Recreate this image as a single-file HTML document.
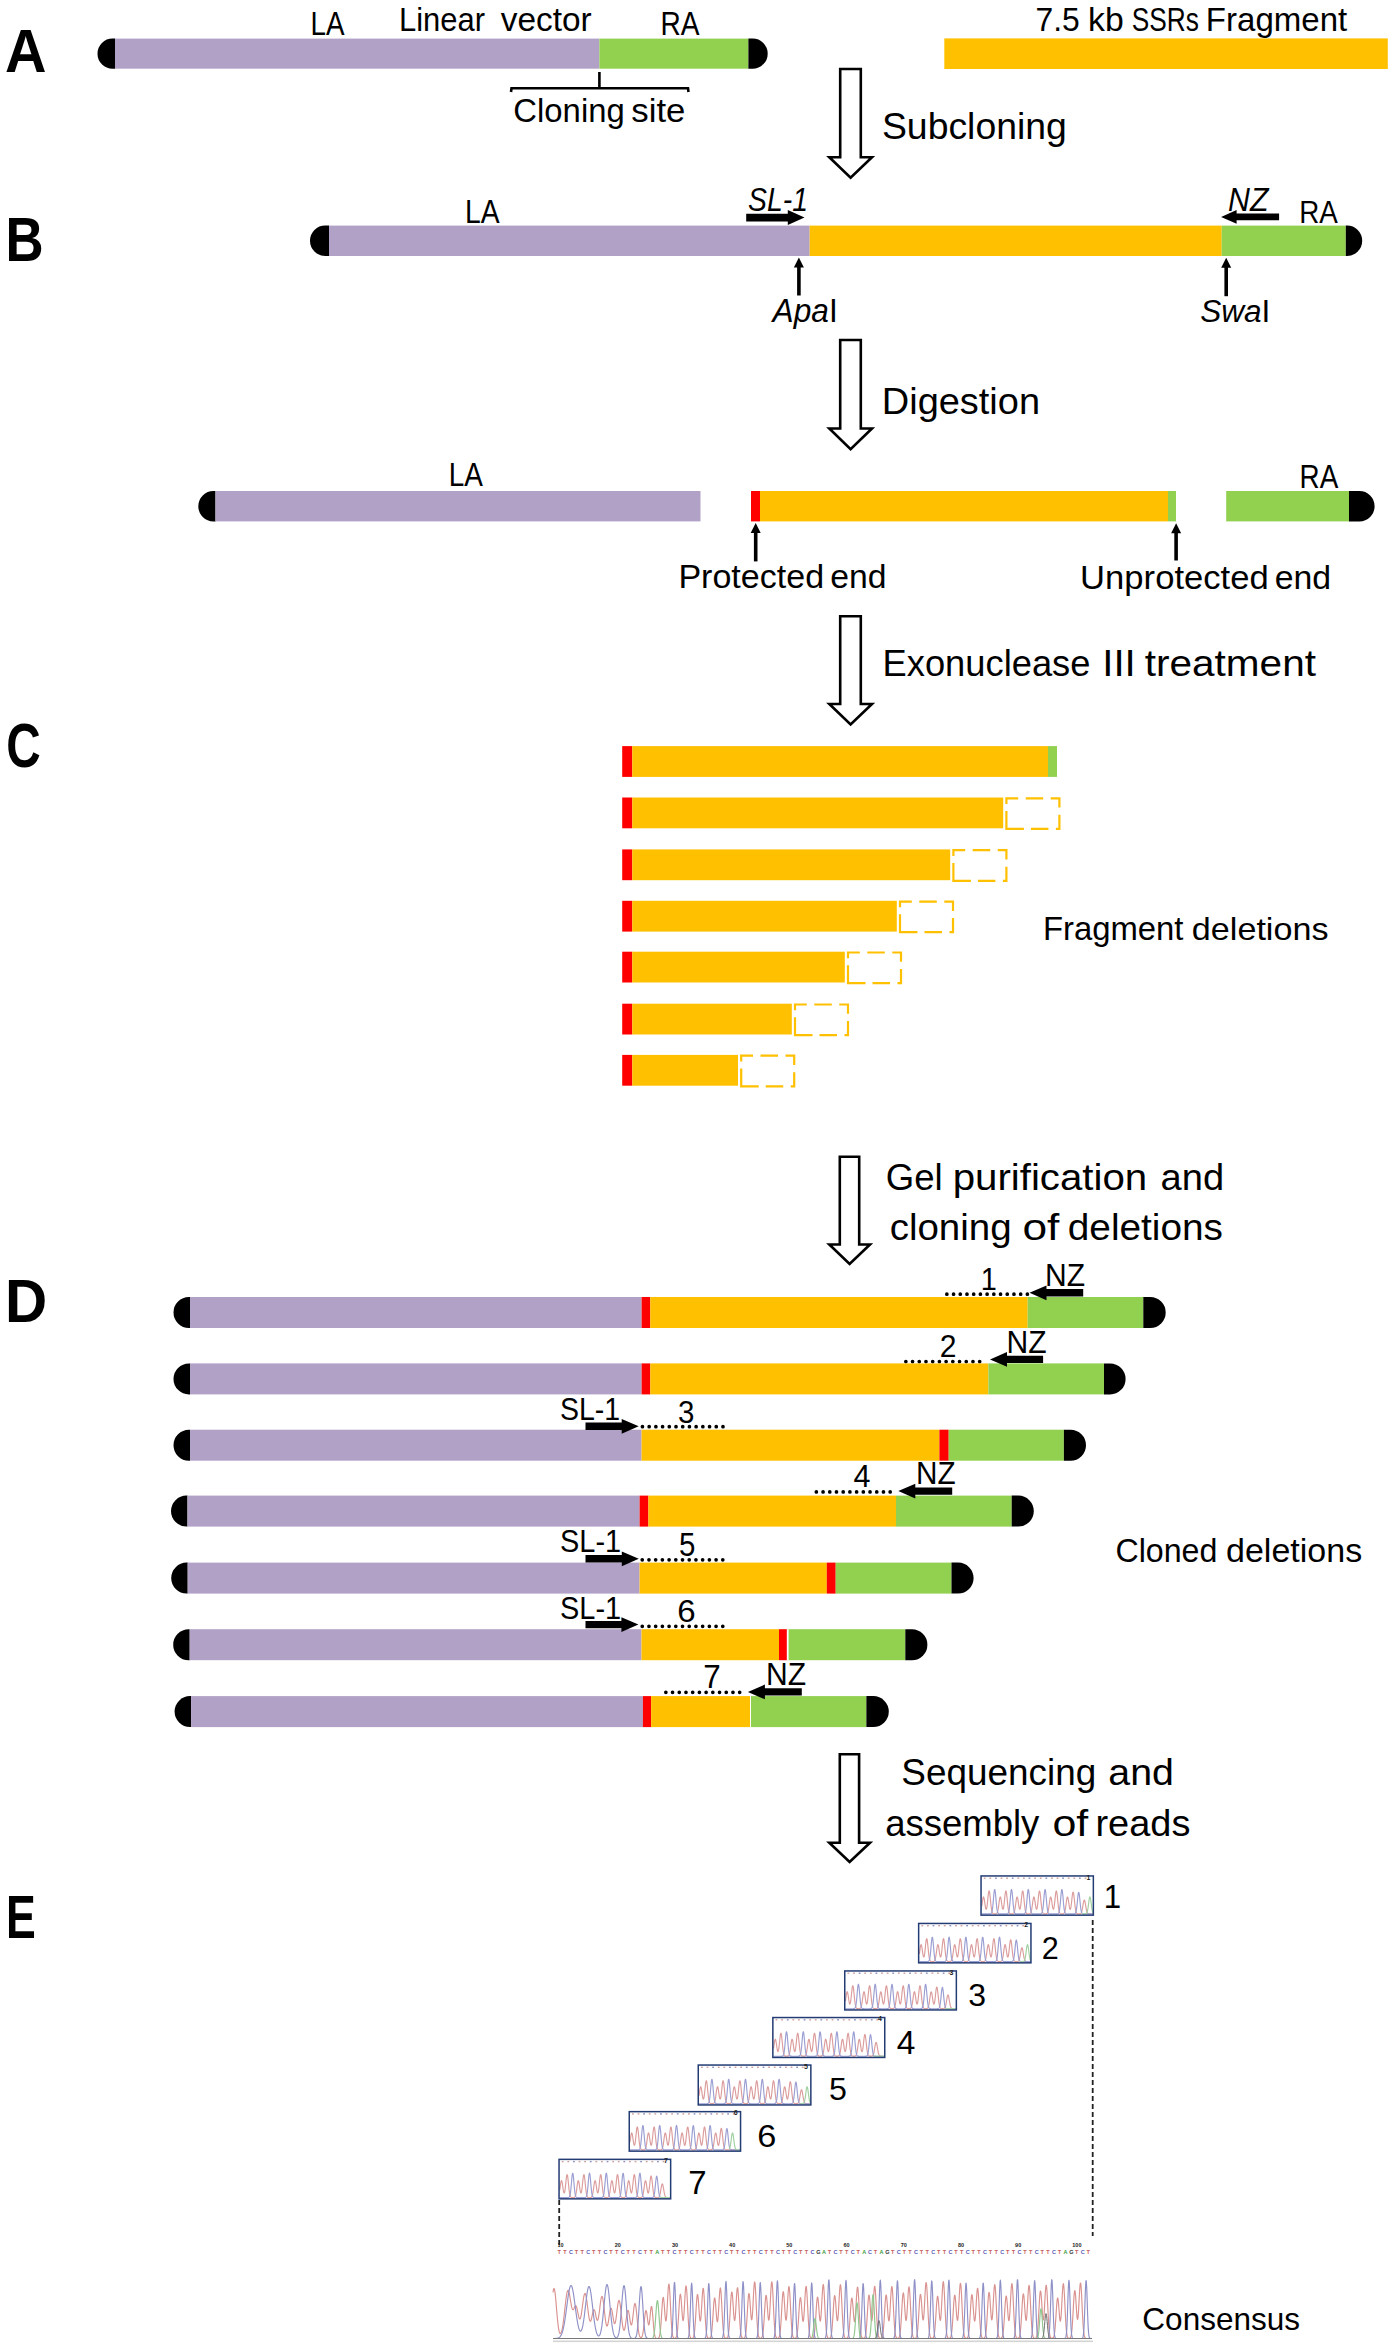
<!DOCTYPE html>
<html><head><meta charset="utf-8"><style>
html,body{margin:0;padding:0;background:#fff;}
body{width:1395px;height:2350px;overflow:hidden;}
svg{display:block;font-family:"Liberation Sans",sans-serif;}

</style></head><body>
<svg width="1395" height="2350" viewBox="0 0 1395 2350">
<rect width="1395" height="2350" fill="#fff"/>
<text transform="translate(5.06,72.30) scale(0.9339,1)" font-size="61.53" fill="#000"><tspan font-weight="bold">A</tspan></text>
<path d="M115.00,38.60 L112.55,38.60 A15.05,15.05 0 0 0 112.55,68.70 L115.00,68.70 Z" fill="#000"/>
<rect x="115.00" y="38.60" width="484.40" height="30.10" fill="#B2A1C7"/>
<rect x="599.40" y="38.60" width="149.00" height="30.10" fill="#92D050"/>
<path d="M748.40,38.60 L752.65,38.60 A15.05,15.05 0 0 1 752.65,68.70 L748.40,68.70 Z" fill="#000"/>
<rect x="944.30" y="38.40" width="443.50" height="30.60" fill="#FFC000"/>
<text transform="translate(310.61,34.70) scale(0.8451,1)" font-size="32.87" fill="#000"><tspan>LA</tspan></text>
<text transform="translate(399.05,30.60) scale(0.9454,1)" font-size="32.73" fill="#000"><tspan>Linear</tspan></text>
<text transform="translate(500.72,30.60) scale(1.0212,1)" font-size="32.73" fill="#000"><tspan>vector</tspan></text>
<text transform="translate(660.58,35.00) scale(0.8406,1)" font-size="33.45" fill="#000"><tspan>RA</tspan></text>
<text transform="translate(1035.51,30.80) scale(0.9561,1)" font-size="33.31" fill="#000"><tspan>7.5</tspan></text>
<text transform="translate(1088.02,30.80) scale(1.0139,1)" font-size="33.31" fill="#000"><tspan>kb</tspan></text>
<text transform="translate(1131.72,30.80) scale(0.7897,1)" font-size="33.31" fill="#000"><tspan>SSRs</tspan></text>
<text transform="translate(1205.87,30.80) scale(0.9917,1)" font-size="33.31" fill="#000"><tspan>Fragment</tspan></text>
<path d="M511,92 L511.5,88.2 L688,88.2 L688.5,92 M599.4,72 L599.4,88.2" fill="none" stroke="#000" stroke-width="2.6"/>
<text transform="translate(513.36,122.20) scale(1.0000,1)" font-size="32.83" fill="#000"><tspan>Cloning</tspan></text>
<text transform="translate(631.34,122.20) scale(1.0584,1)" font-size="32.83" fill="#000"><tspan>site</tspan></text>
<path d="M840.2,69.0 L860.8,69.0 L860.8,157.3 L872.0,157.3 L850.6,177.8 L829.3,157.3 L840.2,157.3 Z" fill="#fff" stroke="#000" stroke-width="2.6" stroke-linejoin="miter"/>
<text transform="translate(881.92,138.90) scale(0.9875,1)" font-size="37.85" fill="#000"><tspan>Subcloning</tspan></text>
<text transform="translate(5.44,260.60) scale(0.8440,1)" font-size="62.55" fill="#000"><tspan font-weight="bold">B</tspan></text>
<path d="M329.00,225.60 L325.20,225.60 A15.20,15.20 0 0 0 325.20,256.00 L329.00,256.00 Z" fill="#000"/>
<rect x="329.00" y="225.60" width="480.70" height="30.40" fill="#B2A1C7"/>
<rect x="809.70" y="225.60" width="412.00" height="30.40" fill="#FFC000"/>
<rect x="1221.70" y="225.60" width="124.10" height="30.40" fill="#92D050"/>
<path d="M1345.80,225.60 L1347.00,225.60 A15.20,15.20 0 0 1 1347.00,256.00 L1345.80,256.00 Z" fill="#000"/>
<text transform="translate(465.06,223.00) scale(0.8462,1)" font-size="33.45" fill="#000"><tspan>LA</tspan></text>
<text transform="translate(748.12,210.60) scale(0.8673,1)" font-size="32.69" fill="#000"><tspan font-style="italic">SL-1</tspan></text>
<path d="M746.20,213.70 L787.80,213.70 L787.80,210.10 L804.50,217.60 L787.80,225.10 L787.80,221.50 L746.20,221.50 Z" fill="#000"/>
<text transform="translate(1228.09,210.50) scale(0.9300,1)" font-size="32.58" fill="#000"><tspan font-style="italic">NZ</tspan></text>
<path d="M1279.10,213.50 L1236.60,213.50 L1236.60,210.00 L1221.10,216.90 L1236.60,223.80 L1236.60,220.30 L1279.10,220.30 Z" fill="#000"/>
<text transform="translate(1299.21,223.00) scale(0.8614,1)" font-size="32.29" fill="#000"><tspan>RA</tspan></text>
<path d="M798.90,295.50 L798.90,263.40" stroke="#000" stroke-width="3.6"/>
<path d="M793.90,267.40 L798.90,257.40 L803.90,267.40 Z" fill="#000"/>
<path d="M1226.20,296.20 L1226.20,263.80" stroke="#000" stroke-width="3.6"/>
<path d="M1221.20,267.80 L1226.20,257.80 L1231.20,267.80 Z" fill="#000"/>
<text transform="translate(772.58,322.00) scale(0.9464,1)" font-size="33.45" fill="#000"><tspan font-style="italic">Apa</tspan><tspan>I</tspan></text>
<text transform="translate(1200.13,321.70) scale(0.9790,1)" font-size="32.26" fill="#000"><tspan font-style="italic">Swa</tspan><tspan>I</tspan></text>
<path d="M840.2,340.0 L860.8,340.0 L860.8,428.5 L872.0,428.5 L850.6,449.3 L829.3,428.5 L840.2,428.5 Z" fill="#fff" stroke="#000" stroke-width="2.6" stroke-linejoin="miter"/>
<text transform="translate(881.87,413.50) scale(1.0109,1)" font-size="37.53" fill="#000"><tspan>Digestion</tspan></text>
<path d="M215.50,491.00 L213.50,491.00 A15.20,15.20 0 0 0 213.50,521.40 L215.50,521.40 Z" fill="#000"/>
<rect x="215.50" y="491.00" width="485.00" height="30.40" fill="#B2A1C7"/>
<rect x="751.00" y="491.00" width="9.00" height="30.40" fill="#FF0000"/>
<rect x="760.00" y="491.00" width="408.00" height="30.40" fill="#FFC000"/>
<rect x="1168.00" y="491.00" width="8.00" height="30.40" fill="#92D050"/>
<rect x="1226.20" y="491.00" width="122.80" height="30.40" fill="#92D050"/>
<path d="M1349.00,491.00 L1359.40,491.00 A15.20,15.20 0 0 1 1359.40,521.40 L1349.00,521.40 Z" fill="#000"/>
<text transform="translate(448.79,486.40) scale(0.8393,1)" font-size="33.31" fill="#000"><tspan>LA</tspan></text>
<text transform="translate(1299.50,487.70) scale(0.8337,1)" font-size="33.45" fill="#000"><tspan>RA</tspan></text>
<path d="M755.70,561.40 L755.70,529.00" stroke="#000" stroke-width="3.6"/>
<path d="M750.70,533.00 L755.70,523.00 L760.70,533.00 Z" fill="#000"/>
<path d="M1176.10,560.50 L1176.10,529.20" stroke="#000" stroke-width="3.6"/>
<path d="M1171.10,533.20 L1176.10,523.20 L1181.10,533.20 Z" fill="#000"/>
<text transform="translate(678.39,588.30) scale(1.0358,1)" font-size="32.87" fill="#000"><tspan>Protected</tspan></text>
<text transform="translate(830.27,588.30) scale(1.0260,1)" font-size="32.87" fill="#000"><tspan>end</tspan></text>
<text transform="translate(1080.12,588.50) scale(1.0529,1)" font-size="32.87" fill="#000"><tspan>Unprotected</tspan></text>
<text transform="translate(1274.66,588.50) scale(1.0299,1)" font-size="32.87" fill="#000"><tspan>end</tspan></text>
<path d="M840.2,616.3 L860.8,616.3 L860.8,704.0 L872.0,704.0 L850.6,724.5 L829.3,704.0 L840.2,704.0 Z" fill="#fff" stroke="#000" stroke-width="2.6" stroke-linejoin="miter"/>
<text transform="translate(882.50,675.70) scale(0.9683,1)" font-size="37.53" fill="#000"><tspan>Exonuclease</tspan></text>
<text transform="translate(1102.29,675.70) scale(1.0700,1)" font-size="37.53" fill="#000"><tspan>III</tspan></text>
<text transform="translate(1144.79,675.70) scale(1.0798,1)" font-size="37.53" fill="#000"><tspan>treatment</tspan></text>
<text transform="translate(6.29,767.00) scale(0.7673,1)" font-size="62.08" fill="#000"><tspan font-weight="bold">C</tspan></text>
<rect x="622.20" y="746.10" width="10.10" height="30.80" fill="#FF0000"/>
<rect x="632.30" y="746.10" width="415.70" height="30.80" fill="#FFC000"/>
<rect x="1048.00" y="746.10" width="9.00" height="30.80" fill="#92D050"/>
<rect x="622.20" y="797.50" width="10.10" height="30.80" fill="#FF0000"/>
<rect x="632.30" y="797.50" width="370.90" height="30.80" fill="#FFC000"/>
<path d="M1006.40,804.00 L1006.40,798.30 L1018.20,798.30 M1025.70,798.30 L1043.20,798.30 M1050.70,798.30 L1059.40,798.30 L1059.40,807.60 M1059.40,814.80 L1059.40,828.90 L1055.90,828.90 M1048.40,828.90 L1030.90,828.90 M1023.90,828.90 L1006.40,828.90 L1006.40,811.00" fill="none" stroke="#FFC000" stroke-width="2.2" stroke-linejoin="miter"/>
<rect x="622.20" y="849.40" width="10.10" height="30.80" fill="#FF0000"/>
<rect x="632.30" y="849.40" width="317.90" height="30.80" fill="#FFC000"/>
<path d="M953.40,855.90 L953.40,850.20 L965.20,850.20 M972.70,850.20 L990.20,850.20 M997.70,850.20 L1006.40,850.20 L1006.40,859.50 M1006.40,866.70 L1006.40,880.80 L1002.90,880.80 M995.40,880.80 L977.90,880.80 M970.90,880.80 L953.40,880.80 L953.40,862.90" fill="none" stroke="#FFC000" stroke-width="2.2" stroke-linejoin="miter"/>
<rect x="622.20" y="900.80" width="10.10" height="30.80" fill="#FF0000"/>
<rect x="632.30" y="900.80" width="264.50" height="30.80" fill="#FFC000"/>
<path d="M900.00,907.30 L900.00,901.60 L911.80,901.60 M919.30,901.60 L936.80,901.60 M944.30,901.60 L953.00,901.60 L953.00,910.90 M953.00,918.10 L953.00,932.20 L949.50,932.20 M942.00,932.20 L924.50,932.20 M917.50,932.20 L900.00,932.20 L900.00,914.30" fill="none" stroke="#FFC000" stroke-width="2.2" stroke-linejoin="miter"/>
<rect x="622.20" y="951.70" width="10.10" height="30.80" fill="#FF0000"/>
<rect x="632.30" y="951.70" width="212.50" height="30.80" fill="#FFC000"/>
<path d="M848.00,958.20 L848.00,952.50 L859.80,952.50 M867.30,952.50 L884.80,952.50 M892.30,952.50 L901.00,952.50 L901.00,961.80 M901.00,969.00 L901.00,983.10 L897.50,983.10 M890.00,983.10 L872.50,983.10 M865.50,983.10 L848.00,983.10 L848.00,965.20" fill="none" stroke="#FFC000" stroke-width="2.2" stroke-linejoin="miter"/>
<rect x="622.20" y="1003.70" width="10.10" height="30.80" fill="#FF0000"/>
<rect x="632.30" y="1003.70" width="159.50" height="30.80" fill="#FFC000"/>
<path d="M795.00,1010.20 L795.00,1004.50 L806.80,1004.50 M814.30,1004.50 L831.80,1004.50 M839.30,1004.50 L848.00,1004.50 L848.00,1013.80 M848.00,1021.00 L848.00,1035.10 L844.50,1035.10 M837.00,1035.10 L819.50,1035.10 M812.50,1035.10 L795.00,1035.10 L795.00,1017.20" fill="none" stroke="#FFC000" stroke-width="2.2" stroke-linejoin="miter"/>
<rect x="622.20" y="1054.90" width="10.10" height="30.80" fill="#FF0000"/>
<rect x="632.30" y="1054.90" width="105.70" height="30.80" fill="#FFC000"/>
<path d="M741.20,1061.40 L741.20,1055.70 L753.00,1055.70 M760.50,1055.70 L778.00,1055.70 M785.50,1055.70 L794.20,1055.70 L794.20,1065.00 M794.20,1072.20 L794.20,1086.30 L790.70,1086.30 M783.20,1086.30 L765.70,1086.30 M758.70,1086.30 L741.20,1086.30 L741.20,1068.40" fill="none" stroke="#FFC000" stroke-width="2.2" stroke-linejoin="miter"/>
<text transform="translate(1042.89,940.00) scale(1.0177,1)" font-size="32.29" fill="#000"><tspan>Fragment</tspan></text>
<text transform="translate(1191.85,940.00) scale(1.0573,1)" font-size="32.29" fill="#000"><tspan>deletions</tspan></text>
<path d="M839.8,1156.8 L859.2,1156.8 L859.2,1244.5 L870.0,1244.5 L849.6,1264.0 L829.3,1244.5 L839.8,1244.5 Z" fill="#fff" stroke="#000" stroke-width="2.6" stroke-linejoin="miter"/>
<text transform="translate(885.67,1189.60) scale(0.9669,1)" font-size="37.85" fill="#000"><tspan>Gel</tspan></text>
<text transform="translate(952.68,1189.60) scale(1.0630,1)" font-size="37.85" fill="#000"><tspan>purification</tspan></text>
<text transform="translate(1160.58,1189.60) scale(1.0061,1)" font-size="37.85" fill="#000"><tspan>and</tspan></text>
<text transform="translate(889.66,1240.30) scale(1.0171,1)" font-size="37.85" fill="#000"><tspan>cloning</tspan></text>
<text transform="translate(1022.42,1240.30) scale(1.1702,1)" font-size="37.85" fill="#000"><tspan>of</tspan></text>
<text transform="translate(1067.75,1240.30) scale(1.0252,1)" font-size="37.85" fill="#000"><tspan>deletions</tspan></text>
<text transform="translate(5.05,1322.30) scale(0.9683,1)" font-size="60.36" fill="#000"><tspan font-weight="bold">D</tspan></text>
<path d="M190.00,1297.00 L189.00,1297.00 A15.50,15.50 0 0 0 189.00,1328.00 L190.00,1328.00 Z" fill="#000"/>
<rect x="190.00" y="1297.00" width="451.60" height="31.00" fill="#B2A1C7"/>
<rect x="641.60" y="1297.00" width="8.70" height="31.00" fill="#FF0000"/>
<rect x="650.30" y="1297.00" width="377.40" height="31.00" fill="#FFC000"/>
<rect x="1027.70" y="1297.00" width="115.60" height="31.00" fill="#92D050"/>
<path d="M1143.30,1297.00 L1150.20,1297.00 A15.50,15.50 0 0 1 1150.20,1328.00 L1143.30,1328.00 Z" fill="#000"/>
<path d="M190.00,1363.40 L189.00,1363.40 A15.50,15.50 0 0 0 189.00,1394.40 L190.00,1394.40 Z" fill="#000"/>
<rect x="190.00" y="1363.40" width="451.60" height="31.00" fill="#B2A1C7"/>
<rect x="641.60" y="1363.40" width="8.70" height="31.00" fill="#FF0000"/>
<rect x="650.30" y="1363.40" width="338.10" height="31.00" fill="#FFC000"/>
<rect x="988.40" y="1363.40" width="115.60" height="31.00" fill="#92D050"/>
<path d="M1104.00,1363.40 L1110.10,1363.40 A15.50,15.50 0 0 1 1110.10,1394.40 L1104.00,1394.40 Z" fill="#000"/>
<path d="M190.00,1429.70 L189.00,1429.70 A15.50,15.50 0 0 0 189.00,1460.70 L190.00,1460.70 Z" fill="#000"/>
<rect x="190.00" y="1429.70" width="451.60" height="31.00" fill="#B2A1C7"/>
<rect x="641.60" y="1429.70" width="297.80" height="31.00" fill="#FFC000"/>
<rect x="939.40" y="1429.70" width="9.30" height="31.00" fill="#FF0000"/>
<rect x="948.70" y="1429.70" width="115.20" height="31.00" fill="#92D050"/>
<path d="M1063.90,1429.70 L1070.50,1429.70 A15.50,15.50 0 0 1 1070.50,1460.70 L1063.90,1460.70 Z" fill="#000"/>
<path d="M187.50,1495.60 L186.50,1495.60 A15.50,15.50 0 0 0 186.50,1526.60 L187.50,1526.60 Z" fill="#000"/>
<rect x="187.50" y="1495.60" width="452.10" height="31.00" fill="#B2A1C7"/>
<rect x="639.60" y="1495.60" width="8.80" height="31.00" fill="#FF0000"/>
<rect x="648.40" y="1495.60" width="247.60" height="31.00" fill="#FFC000"/>
<rect x="896.00" y="1495.60" width="115.70" height="31.00" fill="#92D050"/>
<path d="M1011.70,1495.60 L1018.30,1495.60 A15.50,15.50 0 0 1 1018.30,1526.60 L1011.70,1526.60 Z" fill="#000"/>
<path d="M187.70,1562.60 L186.70,1562.60 A15.50,15.50 0 0 0 186.70,1593.60 L187.70,1593.60 Z" fill="#000"/>
<rect x="187.70" y="1562.60" width="451.90" height="31.00" fill="#B2A1C7"/>
<rect x="639.60" y="1562.60" width="187.20" height="31.00" fill="#FFC000"/>
<rect x="826.80" y="1562.60" width="8.90" height="31.00" fill="#FF0000"/>
<rect x="835.70" y="1562.60" width="115.80" height="31.00" fill="#92D050"/>
<path d="M951.50,1562.60 L958.10,1562.60 A15.50,15.50 0 0 1 958.10,1593.60 L951.50,1593.60 Z" fill="#000"/>
<path d="M189.70,1629.20 L188.70,1629.20 A15.50,15.50 0 0 0 188.70,1660.20 L189.70,1660.20 Z" fill="#000"/>
<rect x="189.70" y="1629.20" width="451.80" height="31.00" fill="#B2A1C7"/>
<rect x="641.50" y="1629.20" width="137.50" height="31.00" fill="#FFC000"/>
<rect x="779.00" y="1629.20" width="8.30" height="31.00" fill="#FF0000"/>
<rect x="787.30" y="1629.20" width="118.00" height="31.00" fill="#92D050"/>
<path d="M905.30,1629.20 L911.90,1629.20 A15.50,15.50 0 0 1 911.90,1660.20 L905.30,1660.20 Z" fill="#000"/>
<rect x="786.80" y="1629.20" width="1.80" height="31.00" fill="#fff"/>
<path d="M191.10,1696.10 L190.10,1696.10 A15.50,15.50 0 0 0 190.10,1727.10 L191.10,1727.10 Z" fill="#000"/>
<rect x="191.10" y="1696.10" width="451.80" height="31.00" fill="#B2A1C7"/>
<rect x="642.90" y="1696.10" width="8.20" height="31.00" fill="#FF0000"/>
<rect x="651.10" y="1696.10" width="98.90" height="31.00" fill="#FFC000"/>
<rect x="750.00" y="1696.10" width="116.40" height="31.00" fill="#92D050"/>
<path d="M866.40,1696.10 L873.30,1696.10 A15.50,15.50 0 0 1 873.30,1727.10 L866.40,1727.10 Z" fill="#000"/>
<rect x="750.00" y="1696.10" width="1.00" height="31.00" fill="#fff"/>
<path d="M946.85,1294.20 L1027.70,1294.20" stroke="#000" stroke-width="3.70" stroke-linecap="round" stroke-dasharray="0.01 6.70"/>
<path d="M1083.20,1289.10 L1046.50,1289.10 L1046.50,1285.40 L1029.50,1292.80 L1046.50,1300.20 L1046.50,1296.50 L1083.20,1296.50 Z" fill="#000"/>
<text transform="translate(980.73,1290.00) scale(0.9199,1)" font-size="31.42" fill="#000"><tspan>1</tspan></text>
<text transform="translate(1044.92,1285.50) scale(0.9619,1)" font-size="31.27" fill="#000"><tspan>NZ</tspan></text>
<path d="M905.85,1361.50 L986.00,1361.50" stroke="#000" stroke-width="3.70" stroke-linecap="round" stroke-dasharray="0.01 6.70"/>
<path d="M1043.10,1355.70 L1007.00,1355.70 L1007.00,1352.00 L990.00,1359.40 L1007.00,1366.80 L1007.00,1363.10 L1043.10,1363.10 Z" fill="#000"/>
<text transform="translate(939.79,1356.50) scale(0.9634,1)" font-size="31.25" fill="#000"><tspan>2</tspan></text>
<text transform="translate(1006.42,1352.50) scale(0.9487,1)" font-size="31.71" fill="#000"><tspan>NZ</tspan></text>
<path d="M642.45,1426.70 L724.50,1426.70" stroke="#000" stroke-width="3.70" stroke-linecap="round" stroke-dasharray="0.01 6.70"/>
<path d="M585.50,1422.60 L621.70,1422.60 L621.70,1418.90 L638.70,1426.30 L621.70,1433.70 L621.70,1430.00 L585.50,1430.00 Z" fill="#000"/>
<text transform="translate(560.02,1419.70) scale(0.9036,1)" font-size="31.54" fill="#000"><tspan>SL-1</tspan></text>
<text transform="translate(677.89,1423.20) scale(0.9219,1)" font-size="31.97" fill="#000"><tspan>3</tspan></text>
<path d="M816.35,1491.90 L895.50,1491.90" stroke="#000" stroke-width="3.70" stroke-linecap="round" stroke-dasharray="0.01 6.70"/>
<path d="M952.20,1487.40 L915.30,1487.40 L915.30,1483.70 L898.30,1491.10 L915.30,1498.50 L915.30,1494.80 L952.20,1494.80 Z" fill="#000"/>
<text transform="translate(853.51,1487.10) scale(0.9617,1)" font-size="31.71" fill="#000"><tspan>4</tspan></text>
<text transform="translate(915.95,1483.90) scale(0.9383,1)" font-size="31.71" fill="#000"><tspan>NZ</tspan></text>
<path d="M642.25,1559.80 L726.00,1559.80" stroke="#000" stroke-width="3.70" stroke-linecap="round" stroke-dasharray="0.01 6.70"/>
<path d="M585.50,1555.10 L621.80,1555.10 L621.80,1551.40 L638.80,1558.80 L621.80,1566.20 L621.80,1562.50 L585.50,1562.50 Z" fill="#000"/>
<text transform="translate(560.10,1552.10) scale(0.9204,1)" font-size="31.40" fill="#000"><tspan>SL-1</tspan></text>
<text transform="translate(679.12,1555.70) scale(0.9087,1)" font-size="32.44" fill="#000"><tspan>5</tspan></text>
<path d="M642.25,1626.30 L726.00,1626.30" stroke="#000" stroke-width="3.70" stroke-linecap="round" stroke-dasharray="0.01 6.70"/>
<path d="M585.50,1620.90 L621.40,1620.90 L621.40,1617.20 L638.40,1624.60 L621.40,1632.00 L621.40,1628.30 L585.50,1628.30 Z" fill="#000"/>
<text transform="translate(560.10,1618.50) scale(0.9204,1)" font-size="31.40" fill="#000"><tspan>SL-1</tspan></text>
<text transform="translate(677.35,1621.80) scale(1.0488,1)" font-size="31.54" fill="#000"><tspan>6</tspan></text>
<path d="M665.85,1692.30 L745.50,1692.30" stroke="#000" stroke-width="3.70" stroke-linecap="round" stroke-dasharray="0.01 6.70"/>
<path d="M801.80,1688.20 L764.90,1688.20 L764.90,1684.50 L747.90,1691.90 L764.90,1699.30 L764.90,1695.60 L801.80,1695.60 Z" fill="#000"/>
<text transform="translate(703.33,1688.30) scale(0.9646,1)" font-size="32.58" fill="#000"><tspan>7</tspan></text>
<text transform="translate(766.02,1685.40) scale(0.9487,1)" font-size="31.71" fill="#000"><tspan>NZ</tspan></text>
<text transform="translate(1115.39,1561.60) scale(0.9684,1)" font-size="33.26" fill="#000"><tspan>Cloned</tspan></text>
<text transform="translate(1226.05,1561.60) scale(1.0226,1)" font-size="33.26" fill="#000"><tspan>deletions</tspan></text>
<path d="M839.8,1754.2 L859.1,1754.2 L859.1,1842.7 L870.0,1842.7 L849.6,1862.0 L829.3,1842.7 L839.8,1842.7 Z" fill="#fff" stroke="#000" stroke-width="2.6" stroke-linejoin="miter"/>
<text transform="translate(901.34,1784.60) scale(0.9896,1)" font-size="37.28" fill="#000"><tspan>Sequencing</tspan></text>
<text transform="translate(1108.33,1784.60) scale(1.0542,1)" font-size="37.28" fill="#000"><tspan>and</tspan></text>
<text transform="translate(885.15,1835.80) scale(0.9800,1)" font-size="37.28" fill="#000"><tspan>assembly</tspan></text>
<text transform="translate(1052.48,1835.80) scale(1.1509,1)" font-size="37.28" fill="#000"><tspan>of</tspan></text>
<text transform="translate(1095.43,1835.80) scale(1.0184,1)" font-size="37.28" fill="#000"><tspan>reads</tspan></text>
<text transform="translate(5.99,1938.00) scale(0.7325,1)" font-size="60.95" fill="#000"><tspan font-weight="bold">E</tspan></text>
<polyline points="981.80,1906.21 982.13,1903.71 982.47,1901.20 982.80,1899.02 983.14,1897.50 983.47,1896.90 983.81,1897.32 984.14,1898.68 984.47,1900.73 984.81,1903.12 985.14,1905.48 985.48,1907.45 985.81,1908.79 986.15,1909.31 986.48,1908.92 986.81,1907.58 987.15,1905.37 987.48,1902.47 987.82,1899.16 988.15,1895.90 988.48,1893.15 988.82,1891.39 989.15,1890.92 989.49,1891.83 989.82,1893.96 990.16,1896.96 990.49,1900.36 990.82,1903.73 991.16,1906.71 991.49,1909.12 991.83,1910.91 992.16,1912.14 992.50,1912.93 992.83,1913.39 993.16,1913.65 993.50,1913.79 993.83,1913.85 994.17,1913.88 994.50,1913.89 994.84,1913.89 995.17,1913.89 995.50,1913.87 995.84,1913.83 996.17,1913.74 996.51,1913.57 996.84,1913.26 997.17,1912.73 997.51,1911.89 997.84,1910.65 998.18,1908.96 998.51,1906.83 998.85,1904.38 999.18,1901.85 999.51,1899.55 999.85,1897.82 1000.18,1896.96 1000.52,1897.11 1000.85,1898.24 1001.19,1900.14 1001.52,1902.48 1001.85,1904.88 1002.19,1906.98 1002.52,1908.51 1002.86,1909.26 1003.19,1909.11 1003.53,1908.02 1003.86,1906.04 1004.19,1903.29 1004.53,1900.05 1004.86,1896.73 1005.20,1893.80 1005.53,1891.74 1005.86,1890.90 1006.20,1891.46 1006.53,1893.30 1006.87,1896.11 1007.20,1899.45 1007.54,1902.86 1007.87,1905.97 1008.20,1908.54 1008.54,1910.50 1008.87,1911.86 1009.21,1912.76 1009.54,1913.29 1009.88,1913.60 1010.21,1913.76 1010.54,1913.84 1010.88,1913.87 1011.21,1913.89 1011.55,1913.89 1011.88,1913.89 1012.22,1913.88 1012.55,1913.84 1012.88,1913.77 1013.22,1913.63 1013.55,1913.36 1013.89,1912.90 1014.22,1912.15 1014.55,1911.02 1014.89,1909.45 1015.22,1907.43 1015.56,1905.05 1015.89,1902.51 1016.23,1900.11 1016.56,1898.20 1016.89,1897.09 1017.23,1896.97 1017.56,1897.85 1017.90,1899.58 1018.23,1901.84 1018.57,1904.26 1018.90,1906.47 1019.23,1908.18 1019.57,1909.14 1019.90,1909.24 1020.24,1908.40 1020.57,1906.64 1020.91,1904.07 1021.24,1900.93 1021.57,1897.59 1021.91,1894.51 1022.24,1892.17 1022.58,1890.99 1022.91,1891.18 1023.25,1892.70 1023.58,1895.30 1023.91,1898.54 1024.25,1901.98 1024.58,1905.20 1024.92,1907.92 1025.25,1910.04 1025.58,1911.55 1025.92,1912.56 1026.25,1913.18 1026.59,1913.54 1026.92,1913.73 1027.26,1913.82 1027.59,1913.87 1027.92,1913.89 1028.26,1913.89 1028.59,1913.89 1028.93,1913.88 1029.26,1913.85 1029.60,1913.79 1029.93,1913.67 1030.26,1913.45 1030.60,1913.05 1030.93,1912.38 1031.27,1911.36 1031.60,1909.91 1031.94,1908.01 1032.27,1905.70 1032.60,1903.18 1032.94,1900.71 1033.27,1898.64 1033.61,1897.30 1033.94,1896.90 1034.27,1897.53 1034.61,1899.06 1034.94,1901.21 1035.28,1903.63 1035.61,1905.93 1035.95,1907.79 1036.28,1908.97 1036.61,1909.31 1036.95,1908.72 1037.28,1907.19 1037.62,1904.82 1037.95,1901.80 1038.29,1898.47 1038.62,1895.27 1038.95,1892.69 1039.29,1891.18 1039.62,1890.99 1039.96,1892.18 1040.29,1894.53 1040.63,1897.65 1040.96,1901.08 1041.29,1904.39 1041.63,1907.26 1041.96,1909.54 1042.30,1911.21 1042.63,1912.34 1042.96,1913.05 1043.30,1913.46 1043.63,1913.69 1043.97,1913.80 1044.30,1913.86 1044.64,1913.88 1044.97,1913.89 1045.30,1913.89 1045.64,1913.88 1045.97,1913.86 1046.31,1913.81 1046.64,1913.71 1046.98,1913.52 1047.31,1913.17 1047.64,1912.59 1047.98,1911.67 1048.31,1910.34 1048.65,1908.55 1048.98,1906.34 1049.32,1903.85 1049.65,1901.34 1049.98,1899.13 1050.32,1897.57 1050.65,1896.91 1050.99,1897.27 1051.32,1898.58 1051.65,1900.60 1051.99,1902.98 1052.32,1905.35 1052.66,1907.36 1052.99,1908.73 1053.33,1909.30 1053.66,1908.96 1053.99,1907.68 1054.33,1905.52 1054.66,1902.64 1055.00,1899.35 1055.33,1896.07 1055.67,1893.28 1056.00,1891.45 1056.33,1890.90 1056.67,1891.74 1057.00,1893.81 1057.34,1896.78 1057.67,1900.17 1058.01,1903.54 1058.34,1906.55 1058.67,1909.00 1059.01,1910.82 1059.34,1912.08 1059.68,1912.89 1060.01,1913.37 1060.35,1913.64 1060.68,1913.78 1061.01,1913.85 1061.35,1913.88 1061.68,1913.89 1062.02,1913.89 1062.35,1913.89 1062.68,1913.87 1063.02,1913.83 1063.35,1913.75 1063.69,1913.58 1064.02,1913.29 1064.36,1912.77 1064.69,1911.95 1065.02,1910.74 1065.36,1909.07 1065.69,1906.96 1066.03,1904.53 1066.36,1901.99 1066.70,1899.67 1067.03,1897.90 1067.36,1896.98 1067.70,1897.07 1068.03,1898.15 1068.37,1900.02 1068.70,1902.35 1069.04,1904.76 1069.37,1906.90 1069.70,1908.49 1070.04,1909.32 1070.37,1909.29 1070.71,1908.34 1071.04,1906.52 1071.37,1903.95 1071.71,1900.89 1072.04,1897.72 1072.38,1894.90 1072.71,1892.88 1073.05,1892.02 1073.38,1892.47 1073.71,1894.16 1074.05,1896.79 1074.38,1899.96 1074.72,1903.21 1075.05,1906.20 1075.39,1908.68 1075.72,1910.57 1076.05,1911.90 1076.39,1912.77 1076.72,1913.30 1077.06,1913.60 1077.39,1913.76 1077.73,1913.84 1078.06,1913.87 1078.39,1913.89 1078.73,1913.89 1079.06,1913.89 1079.40,1913.88 1079.73,1913.85 1080.06,1913.80 1080.40,1913.69 1080.73,1913.48 1081.07,1913.11 1081.40,1912.51 1081.74,1911.61 1082.07,1910.35 1082.40,1908.71 1082.74,1906.78 1083.07,1904.70 1083.41,1902.73 1083.74,1901.14 1084.08,1900.19 1084.41,1900.05 1084.74,1900.73 1085.08,1902.13 1085.41,1904.00 1085.75,1906.07 1086.08,1908.08 1086.42,1909.83 1086.75,1911.22 1087.08,1912.24 1087.42,1912.93 1087.75,1913.37 1088.09,1913.63 1088.42,1913.77 1088.75,1913.84 1089.09,1913.87 1089.42,1913.89 1089.76,1913.90 1090.09,1913.90 1090.43,1913.90 1090.76,1913.90 1091.09,1913.90 1091.43,1913.90 1091.76,1913.90 1092.10,1913.90 1092.43,1913.90 1092.77,1913.90 1093.10,1913.90" fill="none" stroke="#DC9C9C" stroke-width="1.15" stroke-linejoin="round"/>
<polyline points="981.80,1913.90 982.13,1913.90 982.47,1913.90 982.80,1913.90 983.14,1913.90 983.47,1913.90 983.81,1913.90 984.14,1913.90 984.47,1913.90 984.81,1913.90 985.14,1913.90 985.48,1913.90 985.81,1913.90 986.15,1913.90 986.48,1913.90 986.81,1913.90 987.15,1913.90 987.48,1913.90 987.82,1913.90 988.15,1913.90 988.48,1913.90 988.82,1913.90 989.15,1913.90 989.49,1913.90 989.82,1913.89 990.16,1913.87 990.49,1913.82 990.82,1913.70 991.16,1913.46 991.49,1912.99 991.83,1912.15 992.16,1910.79 992.50,1908.73 992.83,1905.90 993.16,1902.38 993.50,1898.47 993.83,1894.64 994.17,1891.53 994.50,1889.71 994.84,1889.54 995.17,1891.07 995.50,1893.97 995.84,1897.71 996.17,1901.65 996.51,1905.28 996.84,1908.25 997.17,1910.45 997.51,1911.94 997.84,1912.86 998.18,1913.39 998.51,1913.67 998.85,1913.80 999.18,1913.86 999.51,1913.89 999.85,1913.89 1000.18,1913.90 1000.52,1913.90 1000.85,1913.90 1001.19,1913.90 1001.52,1913.90 1001.85,1913.90 1002.19,1913.90 1002.52,1913.90 1002.86,1913.90 1003.19,1913.90 1003.53,1913.90 1003.86,1913.90 1004.19,1913.90 1004.53,1913.90 1004.86,1913.90 1005.20,1913.90 1005.53,1913.90 1005.86,1913.90 1006.20,1913.90 1006.53,1913.89 1006.87,1913.87 1007.20,1913.83 1007.54,1913.74 1007.87,1913.54 1008.20,1913.14 1008.54,1912.42 1008.87,1911.21 1009.21,1909.34 1009.54,1906.72 1009.88,1903.37 1010.21,1899.52 1010.54,1895.61 1010.88,1892.25 1011.21,1890.04 1011.55,1889.42 1011.88,1890.51 1012.22,1893.10 1012.55,1896.68 1012.88,1900.62 1013.22,1904.37 1013.55,1907.53 1013.89,1909.94 1014.22,1911.61 1014.55,1912.66 1014.89,1913.28 1015.22,1913.61 1015.56,1913.77 1015.89,1913.85 1016.23,1913.88 1016.56,1913.89 1016.89,1913.90 1017.23,1913.90 1017.56,1913.90 1017.90,1913.90 1018.23,1913.90 1018.57,1913.90 1018.90,1913.90 1019.23,1913.90 1019.57,1913.90 1019.90,1913.90 1020.24,1913.90 1020.57,1913.90 1020.91,1913.90 1021.24,1913.90 1021.57,1913.90 1021.91,1913.90 1022.24,1913.90 1022.58,1913.90 1022.91,1913.90 1023.25,1913.89 1023.58,1913.88 1023.91,1913.85 1024.25,1913.77 1024.58,1913.61 1024.92,1913.27 1025.25,1912.65 1025.58,1911.59 1025.92,1909.91 1026.25,1907.49 1026.59,1904.32 1026.92,1900.56 1027.26,1896.62 1027.59,1893.05 1027.92,1890.48 1028.26,1889.41 1028.59,1890.06 1028.93,1892.30 1029.26,1895.67 1029.60,1899.58 1029.93,1903.43 1030.26,1906.77 1030.60,1909.38 1030.93,1911.23 1031.27,1912.43 1031.60,1913.15 1031.94,1913.54 1032.27,1913.74 1032.60,1913.83 1032.94,1913.87 1033.27,1913.89 1033.61,1913.90 1033.94,1913.90 1034.27,1913.90 1034.61,1913.90 1034.94,1913.90 1035.28,1913.90 1035.61,1913.90 1035.95,1913.90 1036.28,1913.90 1036.61,1913.90 1036.95,1913.90 1037.28,1913.90 1037.62,1913.90 1037.95,1913.90 1038.29,1913.90 1038.62,1913.90 1038.95,1913.90 1039.29,1913.90 1039.62,1913.90 1039.96,1913.89 1040.29,1913.89 1040.63,1913.86 1040.96,1913.80 1041.29,1913.66 1041.63,1913.38 1041.96,1912.85 1042.30,1911.92 1042.63,1910.42 1042.96,1908.20 1043.30,1905.22 1043.63,1901.59 1043.97,1897.65 1044.30,1893.92 1044.64,1891.03 1044.97,1889.53 1045.30,1889.73 1045.64,1891.57 1045.97,1894.70 1046.31,1898.53 1046.64,1902.45 1046.98,1905.95 1047.31,1908.77 1047.64,1910.81 1047.98,1912.17 1048.31,1913.00 1048.65,1913.46 1048.98,1913.70 1049.32,1913.82 1049.65,1913.87 1049.98,1913.89 1050.32,1913.90 1050.65,1913.90 1050.99,1913.90 1051.32,1913.90 1051.65,1913.90 1051.99,1913.90 1052.32,1913.90 1052.66,1913.90 1052.99,1913.90 1053.33,1913.90 1053.66,1913.90 1053.99,1913.90 1054.33,1913.90 1054.66,1913.90 1055.00,1913.90 1055.33,1913.90 1055.67,1913.90 1056.00,1913.90 1056.33,1913.90 1056.67,1913.90 1057.00,1913.89 1057.34,1913.87 1057.67,1913.82 1058.01,1913.71 1058.34,1913.48 1058.67,1913.02 1059.01,1912.21 1059.34,1910.88 1059.68,1908.86 1060.01,1906.08 1060.35,1902.60 1060.68,1898.69 1061.01,1894.85 1061.35,1891.68 1061.68,1889.77 1062.02,1889.51 1062.35,1890.94 1062.68,1893.78 1063.02,1897.49 1063.35,1901.43 1063.69,1905.09 1064.02,1908.10 1064.36,1910.34 1064.69,1911.87 1065.02,1912.82 1065.36,1913.37 1065.69,1913.65 1066.03,1913.79 1066.36,1913.86 1066.70,1913.88 1067.03,1913.89 1067.36,1913.90 1067.70,1913.90 1068.03,1913.90 1068.37,1913.90 1068.70,1913.90 1069.04,1913.90 1069.37,1913.90 1069.70,1913.90 1070.04,1913.90 1070.37,1913.90 1070.71,1913.90 1071.04,1913.90 1071.37,1913.90 1071.71,1913.90 1072.04,1913.90 1072.38,1913.90 1072.71,1913.90 1073.05,1913.90 1073.38,1913.90 1073.71,1913.89 1074.05,1913.88 1074.38,1913.84 1074.72,1913.76 1075.05,1913.59 1075.39,1913.26 1075.72,1912.64 1076.05,1911.59 1076.39,1909.98 1076.72,1907.70 1077.06,1904.76 1077.39,1901.37 1077.73,1897.91 1078.06,1894.89 1078.39,1892.86 1078.73,1892.23 1079.06,1893.11 1079.40,1895.34 1079.73,1898.47 1080.06,1901.96 1080.40,1905.29 1080.73,1908.13 1081.07,1910.29 1081.40,1911.80 1081.74,1912.76 1082.07,1913.33 1082.40,1913.63 1082.74,1913.78 1083.07,1913.85 1083.41,1913.88 1083.74,1913.89 1084.08,1913.90 1084.41,1913.90 1084.74,1913.90 1085.08,1913.90 1085.41,1913.90 1085.75,1913.90 1086.08,1913.90 1086.42,1913.90 1086.75,1913.90 1087.08,1913.90 1087.42,1913.90 1087.75,1913.90 1088.09,1913.90 1088.42,1913.90 1088.75,1913.90 1089.09,1913.90 1089.42,1913.90 1089.76,1913.90 1090.09,1913.90 1090.43,1913.90 1090.76,1913.90 1091.09,1913.90 1091.43,1913.90 1091.76,1913.90 1092.10,1913.90 1092.43,1913.90 1092.77,1913.90 1093.10,1913.90" fill="none" stroke="#9A9ED2" stroke-width="1.15" stroke-linejoin="round"/>
<polyline points="1082.10,1913.90 1082.43,1913.90 1082.77,1913.90 1083.10,1913.90 1083.43,1913.90 1083.77,1913.90 1084.10,1913.90 1084.43,1913.90 1084.77,1913.89 1085.10,1913.88 1085.43,1913.85 1085.77,1913.79 1086.10,1913.66 1086.43,1913.41 1086.77,1912.97 1087.10,1912.23 1087.43,1911.09 1087.77,1909.48 1088.10,1907.38 1088.43,1904.90 1088.77,1902.27 1089.10,1899.83 1089.43,1897.96 1089.77,1896.99 1090.10,1897.10 1090.43,1898.27 1090.77,1900.29 1091.10,1902.80 1091.43,1905.42 1091.77,1907.84 1092.10,1909.84 1092.43,1911.35 1092.77,1912.41 1093.10,1913.08" fill="none" stroke="#A0D0A0" stroke-width="1.15" stroke-linejoin="round"/>
<rect x="983.8" y="1877.5" width="1.8" height="1.4" fill="#D0A0A0"/>
<rect x="989.4" y="1877.5" width="1.8" height="1.4" fill="#D0A0A0"/>
<rect x="995.0" y="1877.5" width="1.8" height="1.4" fill="#9090C0"/>
<rect x="1000.6" y="1877.5" width="1.8" height="1.4" fill="#D0A0A0"/>
<rect x="1006.2" y="1877.5" width="1.8" height="1.4" fill="#D0A0A0"/>
<rect x="1011.8" y="1877.5" width="1.8" height="1.4" fill="#9090C0"/>
<rect x="1017.4" y="1877.5" width="1.8" height="1.4" fill="#D0A0A0"/>
<rect x="1023.0" y="1877.5" width="1.8" height="1.4" fill="#D0A0A0"/>
<rect x="1028.6" y="1877.5" width="1.8" height="1.4" fill="#9090C0"/>
<rect x="1034.2" y="1877.5" width="1.8" height="1.4" fill="#D0A0A0"/>
<rect x="1039.8" y="1877.5" width="1.8" height="1.4" fill="#D0A0A0"/>
<rect x="1045.4" y="1877.5" width="1.8" height="1.4" fill="#9090C0"/>
<rect x="1051.0" y="1877.5" width="1.8" height="1.4" fill="#D0A0A0"/>
<rect x="1056.6" y="1877.5" width="1.8" height="1.4" fill="#D0A0A0"/>
<rect x="1062.2" y="1877.5" width="1.8" height="1.4" fill="#9090C0"/>
<rect x="1067.8" y="1877.5" width="1.8" height="1.4" fill="#D0A0A0"/>
<rect x="1073.4" y="1877.5" width="1.8" height="1.4" fill="#D0A0A0"/>
<rect x="1079.0" y="1877.5" width="1.8" height="1.4" fill="#9090C0"/>
<rect x="1084.6" y="1877.5" width="1.8" height="1.4" fill="#D0A0A0"/>
<rect x="981.05" y="1875.95" width="112.30" height="39.20" fill="none" stroke="#243C74" stroke-width="1.5"/>
<text x="1086.6" y="1879.7" font-size="7" font-weight="bold" fill="#222" style="stroke:none">1</text>
<text transform="translate(1103.66,1907.50) scale(0.9538,1)" font-size="32.73" fill="#000"><tspan>1</tspan></text>
<polyline points="919.40,1953.91 919.73,1951.41 920.07,1948.90 920.40,1946.72 920.74,1945.20 921.07,1944.60 921.41,1945.02 921.74,1946.38 922.07,1948.43 922.41,1950.82 922.74,1953.18 923.08,1955.15 923.41,1956.49 923.75,1957.01 924.08,1956.62 924.41,1955.28 924.75,1953.07 925.08,1950.17 925.42,1946.86 925.75,1943.60 926.08,1940.85 926.42,1939.09 926.75,1938.62 927.09,1939.53 927.42,1941.66 927.76,1944.66 928.09,1948.06 928.42,1951.43 928.76,1954.41 929.09,1956.82 929.43,1958.61 929.76,1959.84 930.10,1960.63 930.43,1961.09 930.76,1961.35 931.10,1961.49 931.43,1961.55 931.77,1961.58 932.10,1961.59 932.44,1961.59 932.77,1961.59 933.10,1961.57 933.44,1961.53 933.77,1961.44 934.11,1961.27 934.44,1960.96 934.77,1960.43 935.11,1959.59 935.44,1958.35 935.78,1956.66 936.11,1954.53 936.45,1952.08 936.78,1949.55 937.11,1947.25 937.45,1945.52 937.78,1944.66 938.12,1944.81 938.45,1945.94 938.79,1947.84 939.12,1950.18 939.45,1952.58 939.79,1954.68 940.12,1956.21 940.46,1956.96 940.79,1956.81 941.13,1955.72 941.46,1953.74 941.79,1950.99 942.13,1947.75 942.46,1944.43 942.80,1941.50 943.13,1939.44 943.46,1938.60 943.80,1939.16 944.13,1941.00 944.47,1943.81 944.80,1947.15 945.14,1950.56 945.47,1953.67 945.80,1956.24 946.14,1958.20 946.47,1959.56 946.81,1960.46 947.14,1960.99 947.48,1961.30 947.81,1961.46 948.14,1961.54 948.48,1961.57 948.81,1961.59 949.15,1961.59 949.48,1961.59 949.82,1961.58 950.15,1961.54 950.48,1961.47 950.82,1961.33 951.15,1961.06 951.49,1960.60 951.82,1959.85 952.15,1958.72 952.49,1957.15 952.82,1955.13 953.16,1952.75 953.49,1950.21 953.83,1947.81 954.16,1945.90 954.49,1944.79 954.83,1944.67 955.16,1945.55 955.50,1947.28 955.83,1949.54 956.17,1951.96 956.50,1954.17 956.83,1955.88 957.17,1956.84 957.50,1956.94 957.84,1956.10 958.17,1954.34 958.51,1951.77 958.84,1948.63 959.17,1945.29 959.51,1942.21 959.84,1939.87 960.18,1938.69 960.51,1938.88 960.85,1940.40 961.18,1943.00 961.51,1946.24 961.85,1949.68 962.18,1952.90 962.52,1955.62 962.85,1957.74 963.18,1959.25 963.52,1960.26 963.85,1960.88 964.19,1961.24 964.52,1961.43 964.86,1961.52 965.19,1961.57 965.52,1961.59 965.86,1961.59 966.19,1961.59 966.53,1961.58 966.86,1961.55 967.20,1961.49 967.53,1961.37 967.86,1961.15 968.20,1960.75 968.53,1960.08 968.87,1959.06 969.20,1957.61 969.54,1955.71 969.87,1953.40 970.20,1950.88 970.54,1948.41 970.87,1946.34 971.21,1945.00 971.54,1944.60 971.87,1945.23 972.21,1946.76 972.54,1948.91 972.88,1951.33 973.21,1953.63 973.55,1955.49 973.88,1956.67 974.21,1957.01 974.55,1956.42 974.88,1954.89 975.22,1952.52 975.55,1949.50 975.89,1946.17 976.22,1942.97 976.55,1940.39 976.89,1938.88 977.22,1938.69 977.56,1939.88 977.89,1942.23 978.23,1945.35 978.56,1948.78 978.89,1952.09 979.23,1954.96 979.56,1957.24 979.90,1958.91 980.23,1960.04 980.56,1960.75 980.90,1961.16 981.23,1961.39 981.57,1961.50 981.90,1961.56 982.24,1961.58 982.57,1961.59 982.90,1961.59 983.24,1961.58 983.57,1961.56 983.91,1961.51 984.24,1961.41 984.58,1961.22 984.91,1960.87 985.24,1960.29 985.58,1959.37 985.91,1958.04 986.25,1956.25 986.58,1954.04 986.92,1951.55 987.25,1949.04 987.58,1946.83 987.92,1945.27 988.25,1944.61 988.59,1944.97 988.92,1946.28 989.25,1948.30 989.59,1950.68 989.92,1953.05 990.26,1955.06 990.59,1956.43 990.93,1957.00 991.26,1956.66 991.59,1955.38 991.93,1953.22 992.26,1950.34 992.60,1947.05 992.93,1943.77 993.27,1940.98 993.60,1939.15 993.93,1938.60 994.27,1939.44 994.60,1941.51 994.94,1944.48 995.27,1947.87 995.61,1951.24 995.94,1954.25 996.27,1956.70 996.61,1958.52 996.94,1959.78 997.28,1960.59 997.61,1961.07 997.95,1961.34 998.28,1961.48 998.61,1961.55 998.95,1961.58 999.28,1961.59 999.62,1961.59 999.95,1961.59 1000.28,1961.57 1000.62,1961.53 1000.95,1961.45 1001.29,1961.28 1001.62,1960.99 1001.96,1960.47 1002.29,1959.65 1002.62,1958.44 1002.96,1956.77 1003.29,1954.66 1003.63,1952.23 1003.96,1949.69 1004.30,1947.37 1004.63,1945.60 1004.96,1944.68 1005.30,1944.77 1005.63,1945.85 1005.97,1947.72 1006.30,1950.05 1006.64,1952.46 1006.97,1954.60 1007.30,1956.19 1007.64,1957.02 1007.97,1956.99 1008.31,1956.04 1008.64,1954.22 1008.97,1951.65 1009.31,1948.59 1009.64,1945.42 1009.98,1942.60 1010.31,1940.58 1010.65,1939.72 1010.98,1940.17 1011.31,1941.86 1011.65,1944.49 1011.98,1947.66 1012.32,1950.91 1012.65,1953.90 1012.99,1956.38 1013.32,1958.27 1013.65,1959.60 1013.99,1960.47 1014.32,1961.00 1014.66,1961.30 1014.99,1961.46 1015.33,1961.54 1015.66,1961.57 1015.99,1961.59 1016.33,1961.59 1016.66,1961.59 1017.00,1961.58 1017.33,1961.55 1017.66,1961.50 1018.00,1961.39 1018.33,1961.18 1018.67,1960.81 1019.00,1960.21 1019.34,1959.31 1019.67,1958.05 1020.00,1956.41 1020.34,1954.48 1020.67,1952.40 1021.01,1950.43 1021.34,1948.84 1021.68,1947.89 1022.01,1947.75 1022.34,1948.43 1022.68,1949.83 1023.01,1951.70 1023.35,1953.77 1023.68,1955.78 1024.02,1957.53 1024.35,1958.92 1024.68,1959.94 1025.02,1960.63 1025.35,1961.07 1025.69,1961.33 1026.02,1961.47 1026.35,1961.54 1026.69,1961.57 1027.02,1961.59 1027.36,1961.60 1027.69,1961.60 1028.03,1961.60 1028.36,1961.60 1028.69,1961.60 1029.03,1961.60 1029.36,1961.60 1029.70,1961.60 1030.03,1961.60 1030.37,1961.60 1030.70,1961.60" fill="none" stroke="#DC9C9C" stroke-width="1.15" stroke-linejoin="round"/>
<polyline points="919.40,1961.60 919.73,1961.60 920.07,1961.60 920.40,1961.60 920.74,1961.60 921.07,1961.60 921.41,1961.60 921.74,1961.60 922.07,1961.60 922.41,1961.60 922.74,1961.60 923.08,1961.60 923.41,1961.60 923.75,1961.60 924.08,1961.60 924.41,1961.60 924.75,1961.60 925.08,1961.60 925.42,1961.60 925.75,1961.60 926.08,1961.60 926.42,1961.60 926.75,1961.60 927.09,1961.60 927.42,1961.59 927.76,1961.57 928.09,1961.52 928.42,1961.40 928.76,1961.16 929.09,1960.69 929.43,1959.85 929.76,1958.49 930.10,1956.43 930.43,1953.60 930.76,1950.08 931.10,1946.17 931.43,1942.34 931.77,1939.23 932.10,1937.41 932.44,1937.24 932.77,1938.77 933.10,1941.67 933.44,1945.41 933.77,1949.35 934.11,1952.98 934.44,1955.95 934.77,1958.15 935.11,1959.64 935.44,1960.56 935.78,1961.09 936.11,1961.37 936.45,1961.50 936.78,1961.56 937.11,1961.59 937.45,1961.59 937.78,1961.60 938.12,1961.60 938.45,1961.60 938.79,1961.60 939.12,1961.60 939.45,1961.60 939.79,1961.60 940.12,1961.60 940.46,1961.60 940.79,1961.60 941.13,1961.60 941.46,1961.60 941.79,1961.60 942.13,1961.60 942.46,1961.60 942.80,1961.60 943.13,1961.60 943.46,1961.60 943.80,1961.60 944.13,1961.59 944.47,1961.57 944.80,1961.53 945.14,1961.44 945.47,1961.24 945.80,1960.84 946.14,1960.12 946.47,1958.91 946.81,1957.04 947.14,1954.42 947.48,1951.07 947.81,1947.22 948.14,1943.31 948.48,1939.95 948.81,1937.74 949.15,1937.12 949.48,1938.21 949.82,1940.80 950.15,1944.38 950.48,1948.32 950.82,1952.07 951.15,1955.23 951.49,1957.64 951.82,1959.31 952.15,1960.36 952.49,1960.98 952.82,1961.31 953.16,1961.47 953.49,1961.55 953.83,1961.58 954.16,1961.59 954.49,1961.60 954.83,1961.60 955.16,1961.60 955.50,1961.60 955.83,1961.60 956.17,1961.60 956.50,1961.60 956.83,1961.60 957.17,1961.60 957.50,1961.60 957.84,1961.60 958.17,1961.60 958.51,1961.60 958.84,1961.60 959.17,1961.60 959.51,1961.60 959.84,1961.60 960.18,1961.60 960.51,1961.60 960.85,1961.59 961.18,1961.58 961.51,1961.55 961.85,1961.47 962.18,1961.31 962.52,1960.97 962.85,1960.35 963.18,1959.29 963.52,1957.61 963.85,1955.19 964.19,1952.02 964.52,1948.26 964.86,1944.32 965.19,1940.75 965.52,1938.18 965.86,1937.11 966.19,1937.76 966.53,1940.00 966.86,1943.37 967.20,1947.28 967.53,1951.13 967.86,1954.47 968.20,1957.08 968.53,1958.93 968.87,1960.13 969.20,1960.85 969.54,1961.24 969.87,1961.44 970.20,1961.53 970.54,1961.57 970.87,1961.59 971.21,1961.60 971.54,1961.60 971.87,1961.60 972.21,1961.60 972.54,1961.60 972.88,1961.60 973.21,1961.60 973.55,1961.60 973.88,1961.60 974.21,1961.60 974.55,1961.60 974.88,1961.60 975.22,1961.60 975.55,1961.60 975.89,1961.60 976.22,1961.60 976.55,1961.60 976.89,1961.60 977.22,1961.60 977.56,1961.59 977.89,1961.59 978.23,1961.56 978.56,1961.50 978.89,1961.36 979.23,1961.08 979.56,1960.55 979.90,1959.62 980.23,1958.12 980.56,1955.90 980.90,1952.92 981.23,1949.29 981.57,1945.35 981.90,1941.62 982.24,1938.73 982.57,1937.23 982.90,1937.43 983.24,1939.27 983.57,1942.40 983.91,1946.23 984.24,1950.15 984.58,1953.65 984.91,1956.47 985.24,1958.51 985.58,1959.87 985.91,1960.70 986.25,1961.16 986.58,1961.40 986.92,1961.52 987.25,1961.57 987.58,1961.59 987.92,1961.60 988.25,1961.60 988.59,1961.60 988.92,1961.60 989.25,1961.60 989.59,1961.60 989.92,1961.60 990.26,1961.60 990.59,1961.60 990.93,1961.60 991.26,1961.60 991.59,1961.60 991.93,1961.60 992.26,1961.60 992.60,1961.60 992.93,1961.60 993.27,1961.60 993.60,1961.60 993.93,1961.60 994.27,1961.60 994.60,1961.59 994.94,1961.57 995.27,1961.52 995.61,1961.41 995.94,1961.18 996.27,1960.72 996.61,1959.91 996.94,1958.58 997.28,1956.56 997.61,1953.78 997.95,1950.30 998.28,1946.39 998.61,1942.55 998.95,1939.38 999.28,1937.47 999.62,1937.21 999.95,1938.64 1000.28,1941.48 1000.62,1945.19 1000.95,1949.13 1001.29,1952.79 1001.62,1955.80 1001.96,1958.04 1002.29,1959.57 1002.62,1960.52 1002.96,1961.07 1003.29,1961.35 1003.63,1961.49 1003.96,1961.56 1004.30,1961.58 1004.63,1961.59 1004.96,1961.60 1005.30,1961.60 1005.63,1961.60 1005.97,1961.60 1006.30,1961.60 1006.64,1961.60 1006.97,1961.60 1007.30,1961.60 1007.64,1961.60 1007.97,1961.60 1008.31,1961.60 1008.64,1961.60 1008.97,1961.60 1009.31,1961.60 1009.64,1961.60 1009.98,1961.60 1010.31,1961.60 1010.65,1961.60 1010.98,1961.60 1011.31,1961.59 1011.65,1961.58 1011.98,1961.54 1012.32,1961.46 1012.65,1961.29 1012.99,1960.96 1013.32,1960.34 1013.65,1959.29 1013.99,1957.68 1014.32,1955.40 1014.66,1952.46 1014.99,1949.07 1015.33,1945.61 1015.66,1942.59 1015.99,1940.56 1016.33,1939.93 1016.66,1940.81 1017.00,1943.04 1017.33,1946.17 1017.66,1949.66 1018.00,1952.99 1018.33,1955.83 1018.67,1957.99 1019.00,1959.50 1019.34,1960.46 1019.67,1961.03 1020.00,1961.33 1020.34,1961.48 1020.67,1961.55 1021.01,1961.58 1021.34,1961.59 1021.68,1961.60 1022.01,1961.60 1022.34,1961.60 1022.68,1961.60 1023.01,1961.60 1023.35,1961.60 1023.68,1961.60 1024.02,1961.60 1024.35,1961.60 1024.68,1961.60 1025.02,1961.60 1025.35,1961.60 1025.69,1961.60 1026.02,1961.60 1026.35,1961.60 1026.69,1961.60 1027.02,1961.60 1027.36,1961.60 1027.69,1961.60 1028.03,1961.60 1028.36,1961.60 1028.69,1961.60 1029.03,1961.60 1029.36,1961.60 1029.70,1961.60 1030.03,1961.60 1030.37,1961.60 1030.70,1961.60" fill="none" stroke="#9A9ED2" stroke-width="1.15" stroke-linejoin="round"/>
<polyline points="1019.70,1961.60 1020.03,1961.60 1020.37,1961.60 1020.70,1961.60 1021.03,1961.60 1021.37,1961.60 1021.70,1961.60 1022.03,1961.60 1022.37,1961.59 1022.70,1961.58 1023.03,1961.55 1023.37,1961.49 1023.70,1961.36 1024.03,1961.11 1024.37,1960.67 1024.70,1959.93 1025.03,1958.79 1025.37,1957.18 1025.70,1955.08 1026.03,1952.60 1026.37,1949.97 1026.70,1947.53 1027.03,1945.66 1027.37,1944.69 1027.70,1944.80 1028.03,1945.97 1028.37,1947.99 1028.70,1950.50 1029.03,1953.12 1029.37,1955.54 1029.70,1957.54 1030.03,1959.05 1030.37,1960.11 1030.70,1960.78" fill="none" stroke="#A0D0A0" stroke-width="1.15" stroke-linejoin="round"/>
<rect x="921.4" y="1925.0" width="1.8" height="1.4" fill="#D0A0A0"/>
<rect x="927.0" y="1925.0" width="1.8" height="1.4" fill="#D0A0A0"/>
<rect x="932.6" y="1925.0" width="1.8" height="1.4" fill="#9090C0"/>
<rect x="938.2" y="1925.0" width="1.8" height="1.4" fill="#D0A0A0"/>
<rect x="943.8" y="1925.0" width="1.8" height="1.4" fill="#D0A0A0"/>
<rect x="949.4" y="1925.0" width="1.8" height="1.4" fill="#9090C0"/>
<rect x="955.0" y="1925.0" width="1.8" height="1.4" fill="#D0A0A0"/>
<rect x="960.6" y="1925.0" width="1.8" height="1.4" fill="#D0A0A0"/>
<rect x="966.2" y="1925.0" width="1.8" height="1.4" fill="#9090C0"/>
<rect x="971.8" y="1925.0" width="1.8" height="1.4" fill="#D0A0A0"/>
<rect x="977.4" y="1925.0" width="1.8" height="1.4" fill="#D0A0A0"/>
<rect x="983.0" y="1925.0" width="1.8" height="1.4" fill="#9090C0"/>
<rect x="988.6" y="1925.0" width="1.8" height="1.4" fill="#D0A0A0"/>
<rect x="994.2" y="1925.0" width="1.8" height="1.4" fill="#D0A0A0"/>
<rect x="999.8" y="1925.0" width="1.8" height="1.4" fill="#9090C0"/>
<rect x="1005.4" y="1925.0" width="1.8" height="1.4" fill="#D0A0A0"/>
<rect x="1011.0" y="1925.0" width="1.8" height="1.4" fill="#D0A0A0"/>
<rect x="1016.6" y="1925.0" width="1.8" height="1.4" fill="#9090C0"/>
<rect x="1022.2" y="1925.0" width="1.8" height="1.4" fill="#D0A0A0"/>
<rect x="918.65" y="1923.45" width="112.30" height="39.40" fill="none" stroke="#243C74" stroke-width="1.5"/>
<text x="1024.2" y="1927.2" font-size="7" font-weight="bold" fill="#222" style="stroke:none">2</text>
<text transform="translate(1041.87,1958.90) scale(0.9730,1)" font-size="31.40" fill="#000"><tspan>2</tspan></text>
<polyline points="845.50,2001.01 845.83,1998.51 846.17,1996.01 846.50,1993.82 846.84,1992.30 847.17,1991.70 847.50,1992.12 847.84,1993.47 848.17,1995.52 848.51,1997.92 848.84,2000.27 849.18,2002.25 849.51,2003.59 849.84,2004.11 850.18,2003.72 850.51,2002.39 850.85,2000.19 851.18,1997.28 851.51,1993.98 851.85,1990.71 852.18,1987.96 852.52,1986.19 852.85,1985.71 853.19,1986.62 853.52,1988.74 853.85,1991.74 854.19,1995.14 854.52,1998.50 854.86,2001.49 855.19,2003.90 855.52,2005.70 855.86,2006.93 856.19,2007.72 856.53,2008.19 856.86,2008.45 857.19,2008.59 857.53,2008.65 857.86,2008.68 858.20,2008.69 858.53,2008.69 858.87,2008.69 859.20,2008.67 859.53,2008.63 859.87,2008.54 860.20,2008.38 860.54,2008.07 860.87,2007.54 861.20,2006.71 861.54,2005.47 861.87,2003.79 862.21,2001.66 862.54,1999.22 862.88,1996.69 863.21,1994.38 863.54,1992.64 863.88,1991.77 864.21,1991.90 864.55,1993.01 864.88,1994.90 865.21,1997.24 865.55,1999.64 865.88,2001.75 866.22,2003.29 866.55,2004.05 866.88,2003.92 867.22,2002.85 867.55,2000.88 867.89,1998.15 868.22,1994.92 868.56,1991.59 868.89,1988.65 869.22,1986.57 869.56,1985.71 869.89,1986.23 870.23,1988.05 870.56,1990.84 870.89,1994.18 871.23,1997.59 871.56,2000.71 871.90,2003.29 872.23,2005.26 872.57,2006.64 872.90,2007.54 873.23,2008.09 873.57,2008.39 873.90,2008.56 874.24,2008.64 874.57,2008.67 874.90,2008.69 875.24,2008.69 875.57,2008.69 875.91,2008.68 876.24,2008.64 876.57,2008.57 876.91,2008.43 877.24,2008.17 877.58,2007.72 877.91,2006.98 878.25,2005.86 878.58,2004.30 878.91,2002.29 879.25,1999.92 879.58,1997.38 879.92,1994.98 880.25,1993.05 880.58,1991.91 880.92,1991.76 881.25,1992.61 881.59,1994.32 881.92,1996.56 882.26,1998.99 882.59,2001.21 882.92,2002.93 883.26,2003.93 883.59,2004.05 883.93,2003.25 884.26,2001.51 884.59,1998.97 884.93,1995.84 885.26,1992.50 885.60,1989.40 885.93,1987.04 886.26,1985.81 886.60,1985.95 886.93,1987.43 887.27,1989.99 887.60,1993.22 887.94,1996.66 888.27,1999.89 888.60,2002.63 888.94,2004.77 889.27,2006.31 889.61,2007.33 889.94,2007.96 890.27,2008.33 890.61,2008.52 890.94,2008.62 891.28,2008.67 891.61,2008.69 891.95,2008.69 892.28,2008.69 892.61,2008.68 892.95,2008.65 893.28,2008.60 893.62,2008.48 893.95,2008.26 894.28,2007.87 894.62,2007.22 894.95,2006.21 895.29,2004.78 895.62,2002.90 895.95,2000.61 896.29,1998.09 896.62,1995.61 896.96,1993.52 897.29,1992.14 897.63,1991.70 897.96,1992.28 898.29,1993.77 898.63,1995.90 898.96,1998.32 899.30,2000.63 899.63,2002.52 899.96,2003.73 900.30,2004.11 900.63,2003.57 900.97,2002.09 901.30,1999.75 901.64,1996.75 901.97,1993.43 902.30,1990.21 902.64,1987.59 902.97,1986.02 903.31,1985.77 903.64,1986.89 903.97,1989.19 904.31,1992.28 904.64,1995.71 904.98,1999.03 905.31,2001.93 905.65,2004.24 905.98,2005.94 906.31,2007.09 906.65,2007.82 906.98,2008.25 907.32,2008.48 907.65,2008.60 907.98,2008.66 908.32,2008.68 908.65,2008.69 908.99,2008.69 909.32,2008.68 909.65,2008.66 909.99,2008.62 910.32,2008.52 910.66,2008.34 910.99,2008.00 911.33,2007.43 911.66,2006.53 911.99,2005.23 912.33,2003.47 912.66,2001.28 913.00,1998.80 913.33,1996.28 913.66,1994.05 914.00,1992.43 914.33,1991.72 914.67,1992.02 915.00,1993.28 915.34,1995.27 915.67,1997.64 916.00,2000.01 916.34,2002.05 916.67,2003.47 917.01,2004.10 917.34,2003.81 917.67,2002.59 918.01,2000.48 918.34,1997.64 918.68,1994.36 919.01,1991.07 919.34,1988.24 919.68,1986.33 920.01,1985.70 920.35,1986.45 920.68,1988.45 921.02,1991.37 921.35,1994.75 921.68,1998.13 922.02,2001.17 922.35,2003.66 922.69,2005.52 923.02,2006.82 923.35,2007.65 923.69,2008.15 924.02,2008.43 924.36,2008.57 924.69,2008.64 925.03,2008.68 925.36,2008.69 925.69,2008.69 926.03,2008.69 926.36,2008.67 926.70,2008.63 927.03,2008.56 927.36,2008.40 927.70,2008.11 928.03,2007.62 928.37,2006.82 928.70,2005.64 929.03,2004.00 929.37,2001.92 929.70,1999.51 930.04,1996.97 930.37,1994.62 930.71,1992.80 931.04,1991.82 931.37,1991.83 931.71,1992.84 932.04,1994.66 932.38,1996.97 932.71,1999.39 933.04,2001.56 933.38,2003.20 933.71,2004.10 934.05,2004.15 934.38,2003.28 934.72,2001.54 935.05,1999.05 935.38,1996.05 935.72,1992.90 936.05,1990.06 936.39,1987.98 936.72,1987.03 937.05,1987.38 937.39,1988.96 937.72,1991.51 938.06,1994.63 938.39,1997.86 938.72,2000.85 939.06,2003.35 939.39,2005.27 939.73,2006.63 940.06,2007.53 940.40,2008.07 940.73,2008.39 941.06,2008.55 941.40,2008.63 941.73,2008.67 942.07,2008.69 942.40,2008.69 942.73,2008.69 943.07,2008.68 943.40,2008.66 943.74,2008.61 944.07,2008.50 944.41,2008.30 944.74,2007.96 945.07,2007.39 945.41,2006.52 945.74,2005.30 946.08,2003.72 946.41,2001.82 946.74,1999.78 947.08,1997.80 947.41,1996.19 947.75,1995.18 948.08,1994.97 948.41,1995.58 948.75,1996.91 949.08,1998.73 949.42,2000.77 949.75,2002.77 950.09,2004.53 950.42,2005.94 950.75,2006.98 951.09,2007.69 951.42,2008.15 951.76,2008.41 952.09,2008.56 952.42,2008.64 952.76,2008.67 953.09,2008.69 953.43,2008.70 953.76,2008.70 954.10,2008.70 954.43,2008.70 954.76,2008.70 955.10,2008.70 955.43,2008.70 955.77,2008.70 956.10,2008.70" fill="none" stroke="#DC9C9C" stroke-width="1.15" stroke-linejoin="round"/>
<polyline points="845.50,2008.70 845.83,2008.70 846.17,2008.70 846.50,2008.70 846.84,2008.70 847.17,2008.70 847.50,2008.70 847.84,2008.70 848.17,2008.70 848.51,2008.70 848.84,2008.70 849.18,2008.70 849.51,2008.70 849.84,2008.70 850.18,2008.70 850.51,2008.70 850.85,2008.70 851.18,2008.70 851.51,2008.70 851.85,2008.70 852.18,2008.70 852.52,2008.70 852.85,2008.70 853.19,2008.70 853.52,2008.69 853.85,2008.67 854.19,2008.62 854.52,2008.50 854.86,2008.26 855.19,2007.79 855.52,2006.96 855.86,2005.60 856.19,2003.55 856.53,2000.73 856.86,1997.22 857.19,1993.31 857.53,1989.48 857.86,1986.36 858.20,1984.52 858.53,1984.34 858.87,1985.84 859.20,1988.73 859.53,1992.46 859.87,1996.41 860.20,2000.03 860.54,2003.01 860.87,2005.22 861.20,2006.72 861.54,2007.65 861.87,2008.18 862.21,2008.46 862.54,2008.60 862.88,2008.66 863.21,2008.69 863.54,2008.69 863.88,2008.70 864.21,2008.70 864.55,2008.70 864.88,2008.70 865.21,2008.70 865.55,2008.70 865.88,2008.70 866.22,2008.70 866.55,2008.70 866.88,2008.70 867.22,2008.70 867.55,2008.70 867.89,2008.70 868.22,2008.70 868.56,2008.70 868.89,2008.70 869.22,2008.70 869.56,2008.70 869.89,2008.70 870.23,2008.69 870.56,2008.68 870.89,2008.63 871.23,2008.54 871.56,2008.34 871.90,2007.95 872.23,2007.24 872.57,2006.04 872.90,2004.20 873.23,2001.59 873.57,1998.26 873.90,1994.41 874.24,1990.50 874.57,1987.12 874.90,1984.88 875.24,1984.21 875.57,1985.26 875.91,1987.82 876.24,1991.38 876.57,1995.32 876.91,1999.08 877.24,2002.26 877.58,2004.68 877.91,2006.37 878.25,2007.44 878.58,2008.07 878.91,2008.40 879.25,2008.57 879.58,2008.65 879.92,2008.68 880.25,2008.69 880.58,2008.70 880.92,2008.70 881.25,2008.70 881.59,2008.70 881.92,2008.70 882.26,2008.70 882.59,2008.70 882.92,2008.70 883.26,2008.70 883.59,2008.70 883.93,2008.70 884.26,2008.70 884.59,2008.70 884.93,2008.70 885.26,2008.70 885.60,2008.70 885.93,2008.70 886.26,2008.70 886.60,2008.70 886.93,2008.69 887.27,2008.68 887.60,2008.65 887.94,2008.58 888.27,2008.41 888.60,2008.09 888.94,2007.48 889.27,2006.43 889.61,2004.78 889.94,2002.39 890.27,1999.25 890.61,1995.51 890.94,1991.57 891.28,1987.97 891.61,1985.36 891.95,1984.22 892.28,1984.80 892.61,1986.98 892.95,1990.32 893.28,1994.22 893.62,1998.08 893.95,2001.45 894.28,2004.09 894.62,2005.97 894.95,2007.19 895.29,2007.93 895.62,2008.33 895.95,2008.54 896.29,2008.63 896.62,2008.67 896.96,2008.69 897.29,2008.70 897.63,2008.70 897.96,2008.70 898.29,2008.70 898.63,2008.70 898.96,2008.70 899.30,2008.70 899.63,2008.70 899.96,2008.70 900.30,2008.70 900.63,2008.70 900.97,2008.70 901.30,2008.70 901.64,2008.70 901.97,2008.70 902.30,2008.70 902.64,2008.70 902.97,2008.70 903.31,2008.70 903.64,2008.70 903.97,2008.69 904.31,2008.66 904.64,2008.60 904.98,2008.47 905.31,2008.20 905.65,2007.69 905.98,2006.78 906.31,2005.31 906.65,2003.14 906.98,2000.20 907.32,1996.59 907.65,1992.66 907.98,1988.90 908.32,1985.95 908.65,1984.37 908.99,1984.47 909.32,1986.23 909.65,1989.31 909.99,1993.11 910.32,1997.04 910.66,2000.57 910.99,2003.43 911.33,2005.52 911.66,2006.91 911.99,2007.76 912.33,2008.24 912.66,2008.49 913.00,2008.61 913.33,2008.67 913.66,2008.69 914.00,2008.70 914.33,2008.70 914.67,2008.70 915.00,2008.70 915.34,2008.70 915.67,2008.70 916.00,2008.70 916.34,2008.70 916.67,2008.70 917.01,2008.70 917.34,2008.70 917.67,2008.70 918.01,2008.70 918.34,2008.70 918.68,2008.70 919.01,2008.70 919.34,2008.70 919.68,2008.70 920.01,2008.70 920.35,2008.70 920.68,2008.69 921.02,2008.67 921.35,2008.62 921.68,2008.52 922.02,2008.30 922.35,2007.86 922.69,2007.08 923.02,2005.79 923.35,2003.82 923.69,2001.09 924.02,1997.65 924.36,1993.76 924.69,1989.89 925.03,1986.66 925.36,1984.65 925.69,1984.27 926.03,1985.59 926.36,1988.35 926.70,1992.02 927.03,1995.96 927.36,1999.65 927.70,2002.71 928.03,2005.01 928.37,2006.58 928.70,2007.57 929.03,2008.14 929.37,2008.44 929.70,2008.59 930.04,2008.66 930.37,2008.68 930.71,2008.69 931.04,2008.70 931.37,2008.70 931.71,2008.70 932.04,2008.70 932.38,2008.70 932.71,2008.70 933.04,2008.70 933.38,2008.70 933.71,2008.70 934.05,2008.70 934.38,2008.70 934.72,2008.70 935.05,2008.70 935.38,2008.70 935.72,2008.70 936.05,2008.70 936.39,2008.70 936.72,2008.70 937.05,2008.70 937.39,2008.69 937.72,2008.68 938.06,2008.65 938.39,2008.57 938.72,2008.42 939.06,2008.10 939.39,2007.51 939.73,2006.52 940.06,2004.97 940.40,2002.76 940.73,1999.91 941.06,1996.57 941.40,1993.13 941.73,1990.09 942.07,1987.98 942.40,1987.23 942.73,1987.98 943.07,1990.09 943.40,1993.14 943.74,1996.58 944.07,1999.91 944.41,2002.77 944.74,2004.97 945.07,2006.52 945.41,2007.51 945.74,2008.10 946.08,2008.42 946.41,2008.57 946.74,2008.65 947.08,2008.68 947.41,2008.69 947.75,2008.70 948.08,2008.70 948.41,2008.70 948.75,2008.70 949.08,2008.70 949.42,2008.70 949.75,2008.70 950.09,2008.70 950.42,2008.70 950.75,2008.70 951.09,2008.70 951.42,2008.70 951.76,2008.70 952.09,2008.70 952.42,2008.70 952.76,2008.70 953.09,2008.70 953.43,2008.70 953.76,2008.70 954.10,2008.70 954.43,2008.70 954.76,2008.70 955.10,2008.70 955.43,2008.70 955.77,2008.70 956.10,2008.70" fill="none" stroke="#9A9ED2" stroke-width="1.15" stroke-linejoin="round"/>
<polyline points="945.10,2008.70 945.43,2008.70 945.77,2008.70 946.10,2008.70 946.43,2008.70 946.77,2008.70 947.10,2008.70 947.43,2008.70 947.77,2008.70 948.10,2008.70 948.43,2008.70 948.77,2008.70 949.10,2008.70 949.43,2008.70 949.77,2008.70 950.10,2008.70 950.43,2008.70 950.77,2008.70 951.10,2008.70 951.43,2008.70 951.77,2008.70 952.10,2008.70 952.43,2008.70 952.77,2008.70 953.10,2008.70 953.43,2008.70 953.77,2008.70 954.10,2008.70 954.43,2008.70 954.77,2008.70 955.10,2008.70 955.43,2008.70 955.77,2008.70 956.10,2008.70" fill="none" stroke="#A0D0A0" stroke-width="1.15" stroke-linejoin="round"/>
<rect x="847.5" y="1972.5" width="1.8" height="1.4" fill="#D0A0A0"/>
<rect x="853.1" y="1972.5" width="1.8" height="1.4" fill="#D0A0A0"/>
<rect x="858.7" y="1972.5" width="1.8" height="1.4" fill="#9090C0"/>
<rect x="864.3" y="1972.5" width="1.8" height="1.4" fill="#D0A0A0"/>
<rect x="869.9" y="1972.5" width="1.8" height="1.4" fill="#D0A0A0"/>
<rect x="875.5" y="1972.5" width="1.8" height="1.4" fill="#9090C0"/>
<rect x="881.1" y="1972.5" width="1.8" height="1.4" fill="#D0A0A0"/>
<rect x="886.7" y="1972.5" width="1.8" height="1.4" fill="#D0A0A0"/>
<rect x="892.3" y="1972.5" width="1.8" height="1.4" fill="#9090C0"/>
<rect x="897.9" y="1972.5" width="1.8" height="1.4" fill="#D0A0A0"/>
<rect x="903.5" y="1972.5" width="1.8" height="1.4" fill="#D0A0A0"/>
<rect x="909.1" y="1972.5" width="1.8" height="1.4" fill="#9090C0"/>
<rect x="914.7" y="1972.5" width="1.8" height="1.4" fill="#D0A0A0"/>
<rect x="920.3" y="1972.5" width="1.8" height="1.4" fill="#D0A0A0"/>
<rect x="925.9" y="1972.5" width="1.8" height="1.4" fill="#9090C0"/>
<rect x="931.5" y="1972.5" width="1.8" height="1.4" fill="#D0A0A0"/>
<rect x="937.1" y="1972.5" width="1.8" height="1.4" fill="#D0A0A0"/>
<rect x="942.7" y="1972.5" width="1.8" height="1.4" fill="#9090C0"/>
<rect x="948.3" y="1972.5" width="1.8" height="1.4" fill="#D0A0A0"/>
<rect x="844.75" y="1970.95" width="111.60" height="39.00" fill="none" stroke="#243C74" stroke-width="1.5"/>
<text x="949.6" y="1974.7" font-size="7" font-weight="bold" fill="#222" style="stroke:none">3</text>
<text transform="translate(968.30,2005.80) scale(1.0054,1)" font-size="31.83" fill="#000"><tspan>3</tspan></text>
<polyline points="773.60,2048.51 773.93,2046.01 774.27,2043.51 774.60,2041.33 774.94,2039.81 775.27,2039.20 775.60,2039.62 775.94,2040.97 776.27,2043.02 776.61,2045.41 776.94,2047.76 777.27,2049.74 777.61,2051.08 777.94,2051.61 778.28,2051.22 778.61,2049.90 778.94,2047.70 779.28,2044.80 779.61,2041.50 779.95,2038.23 780.28,2035.48 780.61,2033.70 780.95,2033.21 781.28,2034.11 781.62,2036.22 781.95,2039.21 782.28,2042.61 782.62,2045.98 782.95,2048.96 783.29,2051.38 783.62,2053.18 783.96,2054.42 784.29,2055.22 784.62,2055.69 784.96,2055.95 785.29,2056.08 785.63,2056.15 785.96,2056.18 786.29,2056.19 786.63,2056.19 786.96,2056.19 787.30,2056.17 787.63,2056.13 787.96,2056.04 788.30,2055.88 788.63,2055.57 788.97,2055.05 789.30,2054.22 789.63,2053.00 789.97,2051.32 790.30,2049.20 790.64,2046.76 790.97,2044.22 791.30,2041.91 791.64,2040.17 791.97,2039.27 792.31,2039.39 792.64,2040.49 792.97,2042.36 793.31,2044.69 793.64,2047.10 793.98,2049.22 794.31,2050.77 794.64,2051.55 794.98,2051.43 795.31,2050.38 795.65,2048.43 795.98,2045.71 796.31,2042.49 796.65,2039.16 796.98,2036.20 797.32,2034.10 797.65,2033.21 797.98,2033.70 798.32,2035.49 798.65,2038.27 798.99,2041.60 799.32,2045.01 799.65,2048.14 799.99,2050.74 800.32,2052.72 800.66,2054.11 800.99,2055.02 801.33,2055.57 801.66,2055.89 801.99,2056.05 802.33,2056.14 802.66,2056.17 803.00,2056.19 803.33,2056.19 803.66,2056.19 804.00,2056.18 804.33,2056.14 804.67,2056.08 805.00,2055.94 805.33,2055.68 805.67,2055.23 806.00,2054.50 806.34,2053.40 806.67,2051.86 807.00,2049.86 807.34,2047.50 807.67,2044.96 808.01,2042.55 808.34,2040.60 808.67,2039.43 809.01,2039.25 809.34,2040.07 809.68,2041.75 810.01,2043.98 810.34,2046.40 810.68,2048.64 811.01,2050.38 811.35,2051.41 811.68,2051.56 812.01,2050.79 812.35,2049.09 812.68,2046.57 813.02,2043.46 813.35,2040.12 813.68,2037.01 814.02,2034.61 814.35,2033.33 814.69,2033.42 815.02,2034.85 815.35,2037.38 815.69,2040.59 816.02,2044.02 816.36,2047.27 816.69,2050.03 817.02,2052.20 817.36,2053.76 817.69,2054.80 818.03,2055.44 818.36,2055.81 818.69,2056.02 819.03,2056.12 819.36,2056.16 819.70,2056.19 820.03,2056.19 820.37,2056.19 820.70,2056.18 821.03,2056.16 821.37,2056.10 821.70,2055.99 822.04,2055.77 822.37,2055.39 822.70,2054.75 823.04,2053.77 823.37,2052.36 823.71,2050.49 824.04,2048.22 824.37,2045.71 824.71,2043.23 825.04,2041.11 825.38,2039.68 825.71,2039.20 826.04,2039.73 826.38,2041.18 826.71,2043.29 827.05,2045.70 827.38,2048.02 827.71,2049.94 828.05,2051.19 828.38,2051.61 828.72,2051.12 829.05,2049.68 829.38,2047.39 829.72,2044.42 830.05,2041.10 830.39,2037.87 830.72,2035.21 831.05,2033.57 831.39,2033.25 831.72,2034.30 832.06,2036.54 832.39,2039.60 832.72,2043.02 833.06,2046.35 833.39,2049.28 833.73,2051.63 834.06,2053.36 834.39,2054.54 834.73,2055.29 835.06,2055.73 835.40,2055.97 835.73,2056.09 836.06,2056.15 836.40,2056.18 836.73,2056.19 837.07,2056.19 837.40,2056.19 837.73,2056.17 838.07,2056.12 838.40,2056.03 838.74,2055.85 839.07,2055.52 839.41,2054.97 839.74,2054.10 840.07,2052.82 840.41,2051.09 840.74,2048.92 841.08,2046.46 841.41,2043.93 841.74,2041.67 842.08,2040.01 842.41,2039.23 842.75,2039.47 843.08,2040.67 843.41,2042.62 843.75,2044.98 844.08,2047.37 844.42,2049.43 844.75,2050.90 845.08,2051.58 845.42,2051.36 845.75,2050.20 846.09,2048.14 846.42,2045.35 846.75,2042.09 847.09,2038.78 847.42,2035.90 847.76,2033.93 848.09,2033.20 848.42,2033.85 848.76,2035.78 849.09,2038.64 849.43,2042.00 849.76,2045.40 850.09,2048.48 850.43,2051.00 850.76,2052.91 851.10,2054.24 851.43,2055.10 851.76,2055.62 852.10,2055.91 852.43,2056.07 852.77,2056.14 853.10,2056.18 853.43,2056.19 853.77,2056.19 854.10,2056.19 854.44,2056.17 854.77,2056.14 855.10,2056.06 855.44,2055.92 855.77,2055.64 856.11,2055.16 856.44,2054.39 856.77,2053.24 857.11,2051.64 857.44,2049.60 857.78,2047.20 858.11,2044.66 858.45,2042.29 858.78,2040.42 859.11,2039.36 859.45,2039.29 859.78,2040.23 860.12,2041.99 860.45,2044.27 860.78,2046.70 861.12,2048.90 861.45,2050.59 861.79,2051.56 862.12,2051.67 862.45,2050.87 862.79,2049.19 863.12,2046.74 863.46,2043.76 863.79,2040.60 864.12,2037.70 864.46,2035.54 864.79,2034.48 865.13,2034.72 865.46,2036.21 865.79,2038.70 866.13,2041.80 866.46,2045.05 866.80,2048.08 867.13,2050.63 867.46,2052.61 867.80,2054.03 868.13,2054.96 868.47,2055.54 868.80,2055.86 869.13,2056.04 869.47,2056.13 869.80,2056.17 870.14,2056.19 870.47,2056.19 870.80,2056.19 871.14,2056.18 871.47,2056.16 871.81,2056.11 872.14,2056.01 872.47,2055.82 872.81,2055.49 873.14,2054.95 873.48,2054.11 873.81,2052.92 874.14,2051.36 874.48,2049.48 874.81,2047.43 875.15,2045.43 875.48,2043.76 875.82,2042.69 876.15,2042.39 876.48,2042.93 876.82,2044.20 877.15,2046.00 877.49,2048.04 877.82,2050.06 878.15,2051.85 878.49,2053.31 878.82,2054.39 879.16,2055.13 879.49,2055.61 879.82,2055.89 880.16,2056.05 880.49,2056.13 880.83,2056.17 881.16,2056.19 881.49,2056.20 881.83,2056.20 882.16,2056.20 882.50,2056.20 882.83,2056.20 883.16,2056.20 883.50,2056.20 883.83,2056.20 884.17,2056.20 884.50,2056.20" fill="none" stroke="#DC9C9C" stroke-width="1.15" stroke-linejoin="round"/>
<polyline points="773.60,2056.20 773.93,2056.20 774.27,2056.20 774.60,2056.20 774.94,2056.20 775.27,2056.20 775.60,2056.20 775.94,2056.20 776.27,2056.20 776.61,2056.20 776.94,2056.20 777.27,2056.20 777.61,2056.20 777.94,2056.20 778.28,2056.20 778.61,2056.20 778.94,2056.20 779.28,2056.20 779.61,2056.20 779.95,2056.20 780.28,2056.20 780.61,2056.20 780.95,2056.20 781.28,2056.20 781.62,2056.19 781.95,2056.17 782.28,2056.12 782.62,2056.00 782.95,2055.76 783.29,2055.30 783.62,2054.47 783.96,2053.12 784.29,2051.07 784.62,2048.26 784.96,2044.76 785.29,2040.85 785.63,2037.02 785.96,2033.89 786.29,2032.03 786.63,2031.83 786.96,2033.31 787.30,2036.19 787.63,2039.91 787.96,2043.86 788.30,2047.49 788.63,2050.48 788.97,2052.70 789.30,2054.21 789.63,2055.14 789.97,2055.68 790.30,2055.96 790.64,2056.10 790.97,2056.16 791.30,2056.18 791.64,2056.19 791.97,2056.20 792.31,2056.20 792.64,2056.20 792.97,2056.20 793.31,2056.20 793.64,2056.20 793.98,2056.20 794.31,2056.20 794.64,2056.20 794.98,2056.20 795.31,2056.20 795.65,2056.20 795.98,2056.20 796.31,2056.20 796.65,2056.20 796.98,2056.20 797.32,2056.20 797.65,2056.20 797.98,2056.20 798.32,2056.19 798.65,2056.18 798.99,2056.14 799.32,2056.05 799.65,2055.85 799.99,2055.47 800.32,2054.76 800.66,2053.58 800.99,2051.75 801.33,2049.17 801.66,2045.85 801.99,2042.02 802.33,2038.10 802.66,2034.70 803.00,2032.42 803.33,2031.71 803.66,2032.71 804.00,2035.23 804.33,2038.77 804.67,2042.71 805.00,2046.48 805.33,2049.68 805.67,2052.12 806.00,2053.83 806.34,2054.92 806.67,2055.55 807.00,2055.90 807.34,2056.07 807.67,2056.15 808.01,2056.18 808.34,2056.19 808.67,2056.20 809.01,2056.20 809.34,2056.20 809.68,2056.20 810.01,2056.20 810.34,2056.20 810.68,2056.20 811.01,2056.20 811.35,2056.20 811.68,2056.20 812.01,2056.20 812.35,2056.20 812.68,2056.20 813.02,2056.20 813.35,2056.20 813.68,2056.20 814.02,2056.20 814.35,2056.20 814.69,2056.20 815.02,2056.19 815.35,2056.18 815.69,2056.15 816.02,2056.08 816.36,2055.92 816.69,2055.61 817.02,2055.01 817.36,2053.99 817.69,2052.36 818.03,2050.01 818.36,2046.89 818.69,2043.17 819.03,2039.23 819.36,2035.61 819.70,2032.94 820.03,2031.74 820.37,2032.24 820.70,2034.36 821.03,2037.66 821.37,2041.54 821.70,2045.41 822.04,2048.81 822.37,2051.48 822.70,2053.40 823.04,2054.65 823.37,2055.40 823.71,2055.82 824.04,2056.03 824.37,2056.13 824.71,2056.17 825.04,2056.19 825.38,2056.20 825.71,2056.20 826.04,2056.20 826.38,2056.20 826.71,2056.20 827.05,2056.20 827.38,2056.20 827.71,2056.20 828.05,2056.20 828.38,2056.20 828.72,2056.20 829.05,2056.20 829.38,2056.20 829.72,2056.20 830.05,2056.20 830.39,2056.20 830.72,2056.20 831.05,2056.20 831.39,2056.20 831.72,2056.20 832.06,2056.19 832.39,2056.16 832.72,2056.11 833.06,2055.98 833.39,2055.72 833.73,2055.22 834.06,2054.34 834.39,2052.91 834.73,2050.78 835.06,2047.88 835.40,2044.31 835.73,2040.38 836.06,2036.60 836.40,2033.59 836.73,2031.92 837.07,2031.92 837.40,2033.59 837.73,2036.60 838.07,2040.38 838.40,2044.31 838.74,2047.88 839.07,2050.78 839.41,2052.91 839.74,2054.34 840.07,2055.22 840.41,2055.72 840.74,2055.98 841.08,2056.11 841.41,2056.16 841.74,2056.19 842.08,2056.20 842.41,2056.20 842.75,2056.20 843.08,2056.20 843.41,2056.20 843.75,2056.20 844.08,2056.20 844.42,2056.20 844.75,2056.20 845.08,2056.20 845.42,2056.20 845.75,2056.20 846.09,2056.20 846.42,2056.20 846.75,2056.20 847.09,2056.20 847.42,2056.20 847.76,2056.20 848.09,2056.20 848.42,2056.20 848.76,2056.19 849.09,2056.17 849.43,2056.13 849.76,2056.03 850.09,2055.82 850.43,2055.40 850.76,2054.65 851.10,2053.40 851.43,2051.49 851.76,2048.81 852.10,2045.42 852.43,2041.55 852.77,2037.66 853.10,2034.36 853.43,2032.25 853.77,2031.74 854.10,2032.94 854.44,2035.61 854.77,2039.22 855.10,2043.17 855.44,2046.89 855.77,2050.01 856.11,2052.36 856.44,2053.99 856.77,2055.01 857.11,2055.61 857.44,2055.92 857.78,2056.08 858.11,2056.15 858.45,2056.18 858.78,2056.19 859.11,2056.20 859.45,2056.20 859.78,2056.20 860.12,2056.20 860.45,2056.20 860.78,2056.20 861.12,2056.20 861.45,2056.20 861.79,2056.20 862.12,2056.20 862.45,2056.20 862.79,2056.20 863.12,2056.20 863.46,2056.20 863.79,2056.20 864.12,2056.20 864.46,2056.20 864.79,2056.20 865.13,2056.20 865.46,2056.19 865.79,2056.18 866.13,2056.15 866.46,2056.08 866.80,2055.93 867.13,2055.63 867.46,2055.07 867.80,2054.11 868.13,2052.61 868.47,2050.46 868.80,2047.65 869.13,2044.33 869.47,2040.86 869.80,2037.75 870.14,2035.53 870.47,2034.65 870.80,2035.27 871.14,2037.28 871.47,2040.27 871.81,2043.72 872.14,2047.09 872.47,2050.01 872.81,2052.28 873.14,2053.89 873.48,2054.93 873.81,2055.55 874.14,2055.89 874.48,2056.06 874.81,2056.14 875.15,2056.18 875.48,2056.19 875.82,2056.20 876.15,2056.20 876.48,2056.20 876.82,2056.20 877.15,2056.20 877.49,2056.20 877.82,2056.20 878.15,2056.20 878.49,2056.20 878.82,2056.20 879.16,2056.20 879.49,2056.20 879.82,2056.20 880.16,2056.20 880.49,2056.20 880.83,2056.20 881.16,2056.20 881.49,2056.20 881.83,2056.20 882.16,2056.20 882.50,2056.20 882.83,2056.20 883.16,2056.20 883.50,2056.20 883.83,2056.20 884.17,2056.20 884.50,2056.20" fill="none" stroke="#9A9ED2" stroke-width="1.15" stroke-linejoin="round"/>
<polyline points="873.50,2056.20 873.83,2056.20 874.17,2056.20 874.50,2056.20 874.83,2056.20 875.17,2056.20 875.50,2056.20 875.83,2056.20 876.17,2056.20 876.50,2056.20 876.83,2056.20 877.17,2056.20 877.50,2056.20 877.83,2056.20 878.17,2056.20 878.50,2056.20 878.83,2056.20 879.17,2056.20 879.50,2056.20 879.83,2056.20 880.17,2056.20 880.50,2056.20 880.83,2056.20 881.17,2056.20 881.50,2056.20 881.83,2056.20 882.17,2056.20 882.50,2056.20 882.83,2056.20 883.17,2056.20 883.50,2056.20 883.83,2056.20 884.17,2056.20 884.50,2056.20" fill="none" stroke="#A0D0A0" stroke-width="1.15" stroke-linejoin="round"/>
<rect x="775.6" y="2019.1" width="1.8" height="1.4" fill="#D0A0A0"/>
<rect x="781.2" y="2019.1" width="1.8" height="1.4" fill="#D0A0A0"/>
<rect x="786.8" y="2019.1" width="1.8" height="1.4" fill="#9090C0"/>
<rect x="792.4" y="2019.1" width="1.8" height="1.4" fill="#D0A0A0"/>
<rect x="798.0" y="2019.1" width="1.8" height="1.4" fill="#D0A0A0"/>
<rect x="803.6" y="2019.1" width="1.8" height="1.4" fill="#9090C0"/>
<rect x="809.2" y="2019.1" width="1.8" height="1.4" fill="#D0A0A0"/>
<rect x="814.8" y="2019.1" width="1.8" height="1.4" fill="#D0A0A0"/>
<rect x="820.4" y="2019.1" width="1.8" height="1.4" fill="#9090C0"/>
<rect x="826.0" y="2019.1" width="1.8" height="1.4" fill="#D0A0A0"/>
<rect x="831.6" y="2019.1" width="1.8" height="1.4" fill="#D0A0A0"/>
<rect x="837.2" y="2019.1" width="1.8" height="1.4" fill="#9090C0"/>
<rect x="842.8" y="2019.1" width="1.8" height="1.4" fill="#D0A0A0"/>
<rect x="848.4" y="2019.1" width="1.8" height="1.4" fill="#D0A0A0"/>
<rect x="854.0" y="2019.1" width="1.8" height="1.4" fill="#9090C0"/>
<rect x="859.6" y="2019.1" width="1.8" height="1.4" fill="#D0A0A0"/>
<rect x="865.2" y="2019.1" width="1.8" height="1.4" fill="#D0A0A0"/>
<rect x="870.8" y="2019.1" width="1.8" height="1.4" fill="#9090C0"/>
<rect x="876.4" y="2019.1" width="1.8" height="1.4" fill="#D0A0A0"/>
<rect x="772.85" y="2017.55" width="111.90" height="39.90" fill="none" stroke="#243C74" stroke-width="1.5"/>
<text x="878.0" y="2021.3" font-size="7" font-weight="bold" fill="#222" style="stroke:none">4</text>
<text transform="translate(896.85,2053.80) scale(0.9960,1)" font-size="33.60" fill="#000"><tspan>4</tspan></text>
<polyline points="699.00,2096.01 699.33,2093.51 699.67,2091.01 700.00,2088.82 700.34,2087.30 700.67,2086.70 701.00,2087.12 701.34,2088.47 701.67,2090.52 702.01,2092.92 702.34,2095.27 702.68,2097.25 703.01,2098.59 703.34,2099.11 703.68,2098.72 704.01,2097.39 704.35,2095.19 704.68,2092.28 705.01,2088.98 705.35,2085.71 705.68,2082.96 706.02,2081.19 706.35,2080.71 706.69,2081.62 707.02,2083.74 707.35,2086.74 707.69,2090.14 708.02,2093.50 708.36,2096.49 708.69,2098.90 709.02,2100.70 709.36,2101.93 709.69,2102.72 710.03,2103.19 710.36,2103.45 710.69,2103.58 711.03,2103.65 711.36,2103.68 711.70,2103.69 712.03,2103.69 712.37,2103.69 712.70,2103.67 713.03,2103.63 713.37,2103.54 713.70,2103.38 714.04,2103.07 714.37,2102.54 714.70,2101.71 715.04,2100.48 715.37,2098.79 715.71,2096.67 716.04,2094.22 716.37,2091.69 716.71,2089.38 717.04,2087.65 717.38,2086.77 717.71,2086.90 718.05,2088.01 718.38,2089.90 718.71,2092.23 719.05,2094.64 719.38,2096.75 719.72,2098.29 720.05,2099.05 720.38,2098.92 720.72,2097.86 721.05,2095.88 721.39,2093.15 721.72,2089.92 722.06,2086.60 722.39,2083.65 722.72,2081.57 723.06,2080.71 723.39,2081.23 723.73,2083.04 724.06,2085.84 724.39,2089.17 724.73,2092.59 725.06,2095.70 725.40,2098.29 725.73,2100.25 726.06,2101.64 726.40,2102.54 726.73,2103.08 727.07,2103.39 727.40,2103.56 727.74,2103.64 728.07,2103.67 728.40,2103.69 728.74,2103.69 729.07,2103.69 729.41,2103.68 729.74,2103.64 730.07,2103.57 730.41,2103.43 730.74,2103.17 731.08,2102.72 731.41,2101.98 731.74,2100.86 732.08,2099.31 732.41,2097.30 732.75,2094.93 733.08,2092.39 733.42,2089.98 733.75,2088.05 734.08,2086.91 734.42,2086.76 734.75,2087.61 735.09,2089.31 735.42,2091.56 735.75,2093.98 736.09,2096.20 736.42,2097.93 736.76,2098.92 737.09,2099.05 737.43,2098.25 737.76,2096.52 738.09,2093.98 738.43,2090.85 738.76,2087.51 739.10,2084.41 739.43,2082.04 739.76,2080.81 740.10,2080.94 740.43,2082.42 740.77,2084.98 741.10,2088.21 741.43,2091.65 741.77,2094.88 742.10,2097.63 742.44,2099.77 742.77,2101.30 743.11,2102.33 743.44,2102.96 743.77,2103.33 744.11,2103.52 744.44,2103.62 744.78,2103.67 745.11,2103.69 745.44,2103.69 745.78,2103.69 746.11,2103.68 746.45,2103.66 746.78,2103.60 747.11,2103.48 747.45,2103.26 747.78,2102.87 748.12,2102.22 748.45,2101.22 748.79,2099.79 749.12,2097.90 749.45,2095.62 749.79,2093.10 750.12,2090.62 750.46,2088.53 750.79,2087.14 751.12,2086.70 751.46,2087.28 751.79,2088.77 752.13,2090.90 752.46,2093.31 752.80,2095.62 753.13,2097.51 753.46,2098.73 753.80,2099.11 754.13,2098.57 754.47,2097.09 754.80,2094.76 755.13,2091.77 755.47,2088.44 755.80,2085.22 756.14,2082.60 756.47,2081.02 756.80,2080.77 757.14,2081.88 757.47,2084.18 757.81,2087.27 758.14,2090.69 758.48,2094.01 758.81,2096.92 759.14,2099.23 759.48,2100.93 759.81,2102.09 760.15,2102.82 760.48,2103.24 760.81,2103.48 761.15,2103.60 761.48,2103.66 761.82,2103.68 762.15,2103.69 762.49,2103.69 762.82,2103.68 763.15,2103.66 763.49,2103.62 763.82,2103.52 764.16,2103.34 764.49,2103.00 764.82,2102.43 765.16,2101.54 765.49,2100.24 765.83,2098.47 766.16,2096.29 766.49,2093.81 766.83,2091.29 767.16,2089.05 767.50,2087.44 767.83,2086.72 768.17,2087.02 768.50,2088.27 768.83,2090.26 769.17,2092.63 769.50,2095.00 769.84,2097.04 770.17,2098.47 770.50,2099.09 770.84,2098.82 771.17,2097.60 771.51,2095.49 771.84,2092.65 772.17,2089.38 772.51,2086.08 772.84,2083.25 773.18,2081.34 773.51,2080.70 773.85,2081.44 774.18,2083.44 774.51,2086.35 774.85,2089.73 775.18,2093.12 775.52,2096.16 775.85,2098.65 776.18,2100.51 776.52,2101.81 776.85,2102.65 777.19,2103.15 777.52,2103.43 777.86,2103.57 778.19,2103.64 778.52,2103.68 778.86,2103.69 779.19,2103.69 779.53,2103.69 779.86,2103.67 780.19,2103.64 780.53,2103.56 780.86,2103.40 781.20,2103.11 781.53,2102.62 781.86,2101.83 782.20,2100.64 782.53,2099.01 782.87,2096.94 783.20,2094.52 783.54,2091.98 783.87,2089.63 784.20,2087.81 784.54,2086.82 784.87,2086.83 785.21,2087.84 785.54,2089.65 785.87,2091.95 786.21,2094.37 786.54,2096.54 786.88,2098.18 787.21,2099.08 787.54,2099.12 787.88,2098.24 788.21,2096.47 788.55,2093.94 788.88,2090.91 789.22,2087.72 789.55,2084.84 789.88,2082.73 790.22,2081.76 790.55,2082.10 790.89,2083.70 791.22,2086.28 791.55,2089.43 791.89,2092.70 792.22,2095.73 792.56,2098.27 792.89,2100.22 793.23,2101.60 793.56,2102.51 793.89,2103.06 794.23,2103.38 794.56,2103.55 794.90,2103.63 795.23,2103.67 795.56,2103.69 795.90,2103.69 796.23,2103.69 796.57,2103.68 796.90,2103.66 797.23,2103.61 797.57,2103.50 797.90,2103.30 798.24,2102.95 798.57,2102.37 798.91,2101.50 799.24,2100.26 799.57,2098.66 799.91,2096.74 800.24,2094.66 800.58,2092.65 800.91,2091.01 801.24,2089.99 801.58,2089.76 801.91,2090.38 802.25,2091.72 802.58,2093.57 802.91,2095.64 803.25,2097.67 803.58,2099.46 803.92,2100.89 804.25,2101.95 804.59,2102.68 804.92,2103.14 805.25,2103.41 805.59,2103.56 805.92,2103.63 806.26,2103.67 806.59,2103.69 806.92,2103.70 807.26,2103.70 807.59,2103.70 807.93,2103.70 808.26,2103.70 808.60,2103.70 808.93,2103.70 809.26,2103.70 809.60,2103.70 809.93,2103.70 810.27,2103.70 810.60,2103.70" fill="none" stroke="#DC9C9C" stroke-width="1.15" stroke-linejoin="round"/>
<polyline points="699.00,2103.70 699.33,2103.70 699.67,2103.70 700.00,2103.70 700.34,2103.70 700.67,2103.70 701.00,2103.70 701.34,2103.70 701.67,2103.70 702.01,2103.70 702.34,2103.70 702.68,2103.70 703.01,2103.70 703.34,2103.70 703.68,2103.70 704.01,2103.70 704.35,2103.70 704.68,2103.70 705.01,2103.70 705.35,2103.70 705.68,2103.70 706.02,2103.70 706.35,2103.70 706.69,2103.70 707.02,2103.69 707.35,2103.67 707.69,2103.62 708.02,2103.50 708.36,2103.26 708.69,2102.79 709.02,2101.96 709.36,2100.60 709.69,2098.55 710.03,2095.73 710.36,2092.22 710.69,2088.31 711.03,2084.48 711.36,2081.36 711.70,2079.52 712.03,2079.33 712.37,2080.84 712.70,2083.73 713.03,2087.46 713.37,2091.40 713.70,2095.03 714.04,2098.01 714.37,2100.22 714.70,2101.72 715.04,2102.65 715.37,2103.18 715.71,2103.46 716.04,2103.60 716.37,2103.66 716.71,2103.69 717.04,2103.69 717.38,2103.70 717.71,2103.70 718.05,2103.70 718.38,2103.70 718.71,2103.70 719.05,2103.70 719.38,2103.70 719.72,2103.70 720.05,2103.70 720.38,2103.70 720.72,2103.70 721.05,2103.70 721.39,2103.70 721.72,2103.70 722.06,2103.70 722.39,2103.70 722.72,2103.70 723.06,2103.70 723.39,2103.70 723.73,2103.69 724.06,2103.68 724.39,2103.64 724.73,2103.54 725.06,2103.35 725.40,2102.95 725.73,2102.24 726.06,2101.05 726.40,2099.20 726.73,2096.60 727.07,2093.26 727.40,2089.42 727.74,2085.51 728.07,2082.13 728.40,2079.88 728.74,2079.21 729.07,2080.26 729.41,2082.81 729.74,2086.37 730.07,2090.31 730.41,2094.07 730.74,2097.25 731.08,2099.68 731.41,2101.37 731.74,2102.44 732.08,2103.07 732.41,2103.40 732.75,2103.57 733.08,2103.65 733.42,2103.68 733.75,2103.69 734.08,2103.70 734.42,2103.70 734.75,2103.70 735.09,2103.70 735.42,2103.70 735.75,2103.70 736.09,2103.70 736.42,2103.70 736.76,2103.70 737.09,2103.70 737.43,2103.70 737.76,2103.70 738.09,2103.70 738.43,2103.70 738.76,2103.70 739.10,2103.70 739.43,2103.70 739.76,2103.70 740.10,2103.70 740.43,2103.69 740.77,2103.68 741.10,2103.65 741.43,2103.58 741.77,2103.42 742.10,2103.09 742.44,2102.48 742.77,2101.44 743.11,2099.79 743.44,2097.40 743.77,2094.26 744.11,2090.52 744.44,2086.58 744.78,2082.98 745.11,2080.36 745.44,2079.22 745.78,2079.80 746.11,2081.97 746.45,2085.31 746.78,2089.21 747.11,2093.07 747.45,2096.44 747.78,2099.08 748.12,2100.96 748.45,2102.19 748.79,2102.93 749.12,2103.33 749.45,2103.54 749.79,2103.63 750.12,2103.67 750.46,2103.69 750.79,2103.70 751.12,2103.70 751.46,2103.70 751.79,2103.70 752.13,2103.70 752.46,2103.70 752.80,2103.70 753.13,2103.70 753.46,2103.70 753.80,2103.70 754.13,2103.70 754.47,2103.70 754.80,2103.70 755.13,2103.70 755.47,2103.70 755.80,2103.70 756.14,2103.70 756.47,2103.70 756.80,2103.70 757.14,2103.70 757.47,2103.69 757.81,2103.66 758.14,2103.60 758.48,2103.47 758.81,2103.20 759.14,2102.69 759.48,2101.78 759.81,2100.32 760.15,2098.15 760.48,2095.21 760.81,2091.61 761.15,2087.67 761.48,2083.92 761.82,2080.96 762.15,2079.37 762.49,2079.47 762.82,2081.22 763.15,2084.29 763.49,2088.10 763.82,2092.02 764.16,2095.56 764.49,2098.42 764.82,2100.51 765.16,2101.91 765.49,2102.76 765.83,2103.24 766.16,2103.49 766.49,2103.61 766.83,2103.67 767.16,2103.69 767.50,2103.70 767.83,2103.70 768.17,2103.70 768.50,2103.70 768.83,2103.70 769.17,2103.70 769.50,2103.70 769.84,2103.70 770.17,2103.70 770.50,2103.70 770.84,2103.70 771.17,2103.70 771.51,2103.70 771.84,2103.70 772.17,2103.70 772.51,2103.70 772.84,2103.70 773.18,2103.70 773.51,2103.70 773.85,2103.70 774.18,2103.69 774.51,2103.67 774.85,2103.62 775.18,2103.52 775.52,2103.30 775.85,2102.87 776.18,2102.09 776.52,2100.80 776.85,2098.83 777.19,2096.11 777.52,2092.67 777.86,2088.78 778.19,2084.91 778.52,2081.67 778.86,2079.66 779.19,2079.27 779.53,2080.58 779.86,2083.33 780.19,2087.00 780.53,2090.94 780.86,2094.63 781.20,2097.70 781.53,2100.00 781.86,2101.58 782.20,2102.57 782.53,2103.14 782.87,2103.44 783.20,2103.59 783.54,2103.65 783.87,2103.68 784.20,2103.69 784.54,2103.70 784.87,2103.70 785.21,2103.70 785.54,2103.70 785.87,2103.70 786.21,2103.70 786.54,2103.70 786.88,2103.70 787.21,2103.70 787.54,2103.70 787.88,2103.70 788.21,2103.70 788.55,2103.70 788.88,2103.70 789.22,2103.70 789.55,2103.70 789.88,2103.70 790.22,2103.70 790.55,2103.70 790.89,2103.69 791.22,2103.68 791.55,2103.65 791.89,2103.57 792.22,2103.41 792.56,2103.09 792.89,2102.50 793.23,2101.49 793.56,2099.93 793.89,2097.70 794.23,2094.81 794.56,2091.43 794.90,2087.94 795.23,2084.85 795.56,2082.71 795.90,2081.93 796.23,2082.69 796.57,2084.82 796.90,2087.90 797.23,2091.39 797.57,2094.77 797.90,2097.67 798.24,2099.91 798.57,2101.48 798.91,2102.49 799.24,2103.09 799.57,2103.41 799.91,2103.57 800.24,2103.65 800.58,2103.68 800.91,2103.69 801.24,2103.70 801.58,2103.70 801.91,2103.70 802.25,2103.70 802.58,2103.70 802.91,2103.70 803.25,2103.70 803.58,2103.70 803.92,2103.70 804.25,2103.70 804.59,2103.70 804.92,2103.70 805.25,2103.70 805.59,2103.70 805.92,2103.70 806.26,2103.70 806.59,2103.70 806.92,2103.70 807.26,2103.70 807.59,2103.70 807.93,2103.70 808.26,2103.70 808.60,2103.70 808.93,2103.70 809.26,2103.70 809.60,2103.70 809.93,2103.70 810.27,2103.70 810.60,2103.70" fill="none" stroke="#9A9ED2" stroke-width="1.15" stroke-linejoin="round"/>
<polyline points="799.60,2103.70 799.93,2103.70 800.27,2103.70 800.60,2103.70 800.93,2103.70 801.27,2103.70 801.60,2103.70 801.93,2103.69 802.27,2103.68 802.60,2103.66 802.93,2103.60 803.27,2103.48 803.60,2103.25 803.93,2102.83 804.27,2102.12 804.60,2101.02 804.93,2099.46 805.27,2097.41 805.60,2094.96 805.93,2092.34 806.27,2089.86 806.60,2087.91 806.93,2086.84 807.27,2086.84 807.60,2087.91 807.93,2089.86 808.27,2092.34 808.60,2094.96 808.93,2097.41 809.27,2099.46 809.60,2101.02 809.93,2102.12 810.27,2102.83 810.60,2103.25" fill="none" stroke="#A0D0A0" stroke-width="1.15" stroke-linejoin="round"/>
<rect x="701.0" y="2066.6" width="1.8" height="1.4" fill="#D0A0A0"/>
<rect x="706.6" y="2066.6" width="1.8" height="1.4" fill="#D0A0A0"/>
<rect x="712.2" y="2066.6" width="1.8" height="1.4" fill="#9090C0"/>
<rect x="717.8" y="2066.6" width="1.8" height="1.4" fill="#D0A0A0"/>
<rect x="723.4" y="2066.6" width="1.8" height="1.4" fill="#D0A0A0"/>
<rect x="729.0" y="2066.6" width="1.8" height="1.4" fill="#9090C0"/>
<rect x="734.6" y="2066.6" width="1.8" height="1.4" fill="#D0A0A0"/>
<rect x="740.2" y="2066.6" width="1.8" height="1.4" fill="#D0A0A0"/>
<rect x="745.8" y="2066.6" width="1.8" height="1.4" fill="#9090C0"/>
<rect x="751.4" y="2066.6" width="1.8" height="1.4" fill="#D0A0A0"/>
<rect x="757.0" y="2066.6" width="1.8" height="1.4" fill="#D0A0A0"/>
<rect x="762.6" y="2066.6" width="1.8" height="1.4" fill="#9090C0"/>
<rect x="768.2" y="2066.6" width="1.8" height="1.4" fill="#D0A0A0"/>
<rect x="773.8" y="2066.6" width="1.8" height="1.4" fill="#D0A0A0"/>
<rect x="779.4" y="2066.6" width="1.8" height="1.4" fill="#9090C0"/>
<rect x="785.0" y="2066.6" width="1.8" height="1.4" fill="#D0A0A0"/>
<rect x="790.6" y="2066.6" width="1.8" height="1.4" fill="#D0A0A0"/>
<rect x="796.2" y="2066.6" width="1.8" height="1.4" fill="#9090C0"/>
<rect x="801.8" y="2066.6" width="1.8" height="1.4" fill="#D0A0A0"/>
<rect x="698.25" y="2065.05" width="112.60" height="39.90" fill="none" stroke="#243C74" stroke-width="1.5"/>
<text x="804.1" y="2068.8" font-size="7" font-weight="bold" fill="#222" style="stroke:none">5</text>
<text transform="translate(829.11,2100.10) scale(1.0112,1)" font-size="31.85" fill="#000"><tspan>5</tspan></text>
<polyline points="630.00,2142.21 630.33,2139.71 630.67,2137.20 631.00,2135.02 631.34,2133.50 631.67,2132.90 632.01,2133.32 632.34,2134.68 632.67,2136.73 633.01,2139.12 633.34,2141.48 633.68,2143.45 634.01,2144.79 634.35,2145.31 634.68,2144.92 635.01,2143.58 635.35,2141.37 635.68,2138.46 636.02,2135.16 636.35,2131.89 636.68,2129.15 637.02,2127.39 637.35,2126.92 637.69,2127.83 638.02,2129.96 638.36,2132.96 638.69,2136.37 639.02,2139.73 639.36,2142.71 639.69,2145.12 640.03,2146.91 640.36,2148.14 640.70,2148.93 641.03,2149.39 641.36,2149.65 641.70,2149.79 642.03,2149.85 642.37,2149.88 642.70,2149.89 643.04,2149.89 643.37,2149.89 643.70,2149.87 644.04,2149.83 644.37,2149.74 644.71,2149.57 645.04,2149.26 645.38,2148.73 645.71,2147.89 646.04,2146.65 646.38,2144.96 646.71,2142.83 647.05,2140.38 647.38,2137.85 647.71,2135.54 648.05,2133.82 648.38,2132.96 648.72,2133.11 649.05,2134.24 649.39,2136.14 649.72,2138.48 650.05,2140.88 650.39,2142.99 650.72,2144.51 651.06,2145.26 651.39,2145.11 651.73,2144.02 652.06,2142.03 652.39,2139.28 652.73,2136.05 653.06,2132.72 653.40,2129.79 653.73,2127.73 654.07,2126.90 654.40,2127.46 654.73,2129.30 655.07,2132.12 655.40,2135.46 655.74,2138.87 656.07,2141.98 656.41,2144.55 656.74,2146.50 657.07,2147.87 657.41,2148.76 657.74,2149.30 658.08,2149.60 658.41,2149.76 658.74,2149.84 659.08,2149.87 659.41,2149.89 659.75,2149.89 660.08,2149.89 660.42,2149.88 660.75,2149.84 661.08,2149.77 661.42,2149.63 661.75,2149.36 662.09,2148.90 662.42,2148.15 662.76,2147.02 663.09,2145.45 663.42,2143.43 663.76,2141.04 664.09,2138.50 664.43,2136.11 664.76,2134.20 665.10,2133.09 665.43,2132.97 665.76,2133.86 666.10,2135.59 666.43,2137.85 666.77,2140.27 667.10,2142.48 667.44,2144.18 667.77,2145.15 668.10,2145.24 668.44,2144.40 668.77,2142.64 669.11,2140.07 669.44,2136.92 669.77,2133.58 670.11,2130.50 670.44,2128.17 670.78,2126.99 671.11,2127.18 671.45,2128.71 671.78,2131.30 672.11,2134.55 672.45,2137.99 672.78,2141.21 673.12,2143.93 673.45,2146.04 673.79,2147.56 674.12,2148.56 674.45,2149.18 674.79,2149.54 675.12,2149.73 675.46,2149.82 675.79,2149.87 676.13,2149.89 676.46,2149.89 676.79,2149.89 677.13,2149.88 677.46,2149.85 677.80,2149.79 678.13,2149.67 678.47,2149.45 678.80,2149.04 679.13,2148.38 679.47,2147.36 679.80,2145.91 680.14,2144.00 680.47,2141.69 680.80,2139.17 681.14,2136.70 681.47,2134.64 681.81,2133.29 682.14,2132.90 682.48,2133.53 682.81,2135.06 683.14,2137.22 683.48,2139.64 683.81,2141.94 684.15,2143.80 684.48,2144.97 684.82,2145.31 685.15,2144.71 685.48,2143.18 685.82,2140.81 686.15,2137.79 686.49,2134.45 686.82,2131.25 687.16,2128.68 687.49,2127.17 687.82,2126.99 688.16,2128.19 688.49,2130.54 688.83,2133.66 689.16,2137.09 689.50,2140.40 689.83,2143.27 690.16,2145.55 690.50,2147.21 690.83,2148.34 691.17,2149.05 691.50,2149.46 691.83,2149.69 692.17,2149.80 692.50,2149.86 692.84,2149.88 693.17,2149.89 693.51,2149.89 693.84,2149.88 694.17,2149.86 694.51,2149.81 694.84,2149.71 695.18,2149.52 695.51,2149.17 695.85,2148.58 696.18,2147.67 696.51,2146.33 696.85,2144.54 697.18,2142.33 697.52,2139.84 697.85,2137.33 698.19,2135.12 698.52,2133.56 698.85,2132.91 699.19,2133.27 699.52,2134.59 699.86,2136.61 700.19,2139.00 700.53,2141.36 700.86,2143.36 701.19,2144.74 701.53,2145.31 701.86,2144.96 702.20,2143.67 702.53,2141.51 702.86,2138.63 703.20,2135.34 703.53,2132.05 703.87,2129.27 704.20,2127.45 704.54,2126.91 704.87,2127.75 705.20,2129.83 705.54,2132.79 705.87,2136.19 706.21,2139.56 706.54,2142.57 706.88,2145.01 707.21,2146.83 707.54,2148.09 707.88,2148.90 708.21,2149.38 708.55,2149.64 708.88,2149.78 709.22,2149.85 709.55,2149.88 709.88,2149.89 710.22,2149.89 710.55,2149.89 710.89,2149.87 711.22,2149.83 711.56,2149.75 711.89,2149.58 712.22,2149.28 712.56,2148.77 712.89,2147.95 713.23,2146.73 713.56,2145.06 713.89,2142.95 714.23,2140.51 714.56,2137.97 714.90,2135.65 715.23,2133.89 715.57,2132.98 715.90,2133.08 716.23,2134.16 716.57,2136.03 716.90,2138.36 717.24,2140.78 717.57,2142.92 717.91,2144.51 718.24,2145.35 718.57,2145.32 718.91,2144.39 719.24,2142.59 719.58,2140.05 719.91,2137.03 720.25,2133.91 720.58,2131.12 720.91,2129.14 721.25,2128.29 721.58,2128.75 721.92,2130.42 722.25,2133.03 722.59,2136.16 722.92,2139.37 723.25,2142.31 723.59,2144.76 723.92,2146.62 724.26,2147.93 724.59,2148.79 724.92,2149.31 725.26,2149.61 725.59,2149.76 725.93,2149.84 726.26,2149.87 726.60,2149.89 726.93,2149.90 727.26,2149.90 727.60,2149.90 727.93,2149.90 728.27,2149.90 728.60,2149.90 728.94,2149.90 729.27,2149.90 729.60,2149.90 729.94,2149.90 730.27,2149.90 730.61,2149.90 730.94,2149.90 731.28,2149.90 731.61,2149.90 731.94,2149.90 732.28,2149.90 732.61,2149.90 732.95,2149.90 733.28,2149.90 733.62,2149.90 733.95,2149.90 734.28,2149.90 734.62,2149.90 734.95,2149.90 735.29,2149.90 735.62,2149.90 735.95,2149.90 736.29,2149.90 736.62,2149.90 736.96,2149.90 737.29,2149.90 737.63,2149.90 737.96,2149.90 738.29,2149.90 738.63,2149.90 738.96,2149.90 739.30,2149.90 739.63,2149.90 739.97,2149.90 740.30,2149.90" fill="none" stroke="#DC9C9C" stroke-width="1.15" stroke-linejoin="round"/>
<polyline points="630.00,2149.90 630.33,2149.90 630.67,2149.90 631.00,2149.90 631.34,2149.90 631.67,2149.90 632.01,2149.90 632.34,2149.90 632.67,2149.90 633.01,2149.90 633.34,2149.90 633.68,2149.90 634.01,2149.90 634.35,2149.90 634.68,2149.90 635.01,2149.90 635.35,2149.90 635.68,2149.90 636.02,2149.90 636.35,2149.90 636.68,2149.90 637.02,2149.90 637.35,2149.90 637.69,2149.90 638.02,2149.89 638.36,2149.87 638.69,2149.82 639.02,2149.70 639.36,2149.46 639.69,2148.99 640.03,2148.15 640.36,2146.78 640.70,2144.72 641.03,2141.90 641.36,2138.38 641.70,2134.46 642.03,2130.64 642.37,2127.53 642.70,2125.71 643.04,2125.54 643.37,2127.07 643.70,2129.98 644.04,2133.71 644.37,2137.66 644.71,2141.28 645.04,2144.25 645.38,2146.45 645.71,2147.94 646.04,2148.86 646.38,2149.39 646.71,2149.67 647.05,2149.80 647.38,2149.86 647.71,2149.89 648.05,2149.89 648.38,2149.90 648.72,2149.90 649.05,2149.90 649.39,2149.90 649.72,2149.90 650.05,2149.90 650.39,2149.90 650.72,2149.90 651.06,2149.90 651.39,2149.90 651.73,2149.90 652.06,2149.90 652.39,2149.90 652.73,2149.90 653.06,2149.90 653.40,2149.90 653.73,2149.90 654.07,2149.90 654.40,2149.90 654.73,2149.89 655.07,2149.87 655.40,2149.83 655.74,2149.74 656.07,2149.54 656.41,2149.14 656.74,2148.42 657.07,2147.21 657.41,2145.34 657.74,2142.71 658.08,2139.36 658.41,2135.51 658.74,2131.60 659.08,2128.24 659.41,2126.04 659.75,2125.42 660.08,2126.52 660.42,2129.11 660.75,2132.69 661.08,2136.63 661.42,2140.38 661.75,2143.54 662.09,2145.95 662.42,2147.61 662.76,2148.67 663.09,2149.28 663.42,2149.61 663.76,2149.77 664.09,2149.85 664.43,2149.88 664.76,2149.89 665.10,2149.90 665.43,2149.90 665.76,2149.90 666.10,2149.90 666.43,2149.90 666.77,2149.90 667.10,2149.90 667.44,2149.90 667.77,2149.90 668.10,2149.90 668.44,2149.90 668.77,2149.90 669.11,2149.90 669.44,2149.90 669.77,2149.90 670.11,2149.90 670.44,2149.90 670.78,2149.90 671.11,2149.90 671.45,2149.89 671.78,2149.88 672.11,2149.85 672.45,2149.77 672.78,2149.61 673.12,2149.27 673.45,2148.65 673.79,2147.58 674.12,2145.90 674.45,2143.48 674.79,2140.30 675.12,2136.55 675.46,2132.60 675.79,2129.04 676.13,2126.48 676.46,2125.41 676.79,2126.07 677.13,2128.31 677.46,2131.68 677.80,2135.59 678.13,2139.44 678.47,2142.78 678.80,2145.39 679.13,2147.24 679.47,2148.44 679.80,2149.15 680.14,2149.54 680.47,2149.74 680.80,2149.83 681.14,2149.87 681.47,2149.89 681.81,2149.90 682.14,2149.90 682.48,2149.90 682.81,2149.90 683.14,2149.90 683.48,2149.90 683.81,2149.90 684.15,2149.90 684.48,2149.90 684.82,2149.90 685.15,2149.90 685.48,2149.90 685.82,2149.90 686.15,2149.90 686.49,2149.90 686.82,2149.90 687.16,2149.90 687.49,2149.90 687.82,2149.90 688.16,2149.89 688.49,2149.88 688.83,2149.86 689.16,2149.80 689.50,2149.66 689.83,2149.38 690.16,2148.85 690.50,2147.91 690.83,2146.41 691.17,2144.19 691.50,2141.21 691.83,2137.57 692.17,2133.63 692.50,2129.90 692.84,2127.02 693.17,2125.53 693.51,2125.73 693.84,2127.59 694.17,2130.72 694.51,2134.55 694.84,2138.46 695.18,2141.97 695.51,2144.78 695.85,2146.82 696.18,2148.18 696.51,2149.00 696.85,2149.46 697.18,2149.70 697.52,2149.82 697.85,2149.87 698.19,2149.89 698.52,2149.90 698.85,2149.90 699.19,2149.90 699.52,2149.90 699.86,2149.90 700.19,2149.90 700.53,2149.90 700.86,2149.90 701.19,2149.90 701.53,2149.90 701.86,2149.90 702.20,2149.90 702.53,2149.90 702.86,2149.90 703.20,2149.90 703.53,2149.90 703.87,2149.90 704.20,2149.90 704.54,2149.90 704.87,2149.90 705.20,2149.89 705.54,2149.87 705.87,2149.82 706.21,2149.71 706.54,2149.47 706.88,2149.02 707.21,2148.21 707.54,2146.87 707.88,2144.85 708.21,2142.06 708.55,2138.58 708.88,2134.67 709.22,2130.83 709.55,2127.66 709.88,2125.76 710.22,2125.51 710.55,2126.95 710.89,2129.80 711.22,2133.51 711.56,2137.46 711.89,2141.11 712.22,2144.11 712.56,2146.36 712.89,2147.88 713.23,2148.83 713.56,2149.37 713.89,2149.66 714.23,2149.80 714.56,2149.86 714.90,2149.88 715.23,2149.89 715.57,2149.90 715.90,2149.90 716.23,2149.90 716.57,2149.90 716.90,2149.90 717.24,2149.90 717.57,2149.90 717.91,2149.90 718.24,2149.90 718.57,2149.90 718.91,2149.90 719.24,2149.90 719.58,2149.90 719.91,2149.90 720.25,2149.90 720.58,2149.90 720.91,2149.90 721.25,2149.90 721.58,2149.90 721.92,2149.89 722.25,2149.88 722.59,2149.84 722.92,2149.77 723.25,2149.60 723.59,2149.26 723.92,2148.65 724.26,2147.62 724.59,2146.02 724.92,2143.76 725.26,2140.87 725.59,2137.52 725.93,2134.10 726.26,2131.13 726.60,2129.14 726.93,2128.52 727.26,2129.41 727.60,2131.61 727.93,2134.70 728.27,2138.14 728.60,2141.43 728.94,2144.22 729.27,2146.36 729.60,2147.84 729.94,2148.79 730.27,2149.34 730.61,2149.64 730.94,2149.79 731.28,2149.85 731.61,2149.88 731.94,2149.89 732.28,2149.90 732.61,2149.90 732.95,2149.90 733.28,2149.90 733.62,2149.90 733.95,2149.90 734.28,2149.90 734.62,2149.90 734.95,2149.90 735.29,2149.90 735.62,2149.90 735.95,2149.90 736.29,2149.90 736.62,2149.90 736.96,2149.90 737.29,2149.90 737.63,2149.90 737.96,2149.90 738.29,2149.90 738.63,2149.90 738.96,2149.90 739.30,2149.90 739.63,2149.90 739.97,2149.90 740.30,2149.90" fill="none" stroke="#9A9ED2" stroke-width="1.15" stroke-linejoin="round"/>
<polyline points="729.30,2149.08 729.63,2148.41 729.97,2147.35 730.30,2145.84 730.63,2143.84 730.97,2141.42 731.30,2138.80 731.63,2136.29 731.97,2134.27 732.30,2133.10 732.63,2132.99 732.97,2133.96 733.30,2135.83 733.63,2138.27 733.97,2140.90 734.30,2143.38 734.63,2145.48 734.97,2147.09 735.30,2148.23 735.63,2148.97 735.97,2149.41 736.30,2149.66 736.63,2149.79 736.97,2149.85 737.30,2149.88 737.63,2149.89 737.97,2149.90 738.30,2149.90 738.63,2149.90 738.97,2149.90 739.30,2149.90 739.63,2149.90 739.97,2149.90 740.30,2149.90" fill="none" stroke="#A0D0A0" stroke-width="1.15" stroke-linejoin="round"/>
<rect x="632.0" y="2113.2" width="1.8" height="1.4" fill="#D0A0A0"/>
<rect x="637.6" y="2113.2" width="1.8" height="1.4" fill="#D0A0A0"/>
<rect x="643.2" y="2113.2" width="1.8" height="1.4" fill="#9090C0"/>
<rect x="648.8" y="2113.2" width="1.8" height="1.4" fill="#D0A0A0"/>
<rect x="654.4" y="2113.2" width="1.8" height="1.4" fill="#D0A0A0"/>
<rect x="660.0" y="2113.2" width="1.8" height="1.4" fill="#9090C0"/>
<rect x="665.6" y="2113.2" width="1.8" height="1.4" fill="#D0A0A0"/>
<rect x="671.2" y="2113.2" width="1.8" height="1.4" fill="#D0A0A0"/>
<rect x="676.8" y="2113.2" width="1.8" height="1.4" fill="#9090C0"/>
<rect x="682.4" y="2113.2" width="1.8" height="1.4" fill="#D0A0A0"/>
<rect x="688.0" y="2113.2" width="1.8" height="1.4" fill="#D0A0A0"/>
<rect x="693.6" y="2113.2" width="1.8" height="1.4" fill="#9090C0"/>
<rect x="699.2" y="2113.2" width="1.8" height="1.4" fill="#D0A0A0"/>
<rect x="704.8" y="2113.2" width="1.8" height="1.4" fill="#D0A0A0"/>
<rect x="710.4" y="2113.2" width="1.8" height="1.4" fill="#9090C0"/>
<rect x="716.0" y="2113.2" width="1.8" height="1.4" fill="#D0A0A0"/>
<rect x="721.6" y="2113.2" width="1.8" height="1.4" fill="#D0A0A0"/>
<rect x="727.2" y="2113.2" width="1.8" height="1.4" fill="#9090C0"/>
<rect x="732.8" y="2113.2" width="1.8" height="1.4" fill="#D0A0A0"/>
<rect x="629.25" y="2111.65" width="111.30" height="39.50" fill="none" stroke="#243C74" stroke-width="1.5"/>
<text x="733.8" y="2115.4" font-size="7" font-weight="bold" fill="#222" style="stroke:none">6</text>
<text transform="translate(757.28,2146.90) scale(1.1153,1)" font-size="30.82" fill="#000"><tspan>6</tspan></text>
<polyline points="559.80,2189.91 560.13,2187.41 560.47,2184.91 560.80,2182.72 561.14,2181.20 561.47,2180.60 561.80,2181.02 562.14,2182.37 562.47,2184.42 562.81,2186.82 563.14,2189.17 563.48,2191.15 563.81,2192.49 564.14,2193.01 564.48,2192.62 564.81,2191.29 565.15,2189.09 565.48,2186.18 565.81,2182.88 566.15,2179.61 566.48,2176.86 566.82,2175.09 567.15,2174.61 567.49,2175.52 567.82,2177.64 568.15,2180.64 568.49,2184.04 568.82,2187.40 569.16,2190.39 569.49,2192.80 569.82,2194.60 570.16,2195.83 570.49,2196.62 570.83,2197.09 571.16,2197.35 571.49,2197.49 571.83,2197.55 572.16,2197.58 572.50,2197.59 572.83,2197.59 573.17,2197.59 573.50,2197.57 573.83,2197.53 574.17,2197.44 574.50,2197.28 574.84,2196.97 575.17,2196.44 575.50,2195.61 575.84,2194.37 576.17,2192.69 576.51,2190.56 576.84,2188.12 577.18,2185.59 577.51,2183.28 577.84,2181.54 578.18,2180.67 578.51,2180.80 578.85,2181.91 579.18,2183.80 579.51,2186.14 579.85,2188.54 580.18,2190.65 580.52,2192.19 580.85,2192.95 581.18,2192.82 581.52,2191.75 581.85,2189.78 582.19,2187.05 582.52,2183.82 582.86,2180.49 583.19,2177.55 583.52,2175.47 583.86,2174.61 584.19,2175.13 584.53,2176.95 584.86,2179.74 585.19,2183.08 585.53,2186.49 585.86,2189.61 586.20,2192.19 586.53,2194.16 586.87,2195.54 587.20,2196.44 587.53,2196.99 587.87,2197.29 588.20,2197.46 588.54,2197.54 588.87,2197.57 589.20,2197.59 589.54,2197.59 589.87,2197.59 590.21,2197.58 590.54,2197.54 590.87,2197.47 591.21,2197.33 591.54,2197.07 591.88,2196.62 592.21,2195.88 592.55,2194.76 592.88,2193.20 593.21,2191.19 593.55,2188.82 593.88,2186.28 594.22,2183.88 594.55,2181.95 594.88,2180.81 595.22,2180.66 595.55,2181.51 595.89,2183.22 596.22,2185.46 596.56,2187.89 596.89,2190.11 597.22,2191.83 597.56,2192.83 597.89,2192.95 598.23,2192.15 598.56,2190.41 598.89,2187.87 599.23,2184.74 599.56,2181.40 599.90,2178.30 600.23,2175.94 600.56,2174.71 600.90,2174.85 601.23,2176.33 601.57,2178.89 601.90,2182.12 602.24,2185.56 602.57,2188.79 602.90,2191.53 603.24,2193.67 603.57,2195.21 603.91,2196.23 604.24,2196.86 604.57,2197.23 604.91,2197.42 605.24,2197.52 605.58,2197.57 605.91,2197.59 606.25,2197.59 606.58,2197.59 606.91,2197.58 607.25,2197.55 607.58,2197.50 607.92,2197.38 608.25,2197.16 608.58,2196.77 608.92,2196.12 609.25,2195.11 609.59,2193.68 609.92,2191.80 610.25,2189.51 610.59,2186.99 610.92,2184.51 611.26,2182.42 611.59,2181.04 611.93,2180.60 612.26,2181.18 612.59,2182.67 612.93,2184.80 613.26,2187.22 613.60,2189.53 613.93,2191.42 614.26,2192.63 614.60,2193.01 614.93,2192.47 615.27,2190.99 615.60,2188.65 615.94,2185.65 616.27,2182.33 616.60,2179.11 616.94,2176.49 617.27,2174.92 617.61,2174.67 617.94,2175.79 618.27,2178.09 618.61,2181.18 618.94,2184.61 619.28,2187.93 619.61,2190.83 619.95,2193.14 620.28,2194.84 620.61,2195.99 620.95,2196.72 621.28,2197.15 621.62,2197.38 621.95,2197.50 622.28,2197.56 622.62,2197.58 622.95,2197.59 623.29,2197.59 623.62,2197.58 623.95,2197.56 624.29,2197.52 624.62,2197.42 624.96,2197.24 625.29,2196.90 625.63,2196.33 625.96,2195.43 626.29,2194.13 626.63,2192.37 626.96,2190.18 627.30,2187.70 627.63,2185.18 627.96,2182.95 628.30,2181.33 628.63,2180.62 628.97,2180.92 629.30,2182.18 629.64,2184.17 629.97,2186.54 630.30,2188.91 630.64,2190.95 630.97,2192.37 631.31,2193.00 631.64,2192.71 631.97,2191.49 632.31,2189.38 632.64,2186.54 632.98,2183.26 633.31,2179.97 633.64,2177.14 633.98,2175.23 634.31,2174.60 634.65,2175.35 634.98,2177.35 635.32,2180.27 635.65,2183.65 635.98,2187.03 636.32,2190.07 636.65,2192.56 636.99,2194.42 637.32,2195.72 637.65,2196.55 637.99,2197.05 638.32,2197.33 638.66,2197.47 638.99,2197.54 639.33,2197.58 639.66,2197.59 639.99,2197.59 640.33,2197.59 640.66,2197.57 641.00,2197.53 641.33,2197.46 641.66,2197.30 642.00,2197.01 642.33,2196.52 642.67,2195.72 643.00,2194.54 643.33,2192.90 643.67,2190.82 644.00,2188.41 644.34,2185.87 644.67,2183.52 645.01,2181.70 645.34,2180.72 645.67,2180.73 646.01,2181.74 646.34,2183.56 646.68,2185.87 647.01,2188.29 647.34,2190.46 647.68,2192.10 648.01,2193.00 648.35,2193.05 648.68,2192.18 649.02,2190.44 649.35,2187.95 649.68,2184.95 650.02,2181.80 650.35,2178.96 650.69,2176.88 651.02,2175.93 651.35,2176.28 651.69,2177.86 652.02,2180.41 652.36,2183.53 652.69,2186.76 653.02,2189.75 653.36,2192.25 653.69,2194.17 654.03,2195.53 654.36,2196.43 654.70,2196.97 655.03,2197.29 655.36,2197.45 655.70,2197.53 656.03,2197.57 656.37,2197.59 656.70,2197.59 657.03,2197.59 657.37,2197.58 657.70,2197.56 658.04,2197.51 658.37,2197.40 658.71,2197.20 659.04,2196.86 659.37,2196.29 659.71,2195.42 660.04,2194.20 660.38,2192.62 660.71,2190.72 661.04,2188.68 661.38,2186.70 661.71,2185.09 662.05,2184.08 662.38,2183.87 662.71,2184.48 663.05,2185.81 663.38,2187.63 663.72,2189.67 664.05,2191.67 664.39,2193.43 664.72,2194.84 665.05,2195.88 665.39,2196.59 665.72,2197.05 666.06,2197.31 666.39,2197.46 666.72,2197.54 667.06,2197.57 667.39,2197.59 667.73,2197.60 668.06,2197.60 668.40,2197.60 668.73,2197.60 669.06,2197.60 669.40,2197.60 669.73,2197.60 670.07,2197.60 670.40,2197.60" fill="none" stroke="#DC9C9C" stroke-width="1.15" stroke-linejoin="round"/>
<polyline points="559.80,2197.60 560.13,2197.60 560.47,2197.60 560.80,2197.60 561.14,2197.60 561.47,2197.60 561.80,2197.60 562.14,2197.60 562.47,2197.60 562.81,2197.60 563.14,2197.60 563.48,2197.60 563.81,2197.60 564.14,2197.60 564.48,2197.60 564.81,2197.60 565.15,2197.60 565.48,2197.60 565.81,2197.60 566.15,2197.60 566.48,2197.60 566.82,2197.60 567.15,2197.60 567.49,2197.60 567.82,2197.59 568.15,2197.57 568.49,2197.52 568.82,2197.40 569.16,2197.16 569.49,2196.69 569.82,2195.86 570.16,2194.50 570.49,2192.45 570.83,2189.63 571.16,2186.12 571.49,2182.21 571.83,2178.38 572.16,2175.26 572.50,2173.42 572.83,2173.24 573.17,2174.74 573.50,2177.63 573.83,2181.36 574.17,2185.31 574.50,2188.93 574.84,2191.91 575.17,2194.12 575.50,2195.62 575.84,2196.55 576.17,2197.08 576.51,2197.36 576.84,2197.50 577.18,2197.56 577.51,2197.59 577.84,2197.59 578.18,2197.60 578.51,2197.60 578.85,2197.60 579.18,2197.60 579.51,2197.60 579.85,2197.60 580.18,2197.60 580.52,2197.60 580.85,2197.60 581.18,2197.60 581.52,2197.60 581.85,2197.60 582.19,2197.60 582.52,2197.60 582.86,2197.60 583.19,2197.60 583.52,2197.60 583.86,2197.60 584.19,2197.60 584.53,2197.59 584.86,2197.58 585.19,2197.53 585.53,2197.44 585.86,2197.24 586.20,2196.85 586.53,2196.14 586.87,2194.94 587.20,2193.10 587.53,2190.49 587.87,2187.16 588.20,2183.31 588.54,2179.40 588.87,2176.02 589.20,2173.78 589.54,2173.11 589.87,2174.16 590.21,2176.72 590.54,2180.28 590.87,2184.22 591.21,2187.98 591.54,2191.16 591.88,2193.58 592.21,2195.27 592.55,2196.34 592.88,2196.97 593.21,2197.30 593.55,2197.47 593.88,2197.55 594.22,2197.58 594.55,2197.59 594.88,2197.60 595.22,2197.60 595.55,2197.60 595.89,2197.60 596.22,2197.60 596.56,2197.60 596.89,2197.60 597.22,2197.60 597.56,2197.60 597.89,2197.60 598.23,2197.60 598.56,2197.60 598.89,2197.60 599.23,2197.60 599.56,2197.60 599.90,2197.60 600.23,2197.60 600.56,2197.60 600.90,2197.60 601.23,2197.59 601.57,2197.58 601.90,2197.55 602.24,2197.48 602.57,2197.31 602.90,2196.99 603.24,2196.38 603.57,2195.33 603.91,2193.68 604.24,2191.29 604.57,2188.15 604.91,2184.41 605.24,2180.47 605.58,2176.87 605.91,2174.26 606.25,2173.12 606.58,2173.70 606.91,2175.88 607.25,2179.22 607.58,2183.12 607.92,2186.98 608.25,2190.35 608.58,2192.99 608.92,2194.87 609.25,2196.09 609.59,2196.83 609.92,2197.23 610.25,2197.44 610.59,2197.53 610.92,2197.57 611.26,2197.59 611.59,2197.60 611.93,2197.60 612.26,2197.60 612.59,2197.60 612.93,2197.60 613.26,2197.60 613.60,2197.60 613.93,2197.60 614.26,2197.60 614.60,2197.60 614.93,2197.60 615.27,2197.60 615.60,2197.60 615.94,2197.60 616.27,2197.60 616.60,2197.60 616.94,2197.60 617.27,2197.60 617.61,2197.60 617.94,2197.60 618.27,2197.59 618.61,2197.56 618.94,2197.50 619.28,2197.37 619.61,2197.10 619.95,2196.59 620.28,2195.68 620.61,2194.21 620.95,2192.04 621.28,2189.10 621.62,2185.49 621.95,2181.56 622.28,2177.80 622.62,2174.85 622.95,2173.27 623.29,2173.37 623.62,2175.13 623.95,2178.21 624.29,2182.01 624.62,2185.94 624.96,2189.47 625.29,2192.33 625.63,2194.42 625.96,2195.81 626.29,2196.66 626.63,2197.14 626.96,2197.39 627.30,2197.51 627.63,2197.57 627.96,2197.59 628.30,2197.60 628.63,2197.60 628.97,2197.60 629.30,2197.60 629.64,2197.60 629.97,2197.60 630.30,2197.60 630.64,2197.60 630.97,2197.60 631.31,2197.60 631.64,2197.60 631.97,2197.60 632.31,2197.60 632.64,2197.60 632.98,2197.60 633.31,2197.60 633.64,2197.60 633.98,2197.60 634.31,2197.60 634.65,2197.60 634.98,2197.59 635.32,2197.57 635.65,2197.52 635.98,2197.42 636.32,2197.20 636.65,2196.76 636.99,2195.98 637.32,2194.69 637.65,2192.72 637.99,2189.99 638.32,2186.55 638.66,2182.66 638.99,2178.79 639.33,2175.56 639.66,2173.55 639.99,2173.17 640.33,2174.49 640.66,2177.25 641.00,2180.92 641.33,2184.86 641.66,2188.55 642.00,2191.61 642.33,2193.91 642.67,2195.48 643.00,2196.47 643.33,2197.04 643.67,2197.34 644.00,2197.49 644.34,2197.56 644.67,2197.58 645.01,2197.59 645.34,2197.60 645.67,2197.60 646.01,2197.60 646.34,2197.60 646.68,2197.60 647.01,2197.60 647.34,2197.60 647.68,2197.60 648.01,2197.60 648.35,2197.60 648.68,2197.60 649.02,2197.60 649.35,2197.60 649.68,2197.60 650.02,2197.60 650.35,2197.60 650.69,2197.60 651.02,2197.60 651.35,2197.60 651.69,2197.59 652.02,2197.58 652.36,2197.55 652.69,2197.47 653.02,2197.32 653.36,2197.00 653.69,2196.41 654.03,2195.42 654.36,2193.87 654.70,2191.66 655.03,2188.81 655.36,2185.47 655.70,2182.03 656.03,2178.99 656.37,2176.88 656.70,2176.13 657.03,2176.88 657.37,2178.99 657.70,2182.04 658.04,2185.48 658.37,2188.81 658.71,2191.67 659.04,2193.87 659.37,2195.42 659.71,2196.41 660.04,2197.00 660.38,2197.32 660.71,2197.47 661.04,2197.55 661.38,2197.58 661.71,2197.59 662.05,2197.60 662.38,2197.60 662.71,2197.60 663.05,2197.60 663.38,2197.60 663.72,2197.60 664.05,2197.60 664.39,2197.60 664.72,2197.60 665.05,2197.60 665.39,2197.60 665.72,2197.60 666.06,2197.60 666.39,2197.60 666.72,2197.60 667.06,2197.60 667.39,2197.60 667.73,2197.60 668.06,2197.60 668.40,2197.60 668.73,2197.60 669.06,2197.60 669.40,2197.60 669.73,2197.60 670.07,2197.60 670.40,2197.60" fill="none" stroke="#9A9ED2" stroke-width="1.15" stroke-linejoin="round"/>
<polyline points="659.40,2197.60 659.73,2197.60 660.07,2197.60 660.40,2197.60 660.73,2197.60 661.07,2197.60 661.40,2197.60 661.73,2197.60 662.07,2197.60 662.40,2197.60 662.73,2197.60 663.07,2197.60 663.40,2197.60 663.73,2197.60 664.07,2197.60 664.40,2197.60 664.73,2197.60 665.07,2197.60 665.40,2197.60 665.73,2197.60 666.07,2197.60 666.40,2197.60 666.73,2197.60 667.07,2197.60 667.40,2197.60 667.73,2197.60 668.07,2197.60 668.40,2197.60 668.73,2197.60 669.07,2197.60 669.40,2197.60 669.73,2197.60 670.07,2197.60 670.40,2197.60" fill="none" stroke="#A0D0A0" stroke-width="1.15" stroke-linejoin="round"/>
<rect x="561.8" y="2160.9" width="1.8" height="1.4" fill="#D0A0A0"/>
<rect x="567.4" y="2160.9" width="1.8" height="1.4" fill="#D0A0A0"/>
<rect x="573.0" y="2160.9" width="1.8" height="1.4" fill="#9090C0"/>
<rect x="578.6" y="2160.9" width="1.8" height="1.4" fill="#D0A0A0"/>
<rect x="584.2" y="2160.9" width="1.8" height="1.4" fill="#D0A0A0"/>
<rect x="589.8" y="2160.9" width="1.8" height="1.4" fill="#9090C0"/>
<rect x="595.4" y="2160.9" width="1.8" height="1.4" fill="#D0A0A0"/>
<rect x="601.0" y="2160.9" width="1.8" height="1.4" fill="#D0A0A0"/>
<rect x="606.6" y="2160.9" width="1.8" height="1.4" fill="#9090C0"/>
<rect x="612.2" y="2160.9" width="1.8" height="1.4" fill="#D0A0A0"/>
<rect x="617.8" y="2160.9" width="1.8" height="1.4" fill="#D0A0A0"/>
<rect x="623.4" y="2160.9" width="1.8" height="1.4" fill="#9090C0"/>
<rect x="629.0" y="2160.9" width="1.8" height="1.4" fill="#D0A0A0"/>
<rect x="634.6" y="2160.9" width="1.8" height="1.4" fill="#D0A0A0"/>
<rect x="640.2" y="2160.9" width="1.8" height="1.4" fill="#9090C0"/>
<rect x="645.8" y="2160.9" width="1.8" height="1.4" fill="#D0A0A0"/>
<rect x="651.4" y="2160.9" width="1.8" height="1.4" fill="#D0A0A0"/>
<rect x="657.0" y="2160.9" width="1.8" height="1.4" fill="#9090C0"/>
<rect x="662.6" y="2160.9" width="1.8" height="1.4" fill="#D0A0A0"/>
<rect x="559.05" y="2159.35" width="111.60" height="39.50" fill="none" stroke="#243C74" stroke-width="1.5"/>
<text x="663.9" y="2163.1" font-size="7" font-weight="bold" fill="#222" style="stroke:none">7</text>
<text transform="translate(688.35,2194.40) scale(1.0118,1)" font-size="32.58" fill="#000"><tspan>7</tspan></text>
<path d="M559.2,2200 L559.2,2247" stroke="#222" stroke-width="1.8" stroke-dasharray="5 3"/>
<path d="M1092.7,1920 L1092.7,2236" stroke="#222" stroke-width="1.8" stroke-dasharray="5 3"/>
<polyline points="553.00,2292.34 553.33,2290.25 553.67,2288.94 554.00,2288.50 554.33,2288.94 554.67,2290.24 555.00,2292.33 555.33,2295.11 555.67,2298.43 556.00,2302.15 556.33,2306.09 556.67,2310.10 557.00,2314.03 557.33,2317.76 557.67,2321.18 558.00,2324.23 558.33,2326.87 558.67,2329.06 559.00,2330.81 559.33,2332.14 559.67,2333.05 560.00,2333.58 560.33,2333.76 560.67,2333.60 561.00,2333.12 561.33,2332.34 561.67,2331.28 562.00,2329.92 562.33,2328.30 562.67,2326.41 563.00,2324.26 563.33,2321.88 563.67,2319.28 564.00,2316.51 564.33,2313.59 564.67,2310.59 565.00,2307.56 565.33,2304.58 565.67,2301.70 566.00,2299.01 566.33,2296.57 566.67,2294.46 567.00,2292.74 567.33,2291.46 567.67,2290.64 568.00,2290.32 568.33,2290.49 568.67,2291.12 569.00,2292.19 569.33,2293.63 569.67,2295.38 570.00,2297.33 570.33,2299.41 570.67,2301.50 571.00,2303.51 571.33,2305.34 571.67,2306.92 572.00,2308.18 572.33,2309.07 572.67,2309.58 573.00,2309.72 573.33,2309.52 573.67,2309.05 574.00,2308.39 574.33,2307.63 574.67,2306.88 575.00,2306.25 575.33,2305.82 575.67,2305.69 576.00,2305.89 576.33,2306.46 576.67,2307.37 577.00,2308.60 577.33,2310.08 577.67,2311.71 578.00,2313.39 578.33,2315.02 578.67,2316.48 579.00,2317.68 579.33,2318.52 579.67,2318.94 580.00,2318.90 580.33,2318.37 580.67,2317.37 581.00,2315.93 581.33,2314.09 581.67,2311.92 582.00,2309.52 582.33,2306.97 582.67,2304.39 583.00,2301.87 583.33,2299.53 583.67,2297.46 584.00,2295.75 584.33,2294.48 584.67,2293.70 585.00,2293.44 585.33,2293.73 585.67,2294.54 586.00,2295.86 586.33,2297.62 586.67,2299.76 587.00,2302.19 587.33,2304.82 587.67,2307.55 588.00,2310.27 588.33,2312.88 588.67,2315.27 589.00,2317.36 589.33,2319.07 589.67,2320.33 590.00,2321.11 590.33,2321.37 590.67,2321.14 591.00,2320.44 591.33,2319.35 591.67,2317.94 592.00,2316.33 592.33,2314.66 592.67,2313.05 593.00,2311.63 593.33,2310.54 593.67,2309.85 594.00,2309.63 594.33,2309.89 594.67,2310.61 595.00,2311.73 595.33,2313.14 595.67,2314.72 596.00,2316.33 596.33,2317.82 596.67,2319.06 597.00,2319.92 597.33,2320.31 597.67,2320.16 598.00,2319.46 598.33,2318.21 598.67,2316.46 599.00,2314.28 599.33,2311.77 599.67,2309.08 600.00,2306.32 600.33,2303.67 600.67,2301.25 601.00,2299.22 601.33,2297.68 601.67,2296.73 602.00,2296.43 602.33,2296.79 602.67,2297.81 603.00,2299.44 603.33,2301.60 603.67,2304.18 604.00,2307.06 604.33,2310.12 604.67,2313.20 605.00,2316.19 605.33,2318.95 605.67,2321.37 606.00,2323.37 606.33,2324.86 606.67,2325.80 607.00,2326.15 607.33,2325.90 607.67,2325.07 608.00,2323.73 608.33,2321.95 608.67,2319.83 609.00,2317.53 609.33,2315.19 609.67,2312.97 610.00,2311.04 610.33,2309.54 610.67,2308.59 611.00,2308.25 611.33,2308.54 611.67,2309.45 612.00,2310.88 612.33,2312.72 612.67,2314.81 613.00,2316.98 613.33,2319.06 613.67,2320.89 614.00,2322.32 614.33,2323.24 614.67,2323.57 615.00,2323.28 615.33,2322.36 615.67,2320.85 616.00,2318.84 616.33,2316.41 616.67,2313.72 617.00,2310.92 617.33,2308.17 617.67,2305.63 618.00,2303.47 618.33,2301.82 618.67,2300.80 619.00,2300.46 619.33,2300.84 619.67,2301.92 620.00,2303.64 620.33,2305.91 620.67,2308.61 621.00,2311.59 621.33,2314.70 621.67,2317.82 622.00,2320.79 622.33,2323.51 622.67,2325.87 623.00,2327.79 623.33,2329.21 623.67,2330.08 624.00,2330.37 624.33,2330.07 624.67,2329.18 625.00,2327.74 625.33,2325.82 625.67,2323.52 626.00,2320.98 626.33,2318.35 626.67,2315.84 627.00,2313.63 627.33,2311.90 627.67,2310.79 628.00,2310.39 628.33,2310.73 628.67,2311.77 629.00,2313.39 629.33,2315.44 629.67,2317.71 630.00,2319.98 630.33,2322.02 630.67,2323.64 631.00,2324.67 631.33,2325.00 631.67,2324.56 632.00,2323.35 632.33,2321.43 632.67,2318.94 633.00,2316.04 633.33,2312.97 633.67,2309.97 634.00,2307.30 634.33,2305.21 634.67,2303.87 635.00,2303.44 635.33,2303.95 635.67,2305.37 636.00,2307.60 636.33,2310.47 636.67,2313.76 637.00,2317.27 637.33,2320.78 637.67,2324.11 638.00,2327.14 638.33,2329.77 638.67,2331.98 639.00,2333.76 639.33,2335.14 639.67,2336.17 640.00,2336.91 640.33,2337.39 640.67,2337.66 641.00,2337.74 641.33,2337.62 641.67,2337.28 642.00,2336.67 642.33,2335.72 642.67,2334.38 643.00,2332.59 643.33,2330.31 643.67,2327.58 644.00,2324.48 644.33,2321.18 644.67,2317.91 645.00,2314.95 645.33,2312.57 645.67,2311.02 646.00,2310.46 646.33,2310.95 646.67,2312.39 647.00,2314.59 647.33,2317.24 647.67,2319.96 648.00,2322.38 648.33,2324.14 648.67,2324.94 649.00,2324.62 649.33,2323.13 649.67,2320.60 650.00,2317.33 650.33,2313.77 650.67,2310.43 651.00,2307.86 651.33,2306.49 651.67,2306.59 652.00,2308.17 652.33,2311.05 652.67,2314.84 653.00,2319.09 653.33,2323.33 653.67,2327.22 654.00,2330.52 654.33,2333.12 654.67,2335.05 655.00,2336.40 655.33,2337.28 655.67,2337.82 656.00,2338.14 656.33,2338.32 656.67,2338.41 657.00,2338.45 657.33,2338.45 657.67,2338.42 658.00,2338.35 658.33,2338.20 658.67,2337.93 659.00,2337.45 659.33,2336.66 659.67,2335.43 660.00,2333.61 660.33,2331.05 660.67,2327.66 661.00,2323.45 661.33,2318.55 661.67,2313.24 662.00,2307.96 662.33,2303.25 662.67,2299.64 663.00,2297.60 663.33,2297.36 663.67,2298.94 664.00,2302.06 664.33,2306.25 664.67,2310.86 665.00,2315.20 665.33,2318.65 665.67,2320.69 666.00,2320.96 666.33,2319.31 666.67,2315.80 667.00,2310.72 667.33,2304.59 667.67,2298.10 668.00,2292.07 668.33,2287.30 668.67,2284.48 669.00,2284.02 669.33,2286.02 669.67,2290.22 670.00,2296.09 670.33,2302.92 670.67,2310.01 671.00,2316.71 671.33,2322.59 671.67,2327.41 672.00,2331.12 672.33,2333.81 672.67,2335.65 673.00,2336.85 673.33,2337.59 673.67,2338.01 674.00,2338.25 674.33,2338.36 674.67,2338.39 675.00,2338.36 675.33,2338.25 675.67,2338.03 676.00,2337.64 676.33,2336.96 676.67,2335.87 677.00,2334.22 677.33,2331.84 677.67,2328.60 678.00,2324.47 678.33,2319.50 678.67,2313.94 679.00,2308.19 679.33,2302.78 679.67,2298.30 680.00,2295.30 680.33,2294.16 680.67,2295.00 681.00,2297.68 681.33,2301.77 681.67,2306.66 682.00,2311.64 682.33,2316.00 682.67,2319.15 683.00,2320.65 683.33,2320.24 683.67,2317.90 684.00,2313.81 684.33,2308.41 684.67,2302.29 685.00,2296.22 685.33,2291.02 685.67,2287.40 686.00,2285.91 686.33,2286.79 686.67,2289.93 687.00,2294.94 687.33,2301.19 687.67,2307.99 688.00,2314.68 688.33,2320.74 688.67,2325.86 689.00,2329.91 689.33,2332.92 689.67,2335.05 690.00,2336.46 690.33,2337.34 690.67,2337.87 691.00,2338.17 691.33,2338.33 691.67,2338.39 692.00,2338.39 692.33,2338.32 692.67,2338.15 693.00,2337.85 693.33,2337.31 693.67,2336.43 694.00,2335.06 694.33,2333.03 694.67,2330.21 695.00,2326.50 695.33,2321.91 695.67,2316.61 696.00,2310.91 696.33,2305.31 696.67,2300.36 697.00,2296.66 697.33,2294.66 697.67,2294.61 698.00,2296.49 698.33,2300.01 698.67,2304.61 699.00,2309.64 699.33,2314.37 699.67,2318.17 700.00,2320.53 700.33,2321.12 700.67,2319.82 701.00,2316.70 701.33,2312.09 701.67,2306.50 702.00,2300.60 702.33,2295.17 702.67,2290.96 703.00,2288.57 703.33,2288.39 703.67,2290.45 704.00,2294.50 704.33,2300.02 704.67,2306.38 705.00,2312.89 705.33,2319.01 705.67,2324.33 706.00,2328.67 706.33,2331.99 706.67,2334.38 707.00,2336.01 707.33,2337.06 707.67,2337.71 708.00,2338.08 708.33,2338.28 708.67,2338.38 709.00,2338.40 709.33,2338.37 709.67,2338.26 710.00,2338.05 710.33,2337.66 710.67,2337.01 711.00,2335.97 711.33,2334.39 711.67,2332.14 712.00,2329.09 712.33,2325.23 712.67,2320.61 713.00,2315.48 713.33,2310.22 713.67,2305.33 714.00,2301.34 714.33,2298.75 714.67,2297.88 715.00,2298.83 715.33,2301.43 715.67,2305.26 716.00,2309.76 716.33,2314.25 716.67,2318.09 717.00,2320.75 717.33,2321.82 717.67,2321.08 718.00,2318.53 718.33,2314.37 718.67,2309.01 719.00,2303.06 719.33,2297.24 719.67,2292.34 720.00,2289.03 720.33,2287.82 720.67,2288.89 721.00,2292.12 721.33,2297.09 721.67,2303.20 722.00,2309.77 722.33,2316.17 722.67,2321.93 723.00,2326.76 723.33,2330.56 723.67,2333.37 724.00,2335.34 724.33,2336.64 724.67,2337.45 725.00,2337.93 725.33,2338.20 725.67,2338.34 726.00,2338.39 726.33,2338.38 726.67,2338.29 727.00,2338.11 727.33,2337.76 727.67,2337.17 728.00,2336.19 728.33,2334.68 728.67,2332.46 729.00,2329.38 729.33,2325.36 729.67,2320.42 730.00,2314.75 730.33,2308.71 730.67,2302.82 731.00,2297.69 731.33,2293.93 731.67,2292.01 732.00,2292.18 732.33,2294.37 732.67,2298.24 733.00,2303.20 733.33,2308.55 733.67,2313.54 734.00,2317.50 734.33,2319.93 734.67,2320.50 735.00,2319.11 735.33,2315.88 735.67,2311.15 736.00,2305.47 736.33,2299.53 736.67,2294.14 737.00,2290.04 737.33,2287.85 737.67,2287.89 738.00,2290.20 738.33,2294.47 738.67,2300.18 739.00,2306.65 739.33,2313.23 739.67,2319.35 740.00,2324.65 740.33,2328.93 740.67,2332.19 741.00,2334.53 741.33,2336.11 741.67,2337.13 742.00,2337.75 742.33,2338.10 742.67,2338.29 743.00,2338.38 743.33,2338.39 743.67,2338.35 744.00,2338.22 744.33,2337.96 744.67,2337.51 745.00,2336.75 745.33,2335.54 745.67,2333.72 746.00,2331.14 746.33,2327.67 746.67,2323.29 747.00,2318.10 747.33,2312.37 747.67,2306.54 748.00,2301.18 748.33,2296.89 748.67,2294.19 749.00,2293.43 749.33,2294.68 749.67,2297.72 750.00,2302.08 750.33,2307.10 750.67,2312.04 751.00,2316.19 751.33,2318.96 751.67,2319.93 752.00,2318.87 752.33,2315.81 752.67,2310.98 753.00,2304.88 753.33,2298.19 753.67,2291.75 754.00,2286.41 754.33,2282.93 754.67,2281.82 755.00,2283.27 755.33,2287.10 755.67,2292.82 756.00,2299.74 756.33,2307.10 756.67,2314.21 757.00,2320.56 757.33,2325.84 757.67,2329.98 758.00,2333.02 758.33,2335.14 758.67,2336.53 759.00,2337.40 759.33,2337.91 759.67,2338.19 760.00,2338.33 760.33,2338.39 760.67,2338.38 761.00,2338.29 761.33,2338.11 761.67,2337.78 762.00,2337.19 762.33,2336.25 762.67,2334.79 763.00,2332.66 763.33,2329.72 763.67,2325.91 764.00,2321.26 764.33,2315.95 764.67,2310.35 765.00,2304.93 765.33,2300.29 765.67,2296.96 766.00,2295.36 766.33,2295.70 766.67,2297.88 767.00,2301.55 767.33,2306.15 767.67,2310.97 768.00,2315.32 768.33,2318.55 768.67,2320.17 769.00,2319.88 769.33,2317.58 769.67,2313.40 770.00,2307.72 770.33,2301.14 770.67,2294.43 771.00,2288.46 771.33,2284.04 771.67,2281.81 772.00,2282.11 772.33,2284.92 772.67,2289.89 773.00,2296.38 773.33,2303.66 773.67,2310.98 774.00,2317.74 774.33,2323.55 774.67,2328.22 775.00,2331.75 775.33,2334.27 775.67,2335.97 776.00,2337.05 776.33,2337.71 776.67,2338.08 777.00,2338.28 777.33,2338.37 777.67,2338.38 778.00,2338.33 778.33,2338.19 778.67,2337.91 779.00,2337.41 779.33,2336.57 779.67,2335.26 780.00,2333.30 780.33,2330.52 780.67,2326.81 781.00,2322.16 781.33,2316.68 781.67,2310.68 782.00,2304.64 782.33,2299.15 782.67,2294.82 783.00,2292.21 783.33,2291.63 783.67,2293.14 784.00,2296.49 784.33,2301.17 784.67,2306.49 785.00,2311.70 785.33,2316.09 785.67,2319.08 786.00,2320.28 786.33,2319.51 786.67,2316.79 787.00,2312.41 787.33,2306.84 787.67,2300.76 788.00,2294.95 788.33,2290.22 788.67,2287.23 789.00,2286.45 789.33,2288.02 789.67,2291.74 790.00,2297.14 790.33,2303.56 790.67,2310.32 791.00,2316.80 791.33,2322.55 791.67,2327.30 792.00,2330.99 792.33,2333.70 792.67,2335.56 793.00,2336.79 793.33,2337.54 793.67,2337.99 794.00,2338.23 794.33,2338.36 794.67,2338.40 795.00,2338.38 795.33,2338.29 795.67,2338.11 796.00,2337.77 796.33,2337.19 796.67,2336.25 797.00,2334.81 797.33,2332.72 797.67,2329.85 798.00,2326.15 798.33,2321.67 798.67,2316.59 799.00,2311.27 799.33,2306.19 799.67,2301.88 800.00,2298.88 800.33,2297.54 800.67,2298.05 801.00,2300.28 801.33,2303.89 801.67,2308.31 802.00,2312.89 802.33,2316.97 802.67,2319.96 803.00,2321.41 803.33,2321.06 803.67,2318.85 804.00,2314.91 804.33,2309.62 804.67,2303.56 805.00,2297.45 805.33,2292.09 805.67,2288.21 806.00,2286.39 806.33,2286.90 806.67,2289.70 807.00,2294.43 807.33,2300.49 807.67,2307.20 808.00,2313.89 808.33,2320.03 808.67,2325.26 809.00,2329.44 809.33,2332.58 809.67,2334.81 810.00,2336.30 810.33,2337.25 810.67,2337.82 811.00,2338.14 811.33,2338.31 811.67,2338.39 812.00,2338.39 812.33,2338.34 812.67,2338.20 813.00,2337.94 813.33,2337.47 813.67,2336.70 814.00,2335.49 814.33,2333.69 814.67,2331.15 815.00,2327.79 815.33,2323.59 815.67,2318.69 816.00,2313.36 816.33,2308.04 816.67,2303.26 817.00,2299.57 817.33,2297.42 817.67,2297.09 818.00,2298.59 818.33,2301.67 818.67,2305.84 819.00,2310.48 819.33,2314.90 819.67,2318.45 820.00,2320.61 820.33,2321.03 820.67,2319.53 821.00,2316.17 821.33,2311.22 821.67,2305.19 822.00,2298.77 822.33,2292.75 822.67,2287.95 823.00,2285.04 823.33,2284.47 823.67,2286.33 824.00,2290.40 824.33,2296.14 824.67,2302.89 825.00,2309.91 825.33,2316.59 825.67,2322.46 826.00,2327.29 826.33,2331.02 826.67,2333.74 827.00,2335.60 827.33,2336.82 827.67,2337.57 828.00,2338.00 828.33,2338.24 828.67,2338.36 829.00,2338.39 829.33,2338.37 829.67,2338.27 830.00,2338.06 830.33,2337.69 830.67,2337.04 831.00,2336.01 831.33,2334.44 831.67,2332.17 832.00,2329.07 832.33,2325.10 832.67,2320.32 833.00,2314.95 833.33,2309.36 833.67,2304.08 834.00,2299.68 834.33,2296.68 834.67,2295.47 835.00,2296.19 835.33,2298.71 835.67,2302.61 836.00,2307.31 836.33,2312.11 836.67,2316.32 837.00,2319.35 837.33,2320.75 837.67,2320.25 838.00,2317.81 838.33,2313.61 838.67,2308.07 839.00,2301.78 839.33,2295.52 839.67,2290.11 840.00,2286.30 840.33,2284.66 840.67,2285.43 841.00,2288.54 841.33,2293.59 841.67,2299.95 842.00,2306.90 842.33,2313.77 842.67,2320.02 843.00,2325.32 843.33,2329.52 843.67,2332.66 844.00,2334.87 844.33,2336.35 844.67,2337.28 845.00,2337.84 845.33,2338.15 845.67,2338.32 846.00,2338.39 846.33,2338.39 846.67,2338.33 847.00,2338.19 847.33,2337.92 847.67,2337.44 848.00,2336.65 848.33,2335.41 848.67,2333.59 849.00,2331.03 849.33,2327.67 849.67,2323.49 850.00,2318.64 850.33,2313.42 850.67,2308.25 851.00,2303.67 851.33,2300.19 851.67,2298.27 852.00,2298.13 852.33,2299.77 852.67,2302.91 853.00,2307.07 853.33,2311.62 853.67,2315.90 854.00,2319.30 854.33,2321.31 854.67,2321.62 855.00,2320.07 855.33,2316.76 855.67,2311.96 856.00,2306.18 856.33,2300.08 856.67,2294.45 857.00,2290.03 857.33,2287.48 857.67,2287.17 858.00,2289.17 858.33,2293.22 858.67,2298.81 859.00,2305.29 859.33,2311.96 859.67,2318.25 860.00,2323.75 860.33,2328.24 860.67,2331.69 861.00,2334.18 861.33,2335.88 861.67,2336.99 862.00,2337.66 862.33,2338.06 862.67,2338.27 863.00,2338.37 863.33,2338.40 863.67,2338.36 864.00,2338.25 864.33,2338.03 864.67,2337.63 865.00,2336.95 865.33,2335.85 865.67,2334.20 866.00,2331.83 866.33,2328.62 866.67,2324.52 867.00,2319.61 867.33,2314.14 867.67,2308.51 868.00,2303.23 868.33,2298.90 868.67,2296.05 869.00,2295.02 869.33,2295.94 869.67,2298.65 870.00,2302.71 870.33,2307.52 870.67,2312.38 871.00,2316.59 871.33,2319.58 871.67,2320.92 872.00,2320.38 872.33,2317.93 872.67,2313.78 873.00,2308.34 873.33,2302.24 873.67,2296.24 874.00,2291.12 874.33,2287.62 874.67,2286.26 875.00,2287.25 875.33,2290.47 875.67,2295.52 876.00,2301.78 876.33,2308.54 876.67,2315.16 877.00,2321.14 877.33,2326.17 877.67,2330.14 878.00,2333.09 878.33,2335.15 878.67,2336.52 879.00,2337.39 879.33,2337.90 879.67,2338.19 880.00,2338.33 880.33,2338.39 880.67,2338.38 881.00,2338.31 881.33,2338.15 881.67,2337.83 882.00,2337.29 882.33,2336.40 882.67,2335.01 883.00,2332.97 883.33,2330.13 883.67,2326.41 884.00,2321.83 884.33,2316.55 884.67,2310.90 885.00,2305.37 885.33,2300.52 885.67,2296.93 886.00,2295.04 886.33,2295.09 886.67,2297.04 887.00,2300.58 887.33,2305.16 887.67,2310.11 888.00,2314.72 888.33,2318.35 888.67,2320.50 889.00,2320.84 889.33,2319.26 889.67,2315.86 890.00,2310.95 890.33,2305.08 890.67,2298.95 891.00,2293.35 891.33,2289.05 891.67,2286.69 892.00,2286.61 892.33,2288.86 892.67,2293.15 893.00,2298.93 893.33,2305.54 893.67,2312.29 894.00,2318.59 894.33,2324.06 894.67,2328.51 895.00,2331.89 895.33,2334.33 895.67,2335.99 896.00,2337.05 896.33,2337.70 896.67,2338.08 897.00,2338.28 897.33,2338.37 897.67,2338.39 898.00,2338.35 898.33,2338.22 898.67,2337.97 899.00,2337.53 899.33,2336.77 899.67,2335.58 900.00,2333.77 900.33,2331.20 900.67,2327.73 901.00,2323.34 901.33,2318.12 901.67,2312.33 902.00,2306.43 902.33,2300.96 902.67,2296.55 903.00,2293.73 903.33,2292.85 903.67,2294.03 904.00,2297.04 904.33,2301.44 904.67,2306.55 905.00,2311.66 905.33,2316.07 905.67,2319.17 906.00,2320.55 906.33,2320.01 906.67,2317.54 907.00,2313.37 907.33,2307.95 907.67,2301.92 908.00,2296.05 908.33,2291.13 908.67,2287.86 909.00,2286.74 909.33,2287.95 909.67,2291.35 910.00,2296.50 910.33,2302.78 910.67,2309.49 911.00,2316.01 911.33,2321.85 911.67,2326.73 912.00,2330.55 912.33,2333.38 912.67,2335.35 913.00,2336.65 913.33,2337.46 913.67,2337.94 914.00,2338.21 914.33,2338.34 914.67,2338.39 915.00,2338.38 915.33,2338.30 915.67,2338.12 916.00,2337.78 916.33,2337.20 916.67,2336.25 917.00,2334.79 917.33,2332.65 917.67,2329.68 918.00,2325.83 918.33,2321.10 918.67,2315.70 919.00,2309.96 919.33,2304.40 919.67,2299.59 920.00,2296.10 920.33,2294.37 920.67,2294.62 921.00,2296.77 921.33,2300.47 921.67,2305.16 922.00,2310.13 922.33,2314.66 922.67,2318.11 923.00,2319.96 923.33,2319.90 923.67,2317.82 924.00,2313.84 924.33,2308.34 924.67,2301.90 925.00,2295.28 925.33,2289.34 925.67,2284.88 926.00,2282.56 926.33,2282.73 926.67,2285.39 927.00,2290.20 927.33,2296.56 927.67,2303.73 928.00,2310.97 928.33,2317.69 928.67,2323.48 929.00,2328.15 929.33,2331.69 929.67,2334.22 930.00,2335.93 930.33,2337.03 930.67,2337.69 931.00,2338.08 931.33,2338.28 931.67,2338.37 932.00,2338.39 932.33,2338.35 932.67,2338.22 933.00,2337.98 933.33,2337.54 933.67,2336.81 934.00,2335.65 934.33,2333.91 934.67,2331.44 935.00,2328.14 935.33,2323.98 935.67,2319.07 936.00,2313.67 936.33,2308.20 936.67,2303.20 937.00,2299.24 937.33,2296.78 937.67,2296.16 938.00,2297.42 938.33,2300.34 938.67,2304.46 939.00,2309.15 939.33,2313.71 939.67,2317.46 940.00,2319.85 940.33,2320.46 940.67,2319.10 941.00,2315.77 941.33,2310.75 941.67,2304.51 942.00,2297.75 942.33,2291.29 942.67,2285.99 943.00,2282.60 943.33,2281.61 943.67,2283.19 944.00,2287.14 944.33,2292.97 944.67,2299.95 945.00,2307.34 945.33,2314.45 945.67,2320.78 946.00,2326.03 946.33,2330.12 946.67,2333.13 947.00,2335.21 947.33,2336.57 947.67,2337.42 948.00,2337.92 948.33,2338.20 948.67,2338.34 949.00,2338.39 949.33,2338.37 949.67,2338.29 950.00,2338.10 950.33,2337.75 950.67,2337.15 951.00,2336.18 951.33,2334.68 951.67,2332.51 952.00,2329.52 952.33,2325.64 952.67,2320.93 953.00,2315.58 953.33,2309.95 953.67,2304.54 954.00,2299.93 954.33,2296.67 954.67,2295.17 955.00,2295.60 955.33,2297.88 955.67,2301.64 956.00,2306.29 956.33,2311.15 956.67,2315.51 957.00,2318.74 957.33,2320.37 957.67,2320.09 958.00,2317.83 958.33,2313.74 958.67,2308.19 959.00,2301.79 959.33,2295.29 959.67,2289.55 960.00,2285.34 960.33,2283.29 960.67,2283.71 961.00,2286.56 961.33,2291.48 961.67,2297.86 962.00,2304.96 962.33,2312.07 962.67,2318.61 963.00,2324.21 963.33,2328.70 963.67,2332.08 964.00,2334.49 964.33,2336.10 964.67,2337.13 965.00,2337.75 965.33,2338.11 965.67,2338.29 966.00,2338.38 966.33,2338.39 966.67,2338.34 967.00,2338.20 967.33,2337.92 967.67,2337.45 968.00,2336.65 968.33,2335.39 968.67,2333.51 969.00,2330.87 969.33,2327.35 969.67,2322.95 970.00,2317.78 970.33,2312.15 970.67,2306.50 971.00,2301.39 971.33,2297.41 971.67,2295.05 972.00,2294.61 972.33,2296.11 972.67,2299.33 973.00,2303.75 973.33,2308.73 973.67,2313.56 974.00,2317.57 974.33,2320.24 974.67,2321.18 975.00,2320.24 975.33,2317.47 975.67,2313.11 976.00,2307.66 976.33,2301.76 976.67,2296.17 977.00,2291.66 977.33,2288.87 977.67,2288.23 978.00,2289.85 978.33,2293.54 978.67,2298.82 979.00,2305.06 979.33,2311.60 979.67,2317.83 980.00,2323.34 980.33,2327.88 980.67,2331.40 981.00,2333.97 981.33,2335.74 981.67,2336.89 982.00,2337.60 982.33,2338.02 982.67,2338.25 983.00,2338.36 983.33,2338.39 983.67,2338.37 984.00,2338.26 984.33,2338.05 984.67,2337.65 985.00,2336.98 985.33,2335.90 985.67,2334.24 986.00,2331.85 986.33,2328.57 986.67,2324.36 987.00,2319.27 987.33,2313.52 987.67,2307.53 988.00,2301.83 988.33,2297.05 988.67,2293.75 989.00,2292.35 989.33,2293.03 989.67,2295.64 990.00,2299.79 990.33,2304.83 990.67,2310.05 991.00,2314.71 991.33,2318.16 991.67,2319.94 992.00,2319.77 992.33,2317.59 992.67,2313.58 993.00,2308.15 993.33,2301.92 993.67,2295.65 994.00,2290.17 994.33,2286.27 994.67,2284.50 995.00,2285.16 995.33,2288.17 995.67,2293.15 996.00,2299.48 996.33,2306.44 996.67,2313.35 997.00,2319.67 997.33,2325.03 997.67,2329.30 998.00,2332.50 998.33,2334.77 998.67,2336.28 999.00,2337.24 999.33,2337.82 999.67,2338.14 1000.00,2338.31 1000.33,2338.38 1000.67,2338.39 1001.00,2338.33 1001.33,2338.19 1001.67,2337.91 1002.00,2337.42 1002.33,2336.61 1002.67,2335.34 1003.00,2333.45 1003.33,2330.81 1003.67,2327.32 1004.00,2322.97 1004.33,2317.91 1004.67,2312.44 1005.00,2307.00 1005.33,2302.13 1005.67,2298.42 1006.00,2296.30 1006.33,2296.06 1006.67,2297.69 1007.00,2300.92 1007.33,2305.25 1007.67,2310.01 1008.00,2314.53 1008.33,2318.13 1008.67,2320.29 1009.00,2320.65 1009.33,2319.06 1009.67,2315.58 1010.00,2310.51 1010.33,2304.36 1010.67,2297.85 1011.00,2291.79 1011.33,2287.00 1011.67,2284.17 1012.00,2283.71 1012.33,2285.72 1012.67,2289.94 1013.00,2295.84 1013.33,2302.72 1013.67,2309.84 1014.00,2316.59 1014.33,2322.50 1014.67,2327.34 1015.00,2331.07 1015.33,2333.78 1015.67,2335.64 1016.00,2336.84 1016.33,2337.58 1016.67,2338.01 1017.00,2338.25 1017.33,2338.36 1017.67,2338.39 1018.00,2338.36 1018.33,2338.25 1018.67,2338.03 1019.00,2337.63 1019.33,2336.95 1019.67,2335.85 1020.00,2334.18 1020.33,2331.78 1020.67,2328.52 1021.00,2324.36 1021.33,2319.35 1021.67,2313.75 1022.00,2307.95 1022.33,2302.50 1022.67,2297.98 1023.00,2294.96 1023.33,2293.80 1023.67,2294.65 1024.00,2297.35 1024.33,2301.48 1024.67,2306.41 1025.00,2311.42 1025.33,2315.81 1025.67,2318.98 1026.00,2320.47 1026.33,2320.05 1026.67,2317.67 1027.00,2313.53 1027.33,2308.05 1027.67,2301.86 1028.00,2295.72 1028.33,2290.44 1028.67,2286.78 1029.00,2285.28 1029.33,2286.16 1029.67,2289.34 1030.00,2294.41 1030.33,2300.74 1030.67,2307.62 1031.00,2314.39 1031.33,2320.53 1031.67,2325.71 1032.00,2329.80 1032.33,2332.86 1032.67,2335.00 1033.00,2336.43 1033.33,2337.33 1033.67,2337.87 1034.00,2338.17 1034.33,2338.32 1034.67,2338.39 1035.00,2338.38 1035.33,2338.30 1035.67,2338.13 1036.00,2337.79 1036.33,2337.22 1036.67,2336.27 1037.00,2334.78 1037.33,2332.60 1037.67,2329.55 1038.00,2325.55 1038.33,2320.60 1038.67,2314.87 1039.00,2308.72 1039.33,2302.67 1039.67,2297.33 1040.00,2293.34 1040.33,2291.18 1040.67,2291.13 1041.00,2293.16 1041.33,2296.96 1041.67,2301.93 1042.00,2307.37 1042.33,2312.50 1042.67,2316.63 1043.00,2319.22 1043.33,2319.91 1043.67,2318.58 1044.00,2315.31 1044.33,2310.45 1044.67,2304.53 1045.00,2298.29 1045.33,2292.53 1045.67,2288.06 1046.00,2285.54 1046.33,2285.34 1046.67,2287.53 1047.00,2291.82 1047.33,2297.69 1047.67,2304.42 1048.00,2311.33 1048.33,2317.82 1048.67,2323.47 1049.00,2328.07 1049.33,2331.59 1049.67,2334.13 1050.00,2335.86 1050.33,2336.98 1050.67,2337.66 1051.00,2338.05 1051.33,2338.27 1051.67,2338.37 1052.00,2338.40 1052.33,2338.37 1052.67,2338.26 1053.00,2338.05 1053.33,2337.66 1053.67,2337.01 1054.00,2335.97 1054.33,2334.40 1054.67,2332.15 1055.00,2329.11 1055.33,2325.25 1055.67,2320.64 1056.00,2315.53 1056.33,2310.27 1056.67,2305.39 1057.00,2301.41 1057.33,2298.82 1057.67,2297.95 1058.00,2298.89 1058.33,2301.47 1058.67,2305.28 1059.00,2309.72 1059.33,2314.14 1059.67,2317.87 1060.00,2320.36 1060.33,2321.19 1060.67,2320.14 1061.00,2317.18 1061.33,2312.54 1061.67,2306.64 1062.00,2300.13 1062.33,2293.80 1062.67,2288.46 1063.00,2284.87 1063.33,2283.54 1063.67,2284.70 1064.00,2288.20 1064.33,2293.59 1064.67,2300.22 1065.00,2307.34 1065.33,2314.28 1065.67,2320.53 1066.00,2325.77 1066.33,2329.89 1066.67,2332.94 1067.00,2335.07 1067.33,2336.48 1067.67,2337.36 1068.00,2337.89 1068.33,2338.18 1068.67,2338.33 1069.00,2338.38 1069.33,2338.37 1069.67,2338.29 1070.00,2338.10 1070.33,2337.74 1070.67,2337.13 1071.00,2336.13 1071.33,2334.57 1071.67,2332.29 1072.00,2329.12 1072.33,2324.99 1072.67,2319.90 1073.00,2314.07 1073.33,2307.86 1073.67,2301.80 1074.00,2296.53 1074.33,2292.66 1074.67,2290.69 1075.00,2290.85 1075.33,2293.10 1075.67,2297.06 1076.00,2302.15 1076.33,2307.60 1076.67,2312.66 1077.00,2316.63 1077.33,2318.97 1077.67,2319.34 1078.00,2317.63 1078.33,2313.94 1078.67,2308.66 1079.00,2302.37 1079.33,2295.83 1079.67,2289.90 1080.00,2285.40 1080.33,2282.99 1080.67,2283.03 1081.00,2285.56 1081.33,2290.24 1081.67,2296.50 1082.00,2303.59 1082.33,2310.80 1082.67,2317.51 1083.00,2323.32 1083.33,2328.01 1083.67,2331.58 1084.00,2334.14 1084.33,2335.88 1084.67,2337.00 1085.00,2337.68 1085.33,2338.07 1085.67,2338.28 1086.00,2338.40 1086.33,2338.45 1086.67,2338.48 1087.00,2338.49 1087.33,2338.50 1087.67,2338.50 1088.00,2338.50 1088.33,2338.50 1088.67,2338.50 1089.00,2338.50 1089.33,2338.50 1089.67,2338.50 1090.00,2338.50 1090.33,2338.50 1090.67,2338.50 1091.00,2338.50 1091.33,2338.50 1091.67,2338.50 1092.00,2338.50" fill="none" stroke="#D9928F" stroke-width="1.15" stroke-linejoin="round"/>
<polyline points="553.00,2338.49 553.33,2338.49 553.67,2338.49 554.00,2338.49 554.33,2338.48 554.67,2338.47 555.00,2338.46 555.33,2338.45 555.67,2338.43 556.00,2338.41 556.33,2338.38 556.67,2338.34 557.00,2338.30 557.33,2338.23 557.67,2338.16 558.00,2338.06 558.33,2337.94 558.67,2337.79 559.00,2337.61 559.33,2337.38 559.67,2337.11 560.00,2336.78 560.33,2336.39 560.67,2335.93 561.00,2335.39 561.33,2334.75 561.67,2334.01 562.00,2333.16 562.33,2332.20 562.67,2331.10 563.00,2329.86 563.33,2328.48 563.67,2326.96 564.00,2325.28 564.33,2323.46 564.67,2321.50 565.00,2319.40 565.33,2317.17 565.67,2314.83 566.00,2312.41 566.33,2309.91 566.67,2307.37 567.00,2304.82 567.33,2302.29 567.67,2299.82 568.00,2297.43 568.33,2295.17 568.67,2293.08 569.00,2291.18 569.33,2289.51 569.67,2288.10 570.00,2286.98 570.33,2286.16 570.67,2285.67 571.00,2285.50 571.33,2285.67 571.67,2286.16 572.00,2286.98 572.33,2288.10 572.67,2289.51 573.00,2291.18 573.33,2293.08 573.67,2295.17 574.00,2297.42 574.33,2299.81 574.67,2302.28 575.00,2304.80 575.33,2307.34 575.67,2309.86 576.00,2312.33 576.33,2314.73 576.67,2317.02 577.00,2319.20 577.33,2321.23 577.67,2323.10 578.00,2324.80 578.33,2326.31 578.67,2327.64 579.00,2328.76 579.33,2329.68 579.67,2330.39 580.00,2330.88 580.33,2331.15 580.67,2331.18 581.00,2330.98 581.33,2330.55 581.67,2329.86 582.00,2328.93 582.33,2327.75 582.67,2326.32 583.00,2324.64 583.33,2322.72 583.67,2320.58 584.00,2318.24 584.33,2315.71 584.67,2313.04 585.00,2310.25 585.33,2307.39 585.67,2304.51 586.00,2301.66 586.33,2298.91 586.67,2296.30 587.00,2293.90 587.33,2291.76 587.67,2289.93 588.00,2288.45 588.33,2287.37 588.67,2286.71 589.00,2286.49 589.33,2286.72 589.67,2287.38 590.00,2288.47 590.33,2289.95 590.67,2291.78 591.00,2293.94 591.33,2296.35 591.67,2298.98 592.00,2301.75 592.33,2304.63 592.67,2307.54 593.00,2310.45 593.33,2313.30 593.67,2316.05 594.00,2318.67 594.33,2321.14 594.67,2323.42 595.00,2325.52 595.33,2327.41 595.67,2329.10 596.00,2330.58 596.33,2331.87 596.67,2332.97 597.00,2333.89 597.33,2334.63 597.67,2335.21 598.00,2335.62 598.33,2335.86 598.67,2335.95 599.00,2335.86 599.33,2335.59 599.67,2335.13 600.00,2334.46 600.33,2333.56 600.67,2332.41 601.00,2330.99 601.33,2329.28 601.67,2327.27 602.00,2324.96 602.33,2322.34 602.67,2319.44 603.00,2316.27 603.33,2312.89 603.67,2309.36 604.00,2305.74 604.33,2302.12 604.67,2298.59 605.00,2295.26 605.33,2292.22 605.67,2289.58 606.00,2287.42 606.33,2285.82 606.67,2284.83 607.00,2284.50 607.33,2284.83 607.67,2285.82 608.00,2287.42 608.33,2289.58 608.67,2292.22 609.00,2295.26 609.33,2298.59 609.67,2302.12 610.00,2305.75 610.33,2309.37 610.67,2312.91 611.00,2316.30 611.33,2319.47 611.67,2322.40 612.00,2325.03 612.33,2327.38 612.67,2329.43 613.00,2331.19 613.33,2332.68 613.67,2333.92 614.00,2334.94 614.33,2335.76 614.67,2336.41 615.00,2336.91 615.33,2337.28 615.67,2337.54 616.00,2337.70 616.33,2337.75 616.67,2337.70 617.00,2337.54 617.33,2337.24 617.67,2336.77 618.00,2336.11 618.33,2335.19 618.67,2333.99 619.00,2332.43 619.33,2330.49 619.67,2328.11 620.00,2325.28 620.33,2322.00 620.67,2318.30 621.00,2314.23 621.33,2309.91 621.67,2305.46 622.00,2301.05 622.33,2296.86 622.67,2293.08 623.00,2289.91 623.33,2287.51 623.67,2286.01 624.00,2285.50 624.33,2286.01 624.67,2287.51 625.00,2289.91 625.33,2293.08 625.67,2296.86 626.00,2301.05 626.33,2305.46 626.67,2309.91 627.00,2314.23 627.33,2318.30 627.67,2322.00 628.00,2325.28 628.33,2328.12 628.67,2330.50 629.00,2332.45 629.33,2334.01 629.67,2335.24 630.00,2336.17 630.33,2336.87 630.67,2337.38 631.00,2337.75 631.33,2338.00 631.67,2338.18 632.00,2338.29 632.33,2338.37 632.67,2338.42 633.00,2338.45 633.33,2338.46 633.67,2338.45 634.00,2338.43 634.33,2338.38 634.67,2338.30 635.00,2338.14 635.33,2337.89 635.67,2337.49 636.00,2336.87 636.33,2335.95 636.67,2334.64 637.00,2332.83 637.33,2330.42 637.67,2327.34 638.00,2323.55 638.33,2319.08 638.67,2314.04 639.00,2308.62 639.33,2303.11 639.67,2297.85 640.00,2293.23 640.33,2289.60 640.67,2287.29 641.00,2286.50 641.33,2287.29 641.67,2289.60 642.00,2293.23 642.33,2297.85 642.67,2303.11 643.00,2308.62 643.33,2314.04 643.67,2319.08 644.00,2323.55 644.33,2327.34 644.67,2330.42 645.00,2332.83 645.33,2334.64 645.67,2335.95 646.00,2336.87 646.33,2337.49 646.67,2337.89 647.00,2338.14 647.33,2338.30 647.67,2338.39 648.00,2338.44 648.33,2338.47 648.67,2338.48 649.00,2338.49 649.33,2338.50 649.67,2338.50 650.00,2338.50 650.33,2338.50 650.67,2338.50 651.00,2338.50 651.33,2338.50 651.67,2338.50 652.00,2338.50 652.33,2338.50 652.67,2338.50 653.00,2338.50 653.33,2338.50 653.67,2338.50 654.00,2338.50 654.33,2338.50 654.67,2338.50 655.00,2338.50 655.33,2338.50 655.67,2338.50 656.00,2338.50 656.33,2338.50 656.67,2338.50 657.00,2338.50 657.33,2338.50 657.67,2338.50 658.00,2338.50 658.33,2338.50 658.67,2338.50 659.00,2338.50 659.33,2338.50 659.67,2338.50 660.00,2338.50 660.33,2338.50 660.67,2338.50 661.00,2338.50 661.33,2338.50 661.67,2338.50 662.00,2338.50 662.33,2338.50 662.67,2338.50 663.00,2338.50 663.33,2338.50 663.67,2338.50 664.00,2338.50 664.33,2338.50 664.67,2338.50 665.00,2338.50 665.33,2338.50 665.67,2338.50 666.00,2338.50 666.33,2338.50 666.67,2338.50 667.00,2338.50 667.33,2338.50 667.67,2338.50 668.00,2338.50 668.33,2338.50 668.67,2338.50 669.00,2338.50 669.33,2338.50 669.67,2338.49 670.00,2338.47 670.33,2338.42 670.67,2338.28 671.00,2337.95 671.33,2337.22 671.67,2335.78 672.00,2333.17 672.33,2328.90 672.67,2322.61 673.00,2314.32 673.33,2304.66 673.67,2294.95 674.00,2286.99 674.33,2282.47 674.67,2282.47 675.00,2286.99 675.33,2294.95 675.67,2304.66 676.00,2314.32 676.33,2322.61 676.67,2328.90 677.00,2333.17 677.33,2335.78 677.67,2337.22 678.00,2337.95 678.33,2338.28 678.67,2338.42 679.00,2338.47 679.33,2338.49 679.67,2338.50 680.00,2338.50 680.33,2338.50 680.67,2338.50 681.00,2338.50 681.33,2338.50 681.67,2338.50 682.00,2338.50 682.33,2338.50 682.67,2338.50 683.00,2338.50 683.33,2338.50 683.67,2338.50 684.00,2338.50 684.33,2338.50 684.67,2338.50 685.00,2338.50 685.33,2338.50 685.67,2338.50 686.00,2338.50 686.33,2338.50 686.67,2338.50 687.00,2338.48 687.33,2338.45 687.67,2338.36 688.00,2338.14 688.33,2337.63 688.67,2336.59 689.00,2334.61 689.33,2331.22 689.67,2325.99 690.00,2318.72 690.33,2309.75 690.67,2300.09 691.00,2291.31 691.33,2285.20 691.67,2283.14 692.00,2285.64 692.33,2292.10 692.67,2301.05 693.00,2310.70 693.33,2319.54 693.67,2326.60 694.00,2331.64 694.33,2334.86 694.67,2336.73 695.00,2337.70 695.33,2338.17 695.67,2338.38 696.00,2338.46 696.33,2338.49 696.67,2338.50 697.00,2338.50 697.33,2338.50 697.67,2338.50 698.00,2338.50 698.33,2338.50 698.67,2338.50 699.00,2338.50 699.33,2338.50 699.67,2338.50 700.00,2338.50 700.33,2338.50 700.67,2338.50 701.00,2338.50 701.33,2338.50 701.67,2338.50 702.00,2338.50 702.33,2338.50 702.67,2338.50 703.00,2338.50 703.33,2338.50 703.67,2338.50 704.00,2338.49 704.33,2338.47 704.67,2338.41 705.00,2338.26 705.33,2337.91 705.67,2337.15 706.00,2335.65 706.33,2332.96 706.67,2328.61 707.00,2322.26 707.33,2313.98 707.67,2304.48 708.00,2295.09 708.33,2287.58 708.67,2283.58 709.00,2284.04 709.33,2288.85 709.67,2296.88 710.00,2306.42 710.33,2315.77 710.67,2323.69 711.00,2329.63 711.33,2333.61 711.67,2336.03 712.00,2337.35 712.33,2338.01 712.67,2338.31 713.00,2338.43 713.33,2338.48 713.67,2338.49 714.00,2338.50 714.33,2338.50 714.67,2338.50 715.00,2338.50 715.33,2338.50 715.67,2338.50 716.00,2338.50 716.33,2338.50 716.67,2338.50 717.00,2338.50 717.33,2338.50 717.67,2338.50 718.00,2338.50 718.33,2338.50 718.67,2338.50 719.00,2338.50 719.33,2338.50 719.67,2338.50 720.00,2338.50 720.33,2338.50 720.67,2338.50 721.00,2338.49 721.33,2338.48 721.67,2338.44 722.00,2338.34 722.33,2338.09 722.67,2337.53 723.00,2336.37 723.33,2334.21 723.67,2330.54 724.00,2324.92 724.33,2317.22 724.67,2307.83 725.00,2297.86 725.33,2288.99 725.67,2283.04 726.00,2281.39 726.33,2284.42 726.67,2291.42 727.00,2300.82 727.33,2310.77 727.67,2319.74 728.00,2326.83 728.33,2331.82 728.67,2334.99 729.00,2336.80 729.33,2337.75 729.67,2338.19 730.00,2338.38 730.33,2338.46 730.67,2338.49 731.00,2338.50 731.33,2338.50 731.67,2338.50 732.00,2338.50 732.33,2338.50 732.67,2338.50 733.00,2338.50 733.33,2338.50 733.67,2338.50 734.00,2338.50 734.33,2338.50 734.67,2338.50 735.00,2338.50 735.33,2338.50 735.67,2338.50 736.00,2338.50 736.33,2338.50 736.67,2338.50 737.00,2338.50 737.33,2338.50 737.67,2338.50 738.00,2338.50 738.33,2338.49 738.67,2338.47 739.00,2338.40 739.33,2338.23 739.67,2337.84 740.00,2336.99 740.33,2335.34 740.67,2332.41 741.00,2327.72 741.33,2320.95 741.67,2312.23 742.00,2302.35 742.33,2292.76 742.67,2285.29 743.00,2281.59 743.33,2282.54 743.67,2287.91 744.00,2296.45 744.33,2306.36 744.67,2315.92 745.00,2323.91 745.33,2329.83 745.67,2333.77 746.00,2336.12 746.33,2337.40 746.67,2338.03 747.00,2338.32 747.33,2338.43 747.67,2338.48 748.00,2338.49 748.33,2338.50 748.67,2338.50 749.00,2338.50 749.33,2338.50 749.67,2338.50 750.00,2338.50 750.33,2338.50 750.67,2338.50 751.00,2338.50 751.33,2338.50 751.67,2338.50 752.00,2338.50 752.33,2338.50 752.67,2338.50 753.00,2338.50 753.33,2338.50 753.67,2338.50 754.00,2338.50 754.33,2338.50 754.67,2338.50 755.00,2338.50 755.33,2338.49 755.67,2338.48 756.00,2338.44 756.33,2338.33 756.67,2338.06 757.00,2337.47 757.33,2336.25 757.67,2334.00 758.00,2330.22 758.33,2324.51 758.67,2316.75 759.00,2307.42 759.33,2297.66 759.67,2289.16 760.00,2283.69 760.33,2282.53 760.67,2285.95 761.00,2293.13 761.33,2302.49 761.67,2312.22 762.00,2320.87 762.33,2327.62 762.67,2332.33 763.00,2335.28 763.33,2336.96 763.67,2337.82 764.00,2338.22 764.33,2338.40 764.67,2338.46 765.00,2338.49 765.33,2338.50 765.67,2338.50 766.00,2338.50 766.33,2338.50 766.67,2338.50 767.00,2338.50 767.33,2338.50 767.67,2338.50 768.00,2338.50 768.33,2338.50 768.67,2338.50 769.00,2338.50 769.33,2338.50 769.67,2338.50 770.00,2338.50 770.33,2338.50 770.67,2338.50 771.00,2338.50 771.33,2338.50 771.67,2338.50 772.00,2338.50 772.33,2338.50 772.67,2338.49 773.00,2338.46 773.33,2338.39 773.67,2338.20 774.00,2337.77 774.33,2336.85 774.67,2335.07 775.00,2331.94 775.33,2326.98 775.67,2319.91 776.00,2310.91 776.33,2300.85 776.67,2291.26 777.00,2284.01 777.33,2280.71 777.67,2282.15 778.00,2287.98 778.33,2296.86 778.67,2306.94 779.00,2316.51 779.33,2324.41 779.67,2330.20 780.00,2334.01 780.33,2336.26 780.67,2337.48 781.00,2338.07 781.33,2338.33 781.67,2338.44 782.00,2338.48 782.33,2338.49 782.67,2338.50 783.00,2338.50 783.33,2338.50 783.67,2338.50 784.00,2338.50 784.33,2338.50 784.67,2338.50 785.00,2338.50 785.33,2338.50 785.67,2338.50 786.00,2338.50 786.33,2338.50 786.67,2338.50 787.00,2338.50 787.33,2338.50 787.67,2338.50 788.00,2338.50 788.33,2338.50 788.67,2338.50 789.00,2338.50 789.33,2338.50 789.67,2338.49 790.00,2338.48 790.33,2338.43 790.67,2338.32 791.00,2338.03 791.33,2337.40 791.67,2336.12 792.00,2333.77 792.33,2329.88 792.67,2324.05 793.00,2316.23 793.33,2306.94 793.67,2297.38 794.00,2289.24 794.33,2284.24 794.67,2283.55 795.00,2287.34 795.33,2294.70 795.67,2304.03 796.00,2313.56 796.33,2321.90 796.67,2328.35 797.00,2332.79 797.33,2335.55 797.67,2337.10 798.00,2337.89 798.33,2338.25 798.67,2338.41 799.00,2338.47 799.33,2338.49 799.67,2338.50 800.00,2338.50 800.33,2338.50 800.67,2338.50 801.00,2338.50 801.33,2338.50 801.67,2338.50 802.00,2338.50 802.33,2338.50 802.67,2338.50 803.00,2338.50 803.33,2338.50 803.67,2338.50 804.00,2338.50 804.33,2338.50 804.67,2338.50 805.00,2338.50 805.33,2338.50 805.67,2338.50 806.00,2338.50 806.33,2338.50 806.67,2338.50 807.00,2338.49 807.33,2338.46 807.67,2338.38 808.00,2338.19 808.33,2337.73 808.67,2336.78 809.00,2334.96 809.33,2331.80 809.67,2326.83 810.00,2319.81 810.33,2311.00 810.67,2301.29 811.00,2292.20 811.33,2285.54 811.67,2282.80 812.00,2284.64 812.33,2290.62 812.67,2299.36 813.00,2309.09 813.33,2318.18 813.67,2325.59 814.00,2330.96 814.33,2334.45 814.67,2336.50 815.00,2337.59 815.33,2338.12 815.67,2338.35 816.00,2338.45 816.33,2338.48 816.67,2338.50 817.00,2338.50 817.33,2338.50 817.67,2338.50 818.00,2338.50 818.33,2338.50 818.67,2338.50 819.00,2338.50 819.33,2338.50 819.67,2338.50 820.00,2338.50 820.33,2338.50 820.67,2338.50 821.00,2338.50 821.33,2338.50 821.67,2338.50 822.00,2338.50 822.33,2338.50 822.67,2338.50 823.00,2338.50 823.33,2338.50 823.67,2338.50 824.00,2338.49 824.33,2338.47 824.67,2338.42 825.00,2338.28 825.33,2337.95 825.67,2337.22 826.00,2335.76 826.33,2333.11 826.67,2328.76 827.00,2322.30 827.33,2313.74 827.67,2303.70 828.00,2293.54 828.33,2285.09 828.67,2280.17 829.00,2279.92 829.33,2284.41 829.67,2292.59 830.00,2302.67 830.33,2312.79 830.67,2321.53 831.00,2328.21 831.33,2332.76 831.67,2335.56 832.00,2337.11 832.33,2337.90 832.67,2338.26 833.00,2338.41 833.33,2338.47 833.67,2338.49 834.00,2338.50 834.33,2338.50 834.67,2338.50 835.00,2338.50 835.33,2338.50 835.67,2338.50 836.00,2338.50 836.33,2338.50 836.67,2338.50 837.00,2338.50 837.33,2338.50 837.67,2338.50 838.00,2338.50 838.33,2338.50 838.67,2338.50 839.00,2338.50 839.33,2338.50 839.67,2338.50 840.00,2338.50 840.33,2338.50 840.67,2338.50 841.00,2338.50 841.33,2338.48 841.67,2338.45 842.00,2338.36 842.33,2338.14 842.67,2337.63 843.00,2336.56 843.33,2334.54 843.67,2331.07 844.00,2325.67 844.33,2318.14 844.67,2308.78 845.00,2298.63 845.33,2289.31 845.67,2282.70 846.00,2280.31 846.33,2282.70 846.67,2289.31 847.00,2298.63 847.33,2308.78 847.67,2318.14 848.00,2325.67 848.33,2331.07 848.67,2334.54 849.00,2336.56 849.33,2337.63 849.67,2338.14 850.00,2338.36 850.33,2338.45 850.67,2338.48 851.00,2338.50 851.33,2338.50 851.67,2338.50 852.00,2338.50 852.33,2338.50 852.67,2338.50 853.00,2338.50 853.33,2338.50 853.67,2338.50 854.00,2338.50 854.33,2338.50 854.67,2338.50 855.00,2338.50 855.33,2338.50 855.67,2338.50 856.00,2338.50 856.33,2338.50 856.67,2338.50 857.00,2338.50 857.33,2338.50 857.67,2338.50 858.00,2338.50 858.33,2338.49 858.67,2338.47 859.00,2338.42 859.33,2338.28 859.67,2337.94 860.00,2337.20 860.33,2335.74 860.67,2333.13 861.00,2328.87 861.33,2322.62 861.67,2314.43 862.00,2304.95 862.33,2295.51 862.67,2287.86 863.00,2283.65 863.33,2283.88 863.67,2288.50 864.00,2296.41 864.33,2305.92 864.67,2315.32 865.00,2323.33 865.33,2329.38 865.67,2333.45 866.00,2335.93 866.33,2337.30 866.67,2337.98 867.00,2338.30 867.33,2338.43 867.67,2338.48 868.00,2338.49 868.33,2338.50 868.67,2338.50 869.00,2338.50 869.33,2338.50 869.67,2338.50 870.00,2338.50 870.33,2338.50 870.67,2338.50 871.00,2338.50 871.33,2338.50 871.67,2338.50 872.00,2338.50 872.33,2338.50 872.67,2338.50 873.00,2338.50 873.33,2338.50 873.67,2338.50 874.00,2338.50 874.33,2338.50 874.67,2338.50 875.00,2338.50 875.33,2338.49 875.67,2338.48 876.00,2338.45 876.33,2338.35 876.67,2338.10 877.00,2337.55 877.33,2336.40 877.67,2334.26 878.00,2330.60 878.33,2324.97 878.67,2317.20 879.00,2307.67 879.33,2297.48 879.67,2288.32 880.00,2282.05 880.33,2280.12 880.67,2282.99 881.00,2289.97 881.33,2299.50 881.67,2309.68 882.00,2318.92 882.33,2326.27 882.67,2331.47 883.00,2334.79 883.33,2336.70 883.67,2337.70 884.00,2338.17 884.33,2338.38 884.67,2338.46 885.00,2338.49 885.33,2338.50 885.67,2338.50 886.00,2338.50 886.33,2338.50 886.67,2338.50 887.00,2338.50 887.33,2338.50 887.67,2338.50 888.00,2338.50 888.33,2338.50 888.67,2338.50 889.00,2338.50 889.33,2338.50 889.67,2338.50 890.00,2338.50 890.33,2338.50 890.67,2338.50 891.00,2338.50 891.33,2338.50 891.67,2338.50 892.00,2338.50 892.33,2338.50 892.67,2338.49 893.00,2338.47 893.33,2338.40 893.67,2338.24 894.00,2337.86 894.33,2337.03 894.67,2335.40 895.00,2332.51 895.33,2327.85 895.67,2321.09 896.00,2312.34 896.33,2302.35 896.67,2292.57 897.00,2284.84 897.33,2280.87 897.67,2281.59 898.00,2286.83 898.33,2295.37 898.67,2305.40 899.00,2315.14 899.33,2323.35 899.67,2329.46 900.00,2333.54 900.33,2336.00 900.67,2337.34 901.00,2338.01 901.33,2338.31 901.67,2338.43 902.00,2338.48 902.33,2338.49 902.67,2338.50 903.00,2338.50 903.33,2338.50 903.67,2338.50 904.00,2338.50 904.33,2338.50 904.67,2338.50 905.00,2338.50 905.33,2338.50 905.67,2338.50 906.00,2338.50 906.33,2338.50 906.67,2338.50 907.00,2338.50 907.33,2338.50 907.67,2338.50 908.00,2338.50 908.33,2338.50 908.67,2338.50 909.00,2338.50 909.33,2338.50 909.67,2338.49 910.00,2338.48 910.33,2338.44 910.67,2338.33 911.00,2338.06 911.33,2337.46 911.67,2336.22 912.00,2333.92 912.33,2330.05 912.67,2324.15 913.00,2316.10 913.33,2306.35 913.67,2296.08 914.00,2287.03 914.33,2281.09 914.67,2279.63 915.00,2282.99 915.33,2290.38 915.67,2300.14 916.00,2310.39 916.33,2319.56 916.67,2326.77 917.00,2331.82 917.33,2335.00 917.67,2336.82 918.00,2337.75 918.33,2338.20 918.67,2338.39 919.00,2338.46 919.33,2338.49 919.67,2338.50 920.00,2338.50 920.33,2338.50 920.67,2338.50 921.00,2338.50 921.33,2338.50 921.67,2338.50 922.00,2338.50 922.33,2338.50 922.67,2338.50 923.00,2338.50 923.33,2338.50 923.67,2338.50 924.00,2338.50 924.33,2338.50 924.67,2338.50 925.00,2338.50 925.33,2338.50 925.67,2338.50 926.00,2338.50 926.33,2338.50 926.67,2338.50 927.00,2338.49 927.33,2338.46 927.67,2338.39 928.00,2338.22 928.33,2337.80 928.67,2336.91 929.00,2335.18 929.33,2332.14 929.67,2327.28 930.00,2320.32 930.33,2311.40 930.67,2301.37 931.00,2291.71 931.33,2284.30 931.67,2280.78 932.00,2281.98 932.33,2287.61 932.67,2296.38 933.00,2306.44 933.33,2316.07 933.67,2324.07 934.00,2329.96 934.33,2333.86 934.67,2336.18 935.00,2337.43 935.33,2338.05 935.67,2338.32 936.00,2338.44 936.33,2338.48 936.67,2338.49 937.00,2338.50 937.33,2338.50 937.67,2338.50 938.00,2338.50 938.33,2338.50 938.67,2338.50 939.00,2338.50 939.33,2338.50 939.67,2338.50 940.00,2338.50 940.33,2338.50 940.67,2338.50 941.00,2338.50 941.33,2338.50 941.67,2338.50 942.00,2338.50 942.33,2338.50 942.67,2338.50 943.00,2338.50 943.33,2338.50 943.67,2338.50 944.00,2338.49 944.33,2338.48 944.67,2338.43 945.00,2338.31 945.33,2338.02 945.67,2337.37 946.00,2336.06 946.33,2333.64 946.67,2329.60 947.00,2323.52 947.33,2315.31 947.67,2305.50 948.00,2295.32 948.33,2286.56 948.67,2281.05 949.00,2280.07 949.33,2283.87 949.67,2291.54 950.00,2301.38 950.33,2311.53 950.67,2320.48 951.00,2327.43 951.33,2332.25 951.67,2335.25 952.00,2336.95 952.33,2337.82 952.67,2338.23 953.00,2338.40 953.33,2338.47 953.67,2338.49 954.00,2338.50 954.33,2338.50 954.67,2338.50 955.00,2338.50 955.33,2338.50 955.67,2338.50 956.00,2338.50 956.33,2338.50 956.67,2338.50 957.00,2338.50 957.33,2338.50 957.67,2338.50 958.00,2338.50 958.33,2338.50 958.67,2338.50 959.00,2338.50 959.33,2338.50 959.67,2338.50 960.00,2338.50 960.33,2338.50 960.67,2338.50 961.00,2338.50 961.33,2338.49 961.67,2338.46 962.00,2338.39 962.33,2338.20 962.67,2337.77 963.00,2336.85 963.33,2335.09 963.67,2332.01 964.00,2327.15 964.33,2320.26 964.67,2311.54 965.00,2301.86 965.33,2292.72 965.67,2285.91 966.00,2282.96 966.33,2284.57 966.67,2290.35 967.00,2298.98 967.33,2308.68 967.67,2317.81 968.00,2325.30 968.33,2330.76 968.67,2334.32 969.00,2336.43 969.33,2337.56 969.67,2338.10 970.00,2338.35 970.33,2338.45 970.67,2338.48 971.00,2338.49 971.33,2338.50 971.67,2338.50 972.00,2338.50 972.33,2338.50 972.67,2338.50 973.00,2338.50 973.33,2338.50 973.67,2338.50 974.00,2338.50 974.33,2338.50 974.67,2338.50 975.00,2338.50 975.33,2338.50 975.67,2338.50 976.00,2338.50 976.33,2338.50 976.67,2338.50 977.00,2338.50 977.33,2338.50 977.67,2338.50 978.00,2338.50 978.33,2338.49 978.67,2338.48 979.00,2338.43 979.33,2338.30 979.67,2338.00 980.00,2337.34 980.33,2336.01 980.67,2333.57 981.00,2329.55 981.33,2323.57 981.67,2315.58 982.00,2306.15 982.33,2296.52 982.67,2288.43 983.00,2283.58 983.33,2283.11 983.67,2287.15 984.00,2294.72 984.33,2304.19 984.67,2313.78 985.00,2322.12 985.33,2328.52 985.67,2332.91 986.00,2335.62 986.33,2337.14 986.67,2337.91 987.00,2338.26 987.33,2338.41 987.67,2338.47 988.00,2338.49 988.33,2338.50 988.67,2338.50 989.00,2338.50 989.33,2338.50 989.67,2338.50 990.00,2338.50 990.33,2338.50 990.67,2338.50 991.00,2338.50 991.33,2338.50 991.67,2338.50 992.00,2338.50 992.33,2338.50 992.67,2338.50 993.00,2338.50 993.33,2338.50 993.67,2338.50 994.00,2338.50 994.33,2338.50 994.67,2338.50 995.00,2338.50 995.33,2338.50 995.67,2338.49 996.00,2338.45 996.33,2338.37 996.67,2338.15 997.00,2337.66 997.33,2336.63 997.67,2334.67 998.00,2331.27 998.33,2325.96 998.67,2318.51 999.00,2309.21 999.33,2299.03 999.67,2289.60 1000.00,2282.80 1000.33,2280.17 1000.67,2282.33 1001.00,2288.77 1001.33,2298.02 1001.67,2308.21 1002.00,2317.66 1002.33,2325.31 1002.67,2330.83 1003.00,2334.40 1003.33,2336.48 1003.67,2337.59 1004.00,2338.12 1004.33,2338.36 1004.67,2338.45 1005.00,2338.48 1005.33,2338.50 1005.67,2338.50 1006.00,2338.50 1006.33,2338.50 1006.67,2338.50 1007.00,2338.50 1007.33,2338.50 1007.67,2338.50 1008.00,2338.50 1008.33,2338.50 1008.67,2338.50 1009.00,2338.50 1009.33,2338.50 1009.67,2338.50 1010.00,2338.50 1010.33,2338.50 1010.67,2338.50 1011.00,2338.50 1011.33,2338.50 1011.67,2338.50 1012.00,2338.50 1012.33,2338.50 1012.67,2338.49 1013.00,2338.47 1013.33,2338.42 1013.67,2338.27 1014.00,2337.92 1014.33,2337.16 1014.67,2335.65 1015.00,2332.91 1015.33,2328.43 1015.67,2321.84 1016.00,2313.14 1016.33,2303.01 1016.67,2292.83 1017.00,2284.48 1017.33,2279.74 1017.67,2279.74 1018.00,2284.48 1018.33,2292.83 1018.67,2303.01 1019.00,2313.14 1019.33,2321.84 1019.67,2328.43 1020.00,2332.91 1020.33,2335.65 1020.67,2337.16 1021.00,2337.92 1021.33,2338.27 1021.67,2338.42 1022.00,2338.47 1022.33,2338.49 1022.67,2338.50 1023.00,2338.50 1023.33,2338.50 1023.67,2338.50 1024.00,2338.50 1024.33,2338.50 1024.67,2338.50 1025.00,2338.50 1025.33,2338.50 1025.67,2338.50 1026.00,2338.50 1026.33,2338.50 1026.67,2338.50 1027.00,2338.50 1027.33,2338.50 1027.67,2338.50 1028.00,2338.50 1028.33,2338.50 1028.67,2338.50 1029.00,2338.50 1029.33,2338.50 1029.67,2338.50 1030.00,2338.48 1030.33,2338.45 1030.67,2338.36 1031.00,2338.12 1031.33,2337.59 1031.67,2336.50 1032.00,2334.42 1032.33,2330.88 1032.67,2325.40 1033.00,2317.79 1033.33,2308.40 1033.67,2298.28 1034.00,2289.09 1034.33,2282.68 1034.67,2280.53 1035.00,2283.15 1035.33,2289.91 1035.67,2299.28 1036.00,2309.39 1036.33,2318.64 1036.67,2326.04 1037.00,2331.31 1037.33,2334.69 1037.67,2336.64 1038.00,2337.67 1038.33,2338.16 1038.67,2338.37 1039.00,2338.45 1039.33,2338.49 1039.67,2338.50 1040.00,2338.50 1040.33,2338.50 1040.67,2338.50 1041.00,2338.50 1041.33,2338.50 1041.67,2338.50 1042.00,2338.50 1042.33,2338.50 1042.67,2338.50 1043.00,2338.50 1043.33,2338.50 1043.67,2338.50 1044.00,2338.50 1044.33,2338.50 1044.67,2338.50 1045.00,2338.50 1045.33,2338.50 1045.67,2338.50 1046.00,2338.50 1046.33,2338.50 1046.67,2338.50 1047.00,2338.49 1047.33,2338.47 1047.67,2338.41 1048.00,2338.25 1048.33,2337.87 1048.67,2337.05 1049.00,2335.44 1049.33,2332.57 1049.67,2327.91 1050.00,2321.11 1050.33,2312.25 1050.67,2302.07 1051.00,2292.02 1051.33,2283.98 1051.67,2279.70 1052.00,2280.19 1052.33,2285.34 1052.67,2293.94 1053.00,2304.15 1053.33,2314.16 1053.67,2322.64 1054.00,2329.00 1054.33,2333.27 1054.67,2335.85 1055.00,2337.27 1055.33,2337.97 1055.67,2338.29 1056.00,2338.42 1056.33,2338.47 1056.67,2338.49 1057.00,2338.50 1057.33,2338.50 1057.67,2338.50 1058.00,2338.50 1058.33,2338.50 1058.67,2338.50 1059.00,2338.50 1059.33,2338.50 1059.67,2338.50 1060.00,2338.50 1060.33,2338.50 1060.67,2338.50 1061.00,2338.50 1061.33,2338.50 1061.67,2338.50 1062.00,2338.50 1062.33,2338.50 1062.67,2338.50 1063.00,2338.50 1063.33,2338.50 1063.67,2338.50 1064.00,2338.49 1064.33,2338.48 1064.67,2338.44 1065.00,2338.34 1065.33,2338.08 1065.67,2337.51 1066.00,2336.33 1066.33,2334.12 1066.67,2330.38 1067.00,2324.65 1067.33,2316.79 1067.67,2307.21 1068.00,2297.04 1068.33,2287.99 1068.67,2281.92 1069.00,2280.23 1069.33,2283.33 1069.67,2290.47 1070.00,2300.06 1070.33,2310.21 1070.67,2319.36 1071.00,2326.59 1071.33,2331.69 1071.67,2334.92 1072.00,2336.77 1072.33,2337.73 1072.67,2338.19 1073.00,2338.38 1073.33,2338.46 1073.67,2338.49 1074.00,2338.50 1074.33,2338.50 1074.67,2338.50 1075.00,2338.50 1075.33,2338.50 1075.67,2338.50 1076.00,2338.50 1076.33,2338.50 1076.67,2338.50 1077.00,2338.50 1077.33,2338.50 1077.67,2338.50 1078.00,2338.50 1078.33,2338.50 1078.67,2338.50 1079.00,2338.50 1079.33,2338.50 1079.67,2338.50 1080.00,2338.50 1080.33,2338.50 1080.67,2338.50 1081.00,2338.50 1081.33,2338.49 1081.67,2338.47 1082.00,2338.40 1082.33,2338.23 1082.67,2337.82 1083.00,2336.96 1083.33,2335.28 1083.67,2332.29 1084.00,2327.51 1084.33,2320.61 1084.67,2311.72 1085.00,2301.64 1085.33,2291.87 1085.67,2284.26 1086.00,2280.48 1086.33,2281.45 1086.67,2286.92 1087.00,2295.63 1087.33,2305.73 1087.67,2315.48 1088.00,2323.63 1088.33,2329.66 1088.67,2333.67 1089.00,2336.08 1089.33,2337.38 1089.67,2338.03 1090.00,2338.31 1090.33,2338.43 1090.67,2338.48 1091.00,2338.49 1091.33,2338.50 1091.67,2338.50 1092.00,2338.50" fill="none" stroke="#8E90C8" stroke-width="1.15" stroke-linejoin="round"/>
<polyline points="649.40,2338.50 649.73,2338.50 650.07,2338.50 650.40,2338.50 650.73,2338.49 651.07,2338.48 651.40,2338.47 651.73,2338.43 652.07,2338.35 652.40,2338.21 652.73,2337.96 653.07,2337.53 653.40,2336.83 653.73,2335.75 654.07,2334.16 654.40,2331.95 654.73,2329.02 655.07,2325.38 655.40,2321.10 655.73,2316.41 656.07,2311.65 656.40,2307.24 656.73,2303.66 657.07,2301.32 657.40,2300.50 657.73,2301.32 658.07,2303.66 658.40,2307.24 658.73,2311.65 659.07,2316.41 659.40,2321.10 659.73,2325.38 660.07,2329.02 660.40,2331.95 660.73,2334.16 661.07,2335.75 661.40,2336.83 661.73,2337.53 662.07,2337.96 662.40,2338.21 662.73,2338.35 663.07,2338.43 663.40,2338.47 663.73,2338.48 664.07,2338.49 664.40,2338.50 664.73,2338.50 665.07,2338.50 665.40,2338.50" fill="none" stroke="#90C890" stroke-width="1.15" stroke-linejoin="round"/>
<polyline points="808.50,2338.50 808.83,2338.50 809.17,2338.50 809.50,2338.50 809.83,2338.49 810.17,2338.48 810.50,2338.45 810.83,2338.38 811.17,2338.24 811.50,2337.97 811.83,2337.47 812.17,2336.64 812.50,2335.35 812.83,2333.51 813.17,2331.10 813.50,2328.22 813.83,2325.13 814.17,2322.21 814.50,2319.93 814.83,2318.66 815.17,2318.66 815.50,2319.93 815.83,2322.21 816.17,2325.13 816.50,2328.22 816.83,2331.10 817.17,2333.51 817.50,2335.35 817.83,2336.64 818.17,2337.47 818.50,2337.97 818.83,2338.24 819.17,2338.38 819.50,2338.45 819.83,2338.48 820.17,2338.49 820.50,2338.50 820.83,2338.50 821.17,2338.50 821.50,2338.50" fill="none" stroke="#90C890" stroke-width="1.15" stroke-linejoin="round"/>
<polyline points="850.50,2338.50 850.83,2338.50 851.17,2338.50 851.50,2338.50 851.83,2338.49 852.17,2338.46 852.50,2338.41 852.83,2338.29 853.17,2338.03 853.50,2337.54 853.83,2336.65 854.17,2335.15 854.50,2332.83 854.83,2329.52 855.17,2325.18 855.50,2320.00 855.83,2314.43 856.17,2309.19 856.50,2305.07 856.83,2302.79 857.17,2302.79 857.50,2305.07 857.83,2309.19 858.17,2314.43 858.50,2320.00 858.83,2325.18 859.17,2329.52 859.50,2332.83 859.83,2335.15 860.17,2336.65 860.50,2337.54 860.83,2338.03 861.17,2338.29 861.50,2338.41 861.83,2338.46 862.17,2338.49 862.50,2338.50 862.83,2338.50 863.17,2338.50 863.50,2338.50" fill="none" stroke="#90C890" stroke-width="1.15" stroke-linejoin="round"/>
<polyline points="866.50,2338.50 866.83,2338.50 867.17,2338.50 867.50,2338.49 867.83,2338.48 868.17,2338.46 868.50,2338.39 868.83,2338.24 869.17,2337.93 869.50,2337.33 869.83,2336.24 870.17,2334.41 870.50,2331.58 870.83,2327.53 871.17,2322.22 871.50,2315.89 871.83,2309.09 872.17,2302.67 872.50,2297.64 872.83,2294.86 873.17,2294.86 873.50,2297.64 873.83,2302.67 874.17,2309.09 874.50,2315.89 874.83,2322.22 875.17,2327.53 875.50,2331.58 875.83,2334.41 876.17,2336.24 876.50,2337.33 876.83,2337.93 877.17,2338.24 877.50,2338.39 877.83,2338.46 878.17,2338.48 878.50,2338.49 878.83,2338.50 879.17,2338.50 879.50,2338.50" fill="none" stroke="#90C890" stroke-width="1.15" stroke-linejoin="round"/>
<polyline points="1034.50,2338.50 1034.83,2338.50 1035.17,2338.50 1035.50,2338.50 1035.83,2338.49 1036.17,2338.47 1036.50,2338.42 1036.83,2338.32 1037.17,2338.11 1037.50,2337.70 1037.83,2336.96 1038.17,2335.71 1038.50,2333.78 1038.83,2331.02 1039.17,2327.40 1039.50,2323.08 1039.83,2318.44 1040.17,2314.07 1040.50,2310.64 1040.83,2308.75 1041.17,2308.75 1041.50,2310.64 1041.83,2314.07 1042.17,2318.44 1042.50,2323.08 1042.83,2327.40 1043.17,2331.02 1043.50,2333.78 1043.83,2335.71 1044.17,2336.96 1044.50,2337.70 1044.83,2338.11 1045.17,2338.32 1045.50,2338.42 1045.83,2338.47 1046.17,2338.49 1046.50,2338.50 1046.83,2338.50 1047.17,2338.50 1047.50,2338.50" fill="none" stroke="#90C890" stroke-width="1.15" stroke-linejoin="round"/>
<polyline points="872.50,2338.50 872.83,2338.50 873.17,2338.50 873.50,2338.50 873.83,2338.49 874.17,2338.48 874.50,2338.45 874.83,2338.39 875.17,2338.27 875.50,2338.02 875.83,2337.57 876.17,2336.83 876.50,2335.67 876.83,2334.01 877.17,2331.84 877.50,2329.25 877.83,2326.47 878.17,2323.84 878.50,2321.78 878.83,2320.65 879.17,2320.65 879.50,2321.78 879.83,2323.84 880.17,2326.47 880.50,2329.25 880.83,2331.84 881.17,2334.01 881.50,2335.67 881.83,2336.83 882.17,2337.57 882.50,2338.02 882.83,2338.27 883.17,2338.39 883.50,2338.45 883.83,2338.48 884.17,2338.49 884.50,2338.50 884.83,2338.50 885.17,2338.50 885.50,2338.50" fill="none" stroke="#707070" stroke-width="1.00" stroke-linejoin="round"/>
<polyline points="1039.50,2338.50 1039.83,2338.50 1040.17,2338.50 1040.50,2338.50 1040.83,2338.49 1041.17,2338.48 1041.50,2338.44 1041.83,2338.35 1042.17,2338.18 1042.50,2337.83 1042.83,2337.21 1043.17,2336.17 1043.50,2334.57 1043.83,2332.27 1044.17,2329.25 1044.50,2325.65 1044.83,2321.79 1045.17,2318.14 1045.50,2315.28 1045.83,2313.70 1046.17,2313.70 1046.50,2315.28 1046.83,2318.14 1047.17,2321.79 1047.50,2325.65 1047.83,2329.25 1048.17,2332.27 1048.50,2334.57 1048.83,2336.17 1049.17,2337.21 1049.50,2337.83 1049.83,2338.18 1050.17,2338.35 1050.50,2338.44 1050.83,2338.48 1051.17,2338.49 1051.50,2338.50 1051.83,2338.50 1052.17,2338.50 1052.50,2338.50" fill="none" stroke="#707070" stroke-width="1.00" stroke-linejoin="round"/>
<rect x="553" y="2338" width="539" height="1" fill="#777"/>
<rect x="553" y="2340.5" width="540" height="1.6" fill="#d4d4d4"/>
<text y="2254" font-size="5.5" font-weight="bold" style="stroke:none"><tspan x="557.5" fill="#C85A5A">T</tspan><tspan x="563.2" fill="#C85A5A">T</tspan><tspan x="569.0" fill="#5A5AB4">C</tspan><tspan x="574.8" fill="#C85A5A">T</tspan><tspan x="580.5" fill="#C85A5A">T</tspan><tspan x="586.2" fill="#5A5AB4">C</tspan><tspan x="592.0" fill="#C85A5A">T</tspan><tspan x="597.8" fill="#C85A5A">T</tspan><tspan x="603.5" fill="#5A5AB4">C</tspan><tspan x="609.2" fill="#C85A5A">T</tspan><tspan x="615.0" fill="#C85A5A">T</tspan><tspan x="620.8" fill="#5A5AB4">C</tspan><tspan x="626.5" fill="#C85A5A">T</tspan><tspan x="632.2" fill="#C85A5A">T</tspan><tspan x="638.0" fill="#5A5AB4">C</tspan><tspan x="643.8" fill="#C85A5A">T</tspan><tspan x="649.5" fill="#C85A5A">T</tspan><tspan x="655.2" fill="#3C9C3C">A</tspan><tspan x="661.0" fill="#C85A5A">T</tspan><tspan x="666.8" fill="#C85A5A">T</tspan><tspan x="672.5" fill="#5A5AB4">C</tspan><tspan x="678.2" fill="#C85A5A">T</tspan><tspan x="684.0" fill="#C85A5A">T</tspan><tspan x="689.8" fill="#5A5AB4">C</tspan><tspan x="695.5" fill="#C85A5A">T</tspan><tspan x="701.2" fill="#C85A5A">T</tspan><tspan x="707.0" fill="#5A5AB4">C</tspan><tspan x="712.8" fill="#C85A5A">T</tspan><tspan x="718.5" fill="#C85A5A">T</tspan><tspan x="724.2" fill="#5A5AB4">C</tspan><tspan x="730.0" fill="#C85A5A">T</tspan><tspan x="735.8" fill="#C85A5A">T</tspan><tspan x="741.5" fill="#5A5AB4">C</tspan><tspan x="747.2" fill="#C85A5A">T</tspan><tspan x="753.0" fill="#C85A5A">T</tspan><tspan x="758.8" fill="#5A5AB4">C</tspan><tspan x="764.5" fill="#C85A5A">T</tspan><tspan x="770.2" fill="#C85A5A">T</tspan><tspan x="776.0" fill="#5A5AB4">C</tspan><tspan x="781.8" fill="#C85A5A">T</tspan><tspan x="787.5" fill="#C85A5A">T</tspan><tspan x="793.2" fill="#5A5AB4">C</tspan><tspan x="799.0" fill="#C85A5A">T</tspan><tspan x="804.8" fill="#C85A5A">T</tspan><tspan x="810.5" fill="#5A5AB4">C</tspan><tspan x="816.2" fill="#333333">G</tspan><tspan x="822.0" fill="#3C9C3C">A</tspan><tspan x="827.8" fill="#C85A5A">T</tspan><tspan x="833.5" fill="#5A5AB4">C</tspan><tspan x="839.2" fill="#C85A5A">T</tspan><tspan x="845.0" fill="#C85A5A">T</tspan><tspan x="850.8" fill="#5A5AB4">C</tspan><tspan x="856.5" fill="#C85A5A">T</tspan><tspan x="862.2" fill="#3C9C3C">A</tspan><tspan x="868.0" fill="#5A5AB4">C</tspan><tspan x="873.8" fill="#C85A5A">T</tspan><tspan x="879.5" fill="#3C9C3C">A</tspan><tspan x="885.2" fill="#333333">G</tspan><tspan x="891.0" fill="#C85A5A">T</tspan><tspan x="896.8" fill="#5A5AB4">C</tspan><tspan x="902.5" fill="#C85A5A">T</tspan><tspan x="908.2" fill="#C85A5A">T</tspan><tspan x="914.0" fill="#5A5AB4">C</tspan><tspan x="919.8" fill="#C85A5A">T</tspan><tspan x="925.5" fill="#C85A5A">T</tspan><tspan x="931.2" fill="#5A5AB4">C</tspan><tspan x="937.0" fill="#C85A5A">T</tspan><tspan x="942.8" fill="#C85A5A">T</tspan><tspan x="948.5" fill="#5A5AB4">C</tspan><tspan x="954.2" fill="#C85A5A">T</tspan><tspan x="960.0" fill="#C85A5A">T</tspan><tspan x="965.8" fill="#5A5AB4">C</tspan><tspan x="971.5" fill="#C85A5A">T</tspan><tspan x="977.2" fill="#C85A5A">T</tspan><tspan x="983.0" fill="#5A5AB4">C</tspan><tspan x="988.8" fill="#C85A5A">T</tspan><tspan x="994.5" fill="#C85A5A">T</tspan><tspan x="1000.2" fill="#5A5AB4">C</tspan><tspan x="1006.0" fill="#C85A5A">T</tspan><tspan x="1011.8" fill="#C85A5A">T</tspan><tspan x="1017.5" fill="#5A5AB4">C</tspan><tspan x="1023.2" fill="#C85A5A">T</tspan><tspan x="1029.0" fill="#C85A5A">T</tspan><tspan x="1034.8" fill="#5A5AB4">C</tspan><tspan x="1040.5" fill="#C85A5A">T</tspan><tspan x="1046.2" fill="#C85A5A">T</tspan><tspan x="1052.0" fill="#5A5AB4">C</tspan><tspan x="1057.8" fill="#C85A5A">T</tspan><tspan x="1063.5" fill="#3C9C3C">A</tspan><tspan x="1069.2" fill="#333333">G</tspan><tspan x="1075.0" fill="#C85A5A">T</tspan><tspan x="1080.8" fill="#5A5AB4">C</tspan><tspan x="1086.5" fill="#C85A5A">T</tspan></text>
<text y="2247" font-size="5.5" font-weight="bold" fill="#222" style="stroke:none"><tspan x="557.5">10</tspan><tspan x="614.7">20</tspan><tspan x="671.9">30</tspan><tspan x="729.1">40</tspan><tspan x="786.3">50</tspan><tspan x="843.5">60</tspan><tspan x="900.7">70</tspan><tspan x="957.9">80</tspan><tspan x="1015.1">90</tspan><tspan x="1072.3">100</tspan></text>
<text transform="translate(1142.32,2329.50) scale(0.9778,1)" font-size="32.26" fill="#000"><tspan>Consensus</tspan></text>
</svg>
</body></html>
